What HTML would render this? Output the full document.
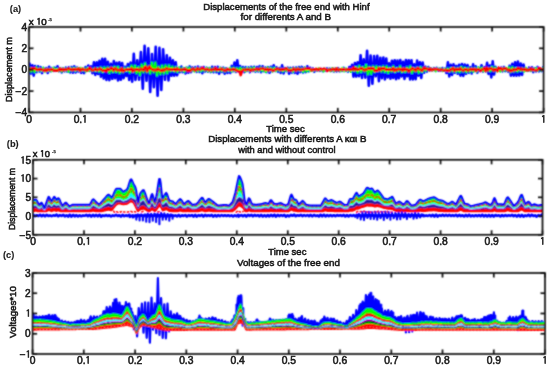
<!DOCTYPE html><html><head><meta charset="utf-8"><title>Displacements of the free end</title><style>html,body{margin:0;padding:0;background:#fff;overflow:hidden;width:550px;height:369px}svg{display:block}#w{width:550px;height:369px} text{stroke:#1a1a1a;stroke-width:0.55px}</style></head><body><div id="w"><svg width="550" height="369" viewBox="0 0 550 369" font-family="'Liberation Sans', sans-serif" font-size="9.5" fill="#1a1a1a"><defs><filter id="bl" x="0" y="0" width="550" height="369" filterUnits="userSpaceOnUse"><feConvolveMatrix order="3" kernelMatrix="1 2 1 2 8 2 1 2 1" divisor="20" edgeMode="duplicate" preserveAlpha="false"/></filter><clipPath id="c0"><rect x="29.0" y="27.0" width="514.6" height="85.4"/></clipPath><clipPath id="c1"><rect x="33.0" y="159.8" width="509.5" height="75.0"/></clipPath><clipPath id="c2"><rect x="32.6" y="273.0" width="512.4" height="81.0"/></clipPath></defs><g filter="url(#bl)"><g clip-path="url(#c0)"><polyline points="29.5,63.6 30.9,73.5 32.3,65.2 33.7,75.6 35.1,66.0 36.5,72.1 37.9,66.2 39.3,71.5 40.7,67.2 42.1,73.1 43.5,68.0 44.9,71.2 46.3,68.2 47.7,72.9 49.1,66.7 50.5,71.2 51.9,68.1 53.3,70.9 54.7,67.7 56.1,70.8 57.5,66.3 58.9,71.1 60.3,68.1 61.7,72.4 63.1,68.3 64.5,71.3 65.9,67.6 67.3,71.5 68.7,67.3 70.1,72.5 71.5,67.0 72.9,72.6 74.3,66.4 75.7,72.5 77.1,67.5 78.5,71.7 79.9,68.1 81.3,72.8 82.7,68.7 84.1,73.1 85.5,67.1 86.9,70.9 88.3,65.6 89.7,70.8 91.1,66.4 92.5,73.2 93.9,62.3 95.3,74.9 96.7,62.4 98.1,74.0 99.5,60.7 100.9,76.6 102.3,58.9 103.7,78.4 105.1,58.7 106.5,80.0 107.9,61.7 109.4,80.2 110.9,63.7 112.4,78.8 113.8,61.1 115.2,78.2 116.6,62.7 118.0,80.5 119.4,62.3 120.8,79.8 122.2,63.1 123.6,78.1 125.0,66.7 126.4,76.0 127.8,64.1 129.2,79.9 130.6,62.6 132.2,81.6 133.8,53.9 135.5,79.9 137.3,60.2 139.1,79.6 140.9,52.1 142.8,88.6 144.6,45.9 146.5,80.6 148.3,48.2 150.2,92.0 152.0,54.1 153.9,87.2 155.7,46.8 157.6,95.7 159.4,47.7 161.3,90.0 163.1,49.2 165.0,79.8 166.8,55.3 168.5,80.5 170.0,57.8 171.5,75.8 172.9,60.3 174.3,75.7 175.7,62.2 177.1,75.3 178.5,68.1 179.9,72.1 181.3,66.6 182.7,72.3 184.1,68.3 185.5,73.4 186.9,67.7 188.3,72.7 189.7,66.4 191.1,72.1 192.5,67.4 193.9,70.6 195.3,67.2 196.7,71.8 198.1,66.7 199.5,71.9 200.9,67.6 202.3,73.2 203.7,67.0 205.1,71.5 206.5,67.8 207.9,71.6 209.3,68.2 210.7,72.1 212.1,66.8 213.5,72.2 214.9,67.1 216.3,72.2 217.7,66.7 219.1,73.7 220.5,67.8 221.9,71.9 223.3,67.7 224.7,73.7 226.1,68.3 227.5,72.9 228.9,68.9 230.3,72.9 231.7,65.9 233.1,71.2 234.5,62.5 235.9,71.9 237.3,60.4 238.7,71.5 240.1,66.1 241.5,71.7 242.9,67.0 244.3,72.1 245.7,67.2 247.1,70.8 248.5,67.4 249.9,72.1 251.3,66.9 252.7,71.0 254.1,66.8 255.5,71.7 256.9,67.0 258.3,71.4 259.7,66.2 261.1,72.1 262.5,66.2 263.9,71.2 265.3,67.5 266.7,72.2 268.1,67.2 269.5,72.7 270.9,66.7 272.3,71.5 273.7,65.2 275.1,71.0 276.5,67.3 277.9,71.7 279.3,68.2 280.7,72.8 282.1,65.4 283.5,73.4 284.9,68.1 286.3,71.1 287.7,67.7 289.1,73.8 290.5,67.9 291.9,72.7 293.3,67.5 294.7,72.8 296.1,67.5 297.5,73.7 298.9,67.0 300.3,72.1 301.7,66.9 303.1,72.7 304.5,67.7 305.9,72.1 307.3,66.2 308.7,71.3 310.1,67.8 311.5,70.6 312.9,68.4 314.3,71.7 315.7,69.2 317.1,70.5 318.5,69.0 319.9,70.8 321.3,69.0 322.7,71.1 324.1,68.8 325.5,70.8 326.9,68.3 328.3,70.2 329.7,68.6 331.1,71.0 332.5,68.3 333.9,71.5 335.3,68.6 336.7,71.3 338.1,68.2 339.5,71.3 340.9,69.1 342.3,70.8 343.7,67.9 345.1,70.9 346.5,69.0 347.9,71.7 349.3,67.0 350.7,71.2 352.1,64.8 353.5,76.6 354.9,63.0 356.3,76.5 357.7,62.2 359.1,76.2 360.6,55.4 362.1,78.0 363.7,59.4 365.4,77.6 367.1,50.7 368.8,85.6 370.6,55.6 372.4,83.7 374.1,56.0 375.7,76.3 377.3,55.9 378.9,81.2 380.4,57.8 381.9,78.1 383.4,57.6 384.9,79.4 386.3,58.6 387.7,77.4 389.1,63.4 390.5,78.7 391.9,60.7 393.3,77.9 394.7,60.2 396.1,79.1 397.5,60.6 398.9,78.3 400.3,60.0 401.7,76.4 403.1,61.8 404.5,79.0 405.9,60.1 407.3,76.3 408.7,60.2 410.1,79.4 411.5,60.2 412.9,79.4 414.3,64.4 415.7,79.1 417.1,60.6 418.5,75.7 419.9,62.2 421.3,78.0 422.7,62.6 424.1,72.7 425.5,66.8 426.9,71.6 428.3,67.1 429.7,70.3 431.1,68.6 432.5,70.3 433.9,68.2 435.3,70.5 436.7,67.9 438.1,70.7 439.5,68.5 440.9,70.6 442.3,68.0 443.7,70.7 445.1,68.5 446.5,73.0 447.9,62.3 449.3,76.4 450.7,64.9 452.1,74.9 453.5,64.4 454.9,72.7 456.3,65.9 457.7,73.7 459.1,64.7 460.5,75.6 461.9,64.0 463.3,75.9 464.7,64.6 466.1,73.8 467.5,65.0 468.9,72.8 470.3,67.2 471.7,73.5 473.1,64.4 474.5,71.3 475.9,66.4 477.3,72.7 478.7,67.9 480.1,71.1 481.5,65.3 482.9,71.6 484.3,67.3 485.7,71.4 487.1,62.9 488.5,73.9 489.9,65.5 491.3,77.4 492.7,61.4 494.1,74.5 495.5,66.8 496.9,70.8 498.3,68.0 499.7,70.8 501.1,67.5 502.5,71.4 503.9,67.0 505.3,71.1 506.7,68.8 508.1,71.7 509.5,65.8 510.9,75.6 512.3,63.9 513.7,75.7 515.1,62.2 516.5,75.7 517.9,61.6 519.3,75.4 520.7,63.6 522.1,74.9 523.5,64.5 524.9,70.6 526.3,68.8 527.7,70.8 529.1,67.6 530.5,70.8 531.9,67.3 533.3,72.1 534.7,68.3 536.1,71.4 537.5,67.0 538.9,71.3 540.3,68.7 541.7,71.1 543.1,67.4" fill="none" stroke="#0000ff" stroke-width="2.6" stroke-linejoin="round" stroke-linecap="round"/><polyline points="29.5,67.3 31.2,71.7 32.9,68.4 34.6,72.0 36.3,67.3 38.0,70.8 39.7,68.4 41.4,70.8 43.1,67.7 44.8,71.7 46.5,68.8 48.2,71.0 49.9,68.6 51.6,71.1 53.3,67.7 55.0,70.6 56.7,68.7 58.4,71.1 60.1,68.2 61.8,71.5 63.5,68.3 65.2,70.7 66.9,68.4 68.6,71.8 70.3,67.9 72.0,70.7 73.7,67.9 75.4,70.9 77.1,67.9 78.8,70.6 80.5,67.8 82.2,70.7 83.9,68.3 85.6,71.4 87.3,68.1 89.0,70.8 90.7,68.4 92.4,71.1 94.1,68.4 95.8,71.1 97.5,68.2 99.2,71.7 100.9,67.5 102.6,72.2 104.3,67.5 106.0,71.2 107.7,67.3 109.4,72.9 111.1,67.5 112.8,72.1 114.5,66.7 116.2,72.1 117.9,66.7 119.6,73.2 121.3,68.0 123.0,72.4 124.7,68.2 126.4,71.0 128.1,67.7 129.8,72.6 131.5,65.6 133.2,72.0 134.9,65.6 136.6,73.2 138.3,67.0 140.0,74.9 141.7,64.7 143.4,72.3 145.1,63.4 146.8,72.4 148.5,66.5 150.2,73.5 151.9,62.7 153.6,72.3 155.3,62.6 157.0,75.6 158.7,66.7 160.4,74.1 162.1,65.6 163.8,73.7 165.5,65.3 167.2,73.3 168.9,65.4 170.6,71.4 172.3,66.6 174.0,71.5 175.7,67.2 177.4,72.0 179.1,67.3 180.8,71.0 182.5,68.2 184.2,71.9 185.9,67.6 187.6,71.1 189.3,67.6 191.0,71.2 192.7,68.3 194.4,71.6 196.1,68.2 197.8,71.2 199.5,68.3 201.2,71.2 202.9,68.6 204.6,70.7 206.3,67.8 208.0,71.4 209.7,67.9 211.4,71.7 213.1,68.5 214.8,70.9 216.5,68.5 218.2,71.0 219.9,67.8 221.6,71.1 223.3,68.4 225.0,71.5 226.7,68.6 228.4,70.8 230.1,67.8 231.8,71.4 233.5,67.6 235.2,71.2 236.9,68.2 238.6,71.0 240.3,67.8 242.0,71.0 243.7,68.4 245.4,71.4 247.1,68.0 248.8,70.8 250.5,67.9 252.2,70.7 253.9,67.5 255.6,70.9 257.3,68.4 259.0,70.9 260.7,67.4 262.4,71.0 264.1,67.9 265.8,72.0 267.5,67.4 269.2,70.7 270.9,68.0 272.6,71.5 274.3,67.8 276.0,71.1 277.7,68.3 279.4,70.7 281.1,68.7 282.8,71.4 284.5,68.6 286.2,70.9 287.9,68.3 289.6,70.7 291.3,68.7 293.0,71.9 294.7,68.2 296.4,70.9 298.1,67.8 299.8,70.6 301.5,68.4 303.2,71.9 304.9,67.6 306.6,71.5 308.3,68.7 310.0,71.0 311.7,68.9 313.4,70.6 315.1,68.9 316.8,70.5 318.5,68.3 320.2,70.5 321.9,68.8 323.6,71.3 325.3,68.6 327.0,70.8 328.7,68.9 330.4,71.2 332.1,68.2 333.8,71.0 335.5,68.3 337.2,70.5 338.9,68.7 340.6,71.0 342.3,67.9 344.0,71.3 345.7,68.3 347.4,70.9 349.1,68.9 350.8,71.8 352.5,68.5 354.2,71.1 355.9,66.9 357.6,72.7 359.3,65.9 361.0,72.2 362.7,67.1 364.4,71.5 366.1,64.8 367.8,74.4 369.5,66.7 371.2,73.9 372.9,66.4 374.6,72.2 376.3,66.4 378.0,71.3 379.7,66.8 381.4,71.6 383.1,66.4 384.8,72.2 386.5,66.3 388.2,73.0 389.9,67.7 391.6,71.6 393.3,66.4 395.0,72.1 396.7,68.1 398.4,71.2 400.1,66.3 401.8,72.3 403.5,68.2 405.2,72.1 406.9,67.3 408.6,72.0 410.3,66.4 412.0,73.0 413.7,68.1 415.4,71.4 417.1,67.5 418.8,72.8 420.5,67.1 422.2,72.1 423.9,67.6 425.6,70.8 427.3,67.7 429.0,70.4 430.7,68.3 432.4,70.5 434.1,68.5 435.8,71.3 437.5,68.4 439.2,70.4 440.9,68.5 442.6,71.0 444.3,68.9 446.0,71.0 447.7,68.5 449.4,71.7 451.1,67.9 452.8,71.6 454.5,68.0 456.2,71.9 457.9,68.2 459.6,72.2 461.3,66.9 463.0,71.6 464.7,67.7 466.4,72.1 468.1,68.2 469.8,71.8 471.5,68.3 473.2,71.7 474.9,68.2 476.6,71.5 478.3,67.4 480.0,70.7 481.7,67.6 483.4,71.4 485.1,68.2 486.8,71.2 488.5,68.3 490.2,71.3 491.9,66.9 493.6,71.2 495.3,67.5 497.0,71.5 498.7,67.7 500.4,71.5 502.1,67.9 503.8,70.7 505.5,67.7 507.2,70.7 508.9,67.3 510.6,72.1 512.3,67.2 514.0,71.6 515.7,68.0 517.4,71.6 519.1,67.9 520.8,70.9 522.5,68.3 524.2,71.5 525.9,67.8 527.6,70.6 529.3,68.9 531.0,70.7 532.7,68.7 534.4,70.7 536.1,68.2 537.8,70.9 539.5,68.4 541.2,70.7 542.9,68.1" fill="none" stroke="#00ff00" stroke-width="2.2" stroke-linejoin="round" stroke-linecap="round"/><polyline points="29.5,69.2 30.7,69.8 31.9,68.1 33.1,69.2 34.3,68.3 35.5,68.8 36.7,69.9 37.9,69.7 39.1,69.2 40.3,69.4 41.5,69.5 42.7,69.7 43.9,70.6 45.1,69.6 46.3,70.9 47.5,69.3 48.7,69.9 49.9,69.9 51.1,69.6 52.3,69.3 53.5,70.4 54.7,70.6 55.9,70.2 57.1,70.8 58.3,70.1 59.5,68.5 60.7,70.1 61.9,69.1 63.1,70.3 64.3,69.3 65.5,69.7 66.7,69.5 67.9,69.1 69.1,68.4 70.3,69.4 71.5,69.4 72.7,70.1 73.9,69.1 75.1,69.6 76.3,69.0 77.5,69.5 78.7,68.4 79.9,70.7 81.1,69.7 82.3,68.9 83.5,69.7 84.7,70.0 85.9,69.7 87.1,70.4 88.3,69.4 89.5,67.8 90.7,68.7 91.9,70.3 93.1,70.1 94.3,69.8 95.5,68.7 96.7,70.1 97.9,70.0 99.1,68.8 100.3,68.8 101.5,69.8 102.7,70.4 103.9,70.8 105.1,70.1 106.3,71.4 107.5,68.9 108.7,70.0 109.9,69.1 111.1,67.9 112.3,68.5 113.5,70.4 114.7,68.8 115.9,68.6 117.1,70.1 118.3,70.2 119.5,69.6 120.7,70.7 121.9,68.4 123.1,71.2 124.3,70.3 125.5,69.7 126.7,69.6 127.9,69.4 129.1,69.3 130.3,69.7 131.5,68.5 132.7,71.4 133.9,69.5 135.1,70.2 136.3,69.4 137.5,69.3 138.7,70.4 139.9,70.2 141.1,68.6 142.3,69.1 143.5,70.2 144.7,67.2 145.9,66.8 147.1,71.2 148.3,69.1 149.5,66.5 150.7,68.5 151.9,69.2 153.1,69.7 154.3,70.2 155.5,69.7 156.7,70.2 157.9,68.6 159.1,69.9 160.3,70.0 161.5,70.8 162.7,69.5 163.9,70.4 165.1,69.7 166.3,68.5 167.5,69.1 168.7,69.0 169.9,69.2 171.1,69.4 172.3,69.6 173.5,69.7 174.7,68.9 175.9,70.3 177.1,68.6 178.3,69.5 179.5,70.0 180.7,69.8 181.9,69.9 183.1,69.4 184.3,69.9 185.5,68.8 186.7,70.0 187.9,70.9 189.1,70.0 190.3,70.8 191.5,69.5 192.7,68.8 193.9,69.1 195.1,70.3 196.3,70.0 197.5,68.4 198.7,69.3 199.9,69.5 201.1,68.8 202.3,67.9 203.5,68.7 204.7,69.4 205.9,69.3 207.1,69.1 208.3,69.9 209.5,70.2 210.7,69.5 211.9,70.1 213.1,69.5 214.3,69.4 215.5,68.0 216.7,70.0 217.9,69.6 219.1,69.6 220.3,69.2 221.5,68.8 222.7,69.8 223.9,70.0 225.1,70.5 226.3,70.1 227.5,69.1 228.7,69.5 229.9,70.1 231.1,69.8 232.3,69.5 233.5,69.1 234.7,70.0 235.9,69.7 237.1,71.0 238.3,71.0 239.5,71.2 240.7,75.1 241.9,71.7 243.1,69.7 244.3,69.7 245.5,70.0 246.7,69.5 247.9,69.5 249.1,69.5 250.3,70.7 251.5,69.6 252.7,70.0 253.9,69.8 255.1,69.3 256.3,69.1 257.5,68.9 258.7,69.8 259.9,68.9 261.1,68.7 262.3,68.7 263.5,68.6 264.7,69.6 265.9,69.6 267.1,68.9 268.3,70.4 269.5,69.3 270.7,69.8 271.9,69.7 273.1,70.6 274.3,70.1 275.5,69.5 276.7,68.9 277.9,68.8 279.1,69.5 280.3,69.6 281.5,70.0 282.7,69.2 283.9,69.6 285.1,69.1 286.3,68.3 287.5,69.5 288.7,70.5 289.9,70.1 291.1,70.4 292.3,70.3 293.5,68.6 294.7,69.3 295.9,70.5 297.1,69.1 298.3,68.7 299.5,69.7 300.7,69.9 301.9,69.7 303.1,69.3 304.3,69.1 305.5,68.7 306.7,68.7 307.9,68.7 309.1,68.6 310.3,69.1 311.5,70.4 312.7,69.6 313.9,69.3 315.1,69.7 316.3,68.9 317.5,69.7 318.7,70.0 319.9,68.6 321.1,69.1 322.3,69.4 323.5,68.9 324.7,68.9 325.9,69.3 327.1,71.0 328.3,69.9 329.5,69.8 330.7,70.1 331.9,69.4 333.1,68.8 334.3,69.8 335.5,70.2 336.7,68.3 337.9,69.8 339.1,70.2 340.3,69.3 341.5,69.2 342.7,69.9 343.9,69.0 345.1,69.8 346.3,70.0 347.5,69.4 348.7,69.0 349.9,69.9 351.1,69.3 352.3,69.6 353.5,67.5 354.7,70.0 355.9,68.4 357.1,69.5 358.3,69.6 359.5,68.8 360.7,68.7 361.9,68.3 363.1,69.2 364.3,70.1 365.5,70.0 366.7,69.0 367.9,68.9 369.1,68.1 370.3,69.1 371.5,68.4 372.7,68.0 373.9,69.3 375.1,70.9 376.3,70.6 377.5,70.8 378.7,68.1 379.9,70.2 381.1,68.4 382.3,69.0 383.5,68.0 384.7,68.7 385.9,69.6 387.1,69.6 388.3,69.4 389.5,69.3 390.7,69.9 391.9,69.5 393.1,68.2 394.3,70.8 395.5,69.3 396.7,70.2 397.9,69.3 399.1,68.8 400.3,69.5 401.5,68.9 402.7,70.7 403.9,68.6 405.1,70.0 406.3,69.0 407.5,69.3 408.7,71.5 409.9,70.1 411.1,69.3 412.3,68.3 413.5,69.3 414.7,69.3 415.9,70.6 417.1,68.4 418.3,68.1 419.5,69.5 420.7,69.7 421.9,70.7 423.1,68.8 424.3,67.6 425.5,69.0 426.7,68.7 427.9,69.1 429.1,70.1 430.3,68.7 431.5,70.2 432.7,69.6 433.9,69.3 435.1,69.0 436.3,69.2 437.5,69.3 438.7,69.9 439.9,70.2 441.1,69.5 442.3,69.9 443.5,70.3 444.7,70.2 445.9,69.8 447.1,70.8 448.3,70.5 449.5,70.7 450.7,69.4 451.9,69.2 453.1,68.0 454.3,70.6 455.5,70.0 456.7,68.8 457.9,69.6 459.1,69.7 460.3,68.3 461.5,69.7 462.7,70.3 463.9,70.4 465.1,69.2 466.3,69.3 467.5,70.4 468.7,70.2 469.9,69.1 471.1,69.1 472.3,69.9 473.5,69.1 474.7,69.1 475.9,70.7 477.1,69.7 478.3,69.2 479.5,69.9 480.7,70.9 481.9,69.7 483.1,69.0 484.3,68.4 485.5,71.0 486.7,67.7 487.9,70.3 489.1,68.8 490.3,68.5 491.5,68.7 492.7,69.4 493.9,70.4 495.1,69.0 496.3,69.9 497.5,71.0 498.7,67.7 499.9,69.0 501.1,68.4 502.3,70.0 503.5,68.6 504.7,68.5 505.9,68.5 507.1,69.5 508.3,70.3 509.5,69.6 510.7,71.1 511.9,70.8 513.1,69.4 514.3,70.2 515.5,69.6 516.7,69.6 517.9,68.0 519.1,68.5 520.3,69.5 521.5,68.6 522.7,70.0 523.9,69.7 525.1,68.9 526.3,70.3 527.5,69.7 528.7,70.3 529.9,69.4 531.1,68.5 532.3,70.0 533.5,69.3 534.7,70.0 535.9,70.2 537.1,70.2 538.3,68.6 539.5,68.0 540.7,69.2 541.9,69.9 543.1,69.1" fill="none" stroke="#ff0000" stroke-width="2.6" stroke-linejoin="round" stroke-linecap="round"/></g><g clip-path="url(#c1)"><polygon points="33.2,208.2 33.9,208.0 34.6,208.0 35.3,207.9 36.0,207.9 36.7,208.3 37.4,208.6 38.1,209.2 38.8,209.3 39.5,209.6 40.2,209.2 40.9,209.0 41.6,208.8 42.3,209.0 43.0,209.7 43.7,210.1 44.4,210.3 45.1,209.7 45.8,209.0 46.5,208.6 47.2,208.2 47.9,207.4 48.6,207.4 49.3,207.1 50.0,207.8 50.7,208.5 51.4,208.0 52.1,207.9 52.8,208.0 53.5,207.4 54.2,207.2 54.9,207.4 55.6,208.0 56.3,208.1 57.0,207.8 57.7,207.6 58.4,207.4 59.1,207.7 59.8,207.8 60.5,208.7 61.2,209.0 61.9,209.7 62.6,209.8 63.3,209.2 64.0,209.3 64.7,208.9 65.4,208.8 66.1,208.9 66.8,209.0 67.5,209.3 68.2,209.5 68.9,209.5 69.6,209.7 70.3,209.8 71.0,209.7 71.7,209.4 72.4,209.4 73.1,209.2 73.8,208.9 74.5,209.2 75.2,209.3 75.9,209.4 76.6,209.5 77.3,209.5 78.0,209.5 78.7,209.4 79.4,209.4 80.1,209.2 80.8,209.4 81.5,209.4 82.2,209.5 82.9,209.1 83.6,209.3 84.3,209.1 85.0,209.2 85.7,209.1 86.4,209.4 87.1,209.2 87.8,208.9 88.5,209.5 89.2,209.2 89.9,209.0 90.6,208.9 91.3,208.5 92.0,208.1 92.7,208.0 93.4,207.8 94.1,208.2 94.8,208.3 95.5,208.5 96.2,208.6 96.9,208.8 97.6,208.9 98.3,209.3 99.0,208.9 99.7,209.0 100.4,208.9 101.1,208.8 101.8,208.6 102.5,208.2 103.2,208.0 103.9,208.2 104.6,207.6 105.3,207.0 106.0,207.5 106.7,206.9 107.4,206.8 108.1,206.7 108.8,206.4 109.5,207.0 110.2,207.0 110.9,207.0 111.6,207.4 112.3,207.1 113.0,206.3 113.7,205.6 114.4,204.6 115.1,204.2 115.8,203.2 116.5,203.0 117.2,202.3 117.9,202.0 118.6,202.4 119.3,202.0 120.0,202.2 120.7,202.2 121.4,202.1 122.1,202.7 122.8,202.9 123.5,202.6 124.2,202.7 124.9,202.3 125.6,202.4 126.3,202.5 127.0,202.2 127.7,201.7 128.4,201.2 129.1,200.7 129.8,200.1 130.5,199.6 131.2,199.5 131.9,199.5 132.6,200.2 133.3,201.1 134.0,202.1 134.7,202.9 135.4,204.0 136.1,205.5 136.8,206.9 137.5,208.1 138.2,208.9 138.9,208.1 139.6,206.8 140.3,206.4 141.0,205.9 141.7,205.6 142.4,205.5 143.1,205.4 143.8,205.1 144.5,205.8 145.2,206.5 145.9,206.8 146.6,207.4 147.3,208.1 148.0,208.4 148.7,208.8 149.4,209.1 150.1,208.2 150.8,207.5 151.5,206.8 152.2,206.7 152.9,207.0 153.6,207.6 154.3,208.2 155.0,208.7 155.7,207.8 156.4,207.2 157.1,206.1 157.8,204.6 158.5,203.6 159.2,202.4 159.9,202.2 160.6,203.5 161.3,205.5 162.0,207.2 162.7,207.4 163.4,207.6 164.1,207.1 164.8,206.8 165.5,206.5 166.2,206.2 166.9,206.6 167.6,206.9 168.3,207.6 169.0,208.0 169.7,208.2 170.4,208.4 171.1,208.3 171.8,208.1 172.5,208.4 173.2,208.7 173.9,208.8 174.6,209.1 175.3,209.0 176.0,208.9 176.7,208.9 177.4,208.6 178.1,208.2 178.8,208.2 179.5,207.9 180.2,207.9 180.9,208.0 181.6,208.3 182.3,208.2 183.0,208.9 183.7,209.1 184.4,209.1 185.1,208.9 185.8,208.7 186.5,208.6 187.2,208.1 187.9,208.3 188.6,208.1 189.3,208.5 190.0,208.6 190.7,209.1 191.4,209.1 192.1,209.3 192.8,209.4 193.5,209.6 194.2,209.2 194.9,209.3 195.6,209.3 196.3,209.2 197.0,209.1 197.7,208.7 198.4,208.8 199.1,208.5 199.8,208.1 200.5,207.8 201.2,207.7 201.9,207.5 202.6,207.6 203.3,207.8 204.0,208.0 204.7,208.7 205.4,208.4 206.1,208.4 206.8,208.3 207.5,207.9 208.2,208.0 208.9,208.0 209.6,208.1 210.3,208.1 211.0,208.2 211.7,208.3 212.4,208.4 213.1,208.9 213.8,208.6 214.5,209.1 215.2,209.1 215.9,209.2 216.6,209.5 217.3,209.7 218.0,209.7 218.7,209.5 219.4,209.4 220.1,209.4 220.8,209.6 221.5,209.6 222.2,209.6 222.9,209.4 223.6,209.7 224.3,209.2 225.0,209.4 225.7,209.5 226.4,209.4 227.1,209.3 227.8,209.4 228.5,209.4 229.2,209.5 229.9,209.2 230.6,209.0 231.3,209.0 232.0,208.6 232.7,208.5 233.4,208.0 234.1,207.5 234.8,206.7 235.5,205.9 236.2,205.3 236.9,204.1 237.6,203.2 238.3,202.3 239.0,201.9 239.7,201.7 240.4,202.0 241.1,202.7 241.8,203.1 242.5,204.1 243.2,205.0 243.9,206.8 244.6,208.1 245.3,209.1 246.0,209.0 246.7,209.2 247.4,208.6 248.1,208.3 248.8,207.7 249.5,207.3 250.2,208.2 250.9,208.7 251.6,209.0 252.3,209.3 253.0,209.1 253.7,209.0 254.4,209.4 255.1,209.6 255.8,209.2 256.5,209.2 257.2,209.2 257.9,209.1 258.6,209.4 259.3,209.3 260.0,209.4 260.7,209.4 261.4,209.0 262.1,209.2 262.8,208.7 263.5,209.0 264.2,209.0 264.9,208.8 265.6,208.6 266.3,208.8 267.0,209.2 267.7,209.0 268.4,208.9 269.1,209.0 269.8,208.6 270.5,208.0 271.2,208.1 271.9,208.5 272.6,208.7 273.3,209.0 274.0,209.0 274.7,209.1 275.4,208.9 276.1,209.0 276.8,209.4 277.5,209.1 278.2,208.9 278.9,208.9 279.6,208.8 280.3,209.0 281.0,209.0 281.7,208.8 282.4,209.2 283.1,209.5 283.8,209.1 284.5,209.5 285.2,209.5 285.9,209.7 286.6,209.6 287.3,209.5 288.0,209.2 288.7,208.8 289.4,208.5 290.1,207.4 290.8,207.0 291.5,206.7 292.2,206.8 292.9,207.4 293.6,208.0 294.3,207.6 295.0,208.1 295.7,208.0 296.4,208.1 297.1,208.3 297.8,209.0 298.5,209.1 299.2,209.3 299.9,208.8 300.6,208.9 301.3,208.7 302.0,208.1 302.7,208.2 303.4,208.4 304.1,208.3 304.8,208.9 305.5,209.3 306.2,209.2 306.9,209.6 307.6,209.3 308.3,209.3 309.0,209.6 309.7,209.6 310.4,209.5 311.1,209.6 311.8,209.7 312.5,209.5 313.2,209.9 313.9,209.6 314.6,209.6 315.3,209.6 316.0,209.5 316.7,209.7 317.4,209.5 318.1,209.6 318.8,209.7 319.5,209.8 320.2,209.7 320.9,209.5 321.6,209.4 322.3,208.9 323.0,208.4 323.7,208.1 324.4,207.6 325.1,207.6 325.8,207.8 326.5,207.8 327.2,208.1 327.9,208.2 328.6,208.3 329.3,208.1 330.0,208.1 330.7,208.0 331.4,208.0 332.1,208.1 332.8,208.2 333.5,208.3 334.2,208.3 334.9,208.6 335.6,208.4 336.3,208.8 337.0,208.6 337.7,208.7 338.4,208.6 339.1,208.2 339.8,208.5 340.5,208.7 341.2,208.8 341.9,208.9 342.6,208.7 343.3,209.1 344.0,209.2 344.7,209.5 345.4,209.3 346.1,209.3 346.8,209.1 347.5,209.4 348.2,208.9 348.9,208.4 349.6,208.1 350.3,207.7 351.0,207.8 351.7,208.1 352.4,207.7 353.1,207.6 353.8,207.4 354.5,207.2 355.2,206.4 355.9,206.0 356.6,205.5 357.3,205.6 358.0,206.1 358.7,206.0 359.4,205.9 360.1,205.6 360.8,205.3 361.5,205.1 362.2,204.7 362.9,204.7 363.6,204.6 364.3,204.3 365.0,203.8 365.7,203.7 366.4,203.3 367.1,203.0 367.8,203.2 368.5,203.3 369.2,203.5 369.9,203.1 370.6,203.2 371.3,203.2 372.0,203.3 372.7,203.2 373.4,203.8 374.1,204.1 374.8,204.3 375.5,204.2 376.2,203.8 376.9,203.9 377.6,203.5 378.3,204.1 379.0,204.1 379.7,204.5 380.4,204.3 381.1,204.9 381.8,205.2 382.5,205.3 383.2,205.5 383.9,206.1 384.6,206.1 385.3,206.3 386.0,206.2 386.7,206.3 387.4,206.5 388.1,206.7 388.8,206.6 389.5,206.6 390.2,206.4 390.9,206.2 391.6,206.7 392.3,206.5 393.0,206.9 393.7,207.2 394.4,207.9 395.1,208.3 395.8,208.8 396.5,208.6 397.2,208.7 397.9,208.7 398.6,208.5 399.3,208.5 400.0,208.8 400.7,208.6 401.4,208.8 402.1,209.1 402.8,209.0 403.5,209.1 404.2,209.3 404.9,209.1 405.6,208.5 406.3,208.3 407.0,208.4 407.7,208.6 408.4,208.7 409.1,208.9 409.8,209.3 410.5,209.3 411.2,209.7 411.9,209.7 412.6,209.4 413.3,209.6 414.0,209.4 414.7,209.3 415.4,209.2 416.1,209.2 416.8,208.9 417.5,208.8 418.2,208.2 418.9,208.1 419.6,208.2 420.3,208.0 421.0,207.9 421.7,208.1 422.4,208.0 423.1,208.1 423.8,208.4 424.5,208.3 425.2,208.4 425.9,208.0 426.6,207.9 427.3,207.4 428.0,207.7 428.7,208.0 429.4,207.7 430.1,207.5 430.8,207.7 431.5,207.6 432.2,207.5 432.9,207.3 433.6,207.3 434.3,207.4 435.0,207.3 435.7,207.6 436.4,207.7 437.1,208.0 437.8,208.0 438.5,207.9 439.2,208.3 439.9,208.1 440.6,208.0 441.3,208.2 442.0,208.2 442.7,208.4 443.4,208.2 444.1,208.3 444.8,208.6 445.5,209.0 446.2,209.0 446.9,208.8 447.6,208.8 448.3,209.1 449.0,208.8 449.7,209.0 450.4,208.8 451.1,208.7 451.8,208.5 452.5,208.7 453.2,208.5 453.9,208.6 454.6,209.2 455.3,209.4 456.0,209.2 456.7,209.0 457.4,208.9 458.1,208.0 458.8,207.8 459.5,207.5 460.2,206.7 460.9,206.9 461.6,207.3 462.3,207.7 463.0,208.3 463.7,208.7 464.4,208.9 465.1,209.1 465.8,209.2 466.5,208.9 467.2,209.0 467.9,209.1 468.6,209.2 469.3,209.4 470.0,209.4 470.7,209.7 471.4,209.4 472.1,209.8 472.8,209.6 473.5,209.8 474.2,209.6 474.9,209.4 475.6,209.2 476.3,209.5 477.0,209.3 477.7,209.3 478.4,209.4 479.1,209.4 479.8,209.1 480.5,209.4 481.2,209.1 481.9,209.0 482.6,209.1 483.3,209.0 484.0,209.0 484.7,208.4 485.4,208.9 486.1,208.5 486.8,208.7 487.5,209.0 488.2,209.2 488.9,209.0 489.6,209.0 490.3,209.5 491.0,209.3 491.7,209.0 492.4,208.8 493.1,208.1 493.8,207.9 494.5,207.4 495.2,208.0 495.9,208.1 496.6,209.0 497.3,209.5 498.0,209.2 498.7,209.2 499.4,208.9 500.1,209.2 500.8,209.2 501.5,209.1 502.2,209.0 502.9,209.3 503.6,209.1 504.3,209.0 505.0,208.8 505.7,208.3 506.4,207.8 507.1,207.6 507.8,207.1 508.5,207.7 509.2,207.6 509.9,207.9 510.6,208.4 511.3,208.8 512.0,209.0 512.7,209.2 513.4,209.4 514.1,209.6 514.8,209.4 515.5,209.4 516.2,209.1 516.9,209.2 517.6,208.6 518.3,208.4 519.0,208.1 519.7,207.4 520.4,207.0 521.1,207.1 521.8,206.6 522.5,207.3 523.2,207.5 523.9,207.8 524.6,208.8 525.3,209.0 526.0,209.0 526.7,208.8 527.4,208.6 528.1,208.4 528.8,208.7 529.5,208.5 530.2,209.2 530.9,209.2 531.6,209.3 532.3,209.3 533.0,209.5 533.7,209.4 534.4,209.3 535.1,209.3 535.8,209.2 536.5,209.6 537.2,209.4 537.9,209.4 538.6,209.4 539.3,209.4 540.0,209.2 540.7,209.4 541.4,209.3 542.1,209.3 542.1,212.3 541.4,212.3 540.7,212.3 540.0,212.3 539.3,212.3 538.6,212.3 537.9,212.3 537.2,212.3 536.5,212.3 535.8,212.3 535.1,212.3 534.4,212.3 533.7,212.3 533.0,212.3 532.3,212.3 531.6,212.3 530.9,212.3 530.2,212.3 529.5,212.3 528.8,212.3 528.1,212.3 527.4,212.3 526.7,212.3 526.0,212.3 525.3,212.3 524.6,212.3 523.9,212.0 523.2,211.6 522.5,211.1 521.8,210.8 521.1,210.8 520.4,211.2 519.7,211.5 519.0,211.9 518.3,212.2 517.6,212.3 516.9,212.3 516.2,212.3 515.5,212.3 514.8,212.3 514.1,212.3 513.4,212.3 512.7,212.3 512.0,212.3 511.3,212.3 510.6,212.1 509.9,211.9 509.2,211.7 508.5,211.5 507.8,211.3 507.1,211.4 506.4,211.7 505.7,212.1 505.0,212.3 504.3,212.3 503.6,212.3 502.9,212.3 502.2,212.3 501.5,212.3 500.8,212.3 500.1,212.3 499.4,212.3 498.7,212.3 498.0,212.3 497.3,212.3 496.6,212.3 495.9,212.2 495.2,211.7 494.5,211.5 493.8,211.7 493.1,212.2 492.4,212.3 491.7,212.3 491.0,212.3 490.3,212.3 489.6,212.3 488.9,212.3 488.2,212.3 487.5,212.3 486.8,212.3 486.1,212.3 485.4,212.3 484.7,212.3 484.0,212.3 483.3,212.3 482.6,212.3 481.9,212.3 481.2,212.3 480.5,212.3 479.8,212.3 479.1,212.3 478.4,212.3 477.7,212.3 477.0,212.3 476.3,212.3 475.6,212.3 474.9,212.3 474.2,212.3 473.5,212.3 472.8,212.3 472.1,212.3 471.4,212.3 470.7,212.3 470.0,212.3 469.3,212.3 468.6,212.3 467.9,212.3 467.2,212.3 466.5,212.3 465.8,212.3 465.1,212.3 464.4,212.3 463.7,212.3 463.0,212.0 462.3,211.6 461.6,211.2 460.9,211.0 460.2,211.1 459.5,211.4 458.8,211.7 458.1,212.0 457.4,212.3 456.7,212.3 456.0,212.3 455.3,212.3 454.6,212.3 453.9,212.3 453.2,212.3 452.5,212.3 451.8,212.3 451.1,212.3 450.4,212.3 449.7,212.3 449.0,212.3 448.3,212.3 447.6,212.3 446.9,212.3 446.2,212.3 445.5,212.3 444.8,212.3 444.1,212.3 443.4,212.2 442.7,212.1 442.0,212.0 441.3,212.0 440.6,212.0 439.9,211.9 439.2,211.9 438.5,211.9 437.8,211.8 437.1,211.7 436.4,211.6 435.7,211.5 435.0,211.4 434.3,211.3 433.6,211.3 432.9,211.3 432.2,211.4 431.5,211.4 430.8,211.5 430.1,211.5 429.4,211.5 428.7,211.6 428.0,211.7 427.3,211.7 426.6,211.8 425.9,211.9 425.2,212.0 424.5,212.1 423.8,212.2 423.1,212.1 422.4,212.1 421.7,212.0 421.0,211.9 420.3,211.8 419.6,211.9 418.9,212.0 418.2,212.2 417.5,212.3 416.8,212.3 416.1,212.3 415.4,212.3 414.7,212.3 414.0,212.3 413.3,212.3 412.6,212.3 411.9,212.3 411.2,212.3 410.5,212.3 409.8,212.3 409.1,212.3 408.4,212.3 407.7,212.2 407.0,212.1 406.3,212.3 405.6,212.3 404.9,212.3 404.2,212.3 403.5,212.3 402.8,212.3 402.1,212.3 401.4,212.3 400.7,212.3 400.0,212.3 399.3,212.3 398.6,212.3 397.9,212.3 397.2,212.1 396.5,212.0 395.8,211.8 395.1,211.7 394.4,211.3 393.7,210.9 393.0,210.4 392.3,210.0 391.6,209.9 390.9,209.9 390.2,209.8 389.5,209.8 388.8,209.7 388.1,209.7 387.4,209.5 386.7,209.4 386.0,209.2 385.3,209.0 384.6,208.9 383.9,208.9 383.2,208.7 382.5,208.4 381.8,208.2 381.1,208.0 380.4,207.8 379.7,207.6 379.0,207.4 378.3,207.2 377.6,207.1 376.9,207.2 376.2,207.3 375.5,207.4 374.8,207.5 374.1,207.4 373.4,207.1 372.7,206.9 372.0,206.7 371.3,206.7 370.6,206.8 369.9,206.8 369.2,206.8 368.5,206.7 367.8,206.5 367.1,206.5 366.4,206.7 365.7,206.9 365.0,207.2 364.3,207.5 363.6,207.7 362.9,207.9 362.2,207.9 361.5,208.2 360.8,208.6 360.1,209.0 359.4,209.3 358.7,209.6 358.0,209.7 357.3,209.7 356.6,209.7 355.9,210.1 355.2,210.7 354.5,211.0 353.8,211.3 353.1,211.6 352.4,211.7 351.7,211.7 351.0,211.7 350.3,211.7 349.6,211.8 348.9,212.2 348.2,212.3 347.5,212.3 346.8,212.3 346.1,212.3 345.4,212.3 344.7,212.3 344.0,212.3 343.3,212.3 342.6,212.3 341.9,212.3 341.2,212.3 340.5,212.3 339.8,212.3 339.1,212.3 338.4,212.3 337.7,212.3 337.0,212.3 336.3,212.3 335.6,212.3 334.9,212.3 334.2,212.2 333.5,212.1 332.8,212.1 332.1,212.0 331.4,211.9 330.7,212.0 330.0,212.0 329.3,212.1 328.6,212.1 327.9,212.1 327.2,212.0 326.5,211.8 325.8,211.6 325.1,211.5 324.4,211.8 323.7,212.0 323.0,212.3 322.3,212.3 321.6,212.3 320.9,212.3 320.2,212.3 319.5,212.3 318.8,212.3 318.1,212.3 317.4,212.3 316.7,212.3 316.0,212.3 315.3,212.3 314.6,212.3 313.9,212.3 313.2,212.3 312.5,212.3 311.8,212.3 311.1,212.3 310.4,212.3 309.7,212.3 309.0,212.3 308.3,212.3 307.6,212.3 306.9,212.3 306.2,212.3 305.5,212.3 304.8,212.3 304.1,212.3 303.4,212.2 302.7,212.1 302.0,212.2 301.3,212.3 300.6,212.3 299.9,212.3 299.2,212.3 298.5,212.3 297.8,212.3 297.1,212.3 296.4,212.0 295.7,211.9 295.0,211.8 294.3,211.8 293.6,211.7 292.9,211.4 292.2,211.0 291.5,210.7 290.8,210.9 290.1,211.5 289.4,212.0 288.7,212.3 288.0,212.3 287.3,212.3 286.6,212.3 285.9,212.3 285.2,212.3 284.5,212.3 283.8,212.3 283.1,212.3 282.4,212.3 281.7,212.3 281.0,212.3 280.3,212.3 279.6,212.3 278.9,212.3 278.2,212.3 277.5,212.3 276.8,212.3 276.1,212.3 275.4,212.3 274.7,212.3 274.0,212.3 273.3,212.3 272.6,212.3 271.9,212.1 271.2,211.9 270.5,212.0 269.8,212.3 269.1,212.3 268.4,212.3 267.7,212.3 267.0,212.3 266.3,212.3 265.6,212.3 264.9,212.3 264.2,212.3 263.5,212.3 262.8,212.3 262.1,212.3 261.4,212.3 260.7,212.3 260.0,212.3 259.3,212.3 258.6,212.3 257.9,212.3 257.2,212.3 256.5,212.3 255.8,212.3 255.1,212.3 254.4,212.3 253.7,212.3 253.0,212.3 252.3,212.3 251.6,212.3 250.9,212.3 250.2,211.9 249.5,211.6 248.8,211.5 248.1,212.0 247.4,212.3 246.7,212.3 246.0,212.3 245.3,212.3 244.6,212.0 243.9,210.8 243.2,209.5 242.5,208.4 241.8,207.9 241.1,207.5 240.4,207.1 239.7,206.7 239.0,206.6 238.3,207.2 237.6,208.0 236.9,208.8 236.2,209.5 235.5,210.2 234.8,210.8 234.1,211.3 233.4,211.8 232.7,212.3 232.0,212.3 231.3,212.3 230.6,212.3 229.9,212.3 229.2,212.3 228.5,212.3 227.8,212.3 227.1,212.3 226.4,212.3 225.7,212.3 225.0,212.3 224.3,212.3 223.6,212.3 222.9,212.3 222.2,212.3 221.5,212.3 220.8,212.3 220.1,212.3 219.4,212.3 218.7,212.3 218.0,212.3 217.3,212.3 216.6,212.3 215.9,212.3 215.2,212.3 214.5,212.3 213.8,212.3 213.1,212.3 212.4,212.2 211.7,212.1 211.0,212.0 210.3,211.9 209.6,211.8 208.9,211.7 208.2,211.7 207.5,211.9 206.8,212.1 206.1,212.3 205.4,212.3 204.7,212.3 204.0,212.0 203.3,211.7 202.6,211.4 201.9,211.4 201.2,211.6 200.5,211.8 199.8,211.9 199.1,212.1 198.4,212.3 197.7,212.3 197.0,212.3 196.3,212.3 195.6,212.3 194.9,212.3 194.2,212.3 193.5,212.3 192.8,212.3 192.1,212.3 191.4,212.3 190.7,212.3 190.0,212.3 189.3,212.3 188.6,212.2 187.9,212.1 187.2,212.2 186.5,212.3 185.8,212.3 185.1,212.3 184.4,212.3 183.7,212.3 183.0,212.3 182.3,212.3 181.6,212.0 180.9,211.8 180.2,211.7 179.5,211.8 178.8,212.0 178.1,212.2 177.4,212.3 176.7,212.3 176.0,212.3 175.3,212.3 174.6,212.3 173.9,212.3 173.2,212.3 172.5,212.2 171.8,212.2 171.1,212.1 170.4,212.1 169.7,212.0 169.0,211.9 168.3,211.5 167.6,211.0 166.9,210.6 166.2,210.3 165.5,210.5 164.8,210.7 164.1,211.0 163.4,211.3 162.7,211.5 162.0,211.2 161.3,209.8 160.6,208.2 159.9,207.3 159.2,207.3 158.5,208.2 157.8,209.2 157.1,210.3 156.4,211.1 155.7,211.8 155.0,212.3 154.3,212.0 153.6,211.5 152.9,211.0 152.2,210.6 151.5,210.8 150.8,211.4 150.1,212.0 149.4,212.3 148.7,212.3 148.0,212.2 147.3,211.8 146.6,211.4 145.9,211.0 145.2,210.6 144.5,210.1 143.8,209.8 143.1,209.7 142.4,209.9 141.7,210.0 141.0,210.2 140.3,210.5 139.6,211.0 138.9,211.8 138.2,212.3 137.5,211.9 136.8,210.9 136.1,209.8 135.4,208.2 134.7,206.8 134.0,205.4 133.3,204.0 132.6,203.1 131.9,202.8 131.2,202.5 130.5,202.6 129.8,203.1 129.1,203.6 128.4,204.1 127.7,204.5 127.0,204.8 126.3,204.9 125.6,205.0 124.9,205.1 124.2,205.2 123.5,205.3 122.8,205.2 122.1,205.1 121.4,204.9 120.7,204.7 120.0,204.6 119.3,204.6 118.6,204.6 117.9,204.7 117.2,205.2 116.5,205.8 115.8,206.5 115.1,207.4 114.4,208.3 113.7,209.2 113.0,210.1 112.3,211.0 111.6,211.3 110.9,211.2 110.2,211.1 109.5,210.9 108.8,210.8 108.1,210.8 107.4,210.9 106.7,211.1 106.0,211.2 105.3,211.4 104.6,211.6 103.9,211.8 103.2,212.0 102.5,212.1 101.8,212.3 101.1,212.3 100.4,212.3 99.7,212.3 99.0,212.3 98.3,212.3 97.6,212.3 96.9,212.3 96.2,212.3 95.5,212.2 94.8,212.0 94.1,211.9 93.4,211.8 92.7,211.8 92.0,212.1 91.3,212.3 90.6,212.3 89.9,212.3 89.2,212.3 88.5,212.3 87.8,212.3 87.1,212.3 86.4,212.3 85.7,212.3 85.0,212.3 84.3,212.3 83.6,212.3 82.9,212.3 82.2,212.3 81.5,212.3 80.8,212.3 80.1,212.3 79.4,212.3 78.7,212.3 78.0,212.3 77.3,212.3 76.6,212.3 75.9,212.3 75.2,212.3 74.5,212.3 73.8,212.3 73.1,212.3 72.4,212.3 71.7,212.3 71.0,212.3 70.3,212.3 69.6,212.3 68.9,212.3 68.2,212.3 67.5,212.3 66.8,212.3 66.1,212.3 65.4,212.3 64.7,212.3 64.0,212.3 63.3,212.3 62.6,212.3 61.9,212.3 61.2,212.3 60.5,212.3 59.8,212.0 59.1,211.7 58.4,211.5 57.7,211.6 57.0,211.8 56.3,211.9 55.6,211.7 54.9,211.4 54.2,211.2 53.5,211.4 52.8,211.7 52.1,212.0 51.4,212.2 50.7,211.9 50.0,211.6 49.3,211.3 48.6,211.2 47.9,211.6 47.2,212.0 46.5,212.3 45.8,212.3 45.1,212.3 44.4,212.3 43.7,212.3 43.0,212.3 42.3,212.3 41.6,212.3 40.9,212.3 40.2,212.3 39.5,212.3 38.8,212.3 38.1,212.3 37.4,212.3 36.7,212.0 36.0,211.8 35.3,211.8 34.6,211.9 33.9,211.9 33.2,212.0" fill="#ff0000"/><polyline points="113.7,211.2 114.4,212.3 115.1,211.4 115.8,211.8 116.5,211.8 117.2,212.0 117.9,212.3 118.6,211.9 119.3,211.9 120.0,211.6 120.7,212.2 121.4,211.3 122.1,211.7 122.8,211.8 123.5,212.0 124.2,212.0 124.9,212.1 125.6,211.9 126.3,211.7 127.0,211.8 127.7,212.2 128.4,211.8 129.1,212.0 129.8,211.7 130.5,211.2 131.2,211.5 131.9,211.8 132.6,212.2 133.3,212.2 134.0,212.2 134.7,211.5 135.4,212.0 136.1,211.7" fill="none" stroke="#ff0000" stroke-width="1.5" stroke-linejoin="round" stroke-linecap="round" stroke-dasharray="1.5 2.5"/><polyline points="141.7,211.9 142.4,211.7 143.1,211.3 143.8,211.9" fill="none" stroke="#ff0000" stroke-width="1.5" stroke-linejoin="round" stroke-linecap="round" stroke-dasharray="1.5 2.5"/><polyline points="157.8,211.8 158.5,212.0 159.2,211.5 159.9,212.0 160.6,212.1 161.3,212.2" fill="none" stroke="#ff0000" stroke-width="1.5" stroke-linejoin="round" stroke-linecap="round" stroke-dasharray="1.5 2.5"/><polyline points="236.2,212.2 236.9,211.6 237.6,211.0 238.3,212.0 239.0,211.5 239.7,211.7 240.4,212.1 241.1,211.8 241.8,211.8 242.5,211.9 243.2,211.2" fill="none" stroke="#ff0000" stroke-width="1.5" stroke-linejoin="round" stroke-linecap="round" stroke-dasharray="1.5 2.5"/><polyline points="356.6,212.3 357.3,211.6 358.0,211.6 358.7,211.9 359.4,211.7 360.1,211.5 360.8,211.7 361.5,211.6 362.2,211.5 362.9,212.3 363.6,211.3 364.3,211.1 365.0,211.4 365.7,211.4 366.4,212.2 367.1,211.8 367.8,212.0 368.5,211.9 369.2,211.4 369.9,212.0 370.6,211.8 371.3,212.3 372.0,211.8 372.7,211.7 373.4,211.9 374.1,212.0 374.8,211.2 375.5,212.1 376.2,212.1 376.9,212.0 377.6,211.4 378.3,211.1 379.0,211.6 379.7,212.0 380.4,211.9 381.1,211.4 381.8,212.0 382.5,211.3 383.2,211.3 383.9,211.7 384.6,211.5 385.3,211.5 386.0,211.3 386.7,212.1 387.4,211.4 388.1,211.9 388.8,212.0 389.5,211.7 390.2,211.8 390.9,212.0 391.6,212.2 392.3,212.0" fill="none" stroke="#ff0000" stroke-width="1.5" stroke-linejoin="round" stroke-linecap="round" stroke-dasharray="1.5 2.5"/><polygon points="33.2,206.2 33.9,206.0 34.6,205.8 35.3,205.7 36.0,205.7 36.7,206.1 37.4,206.9 38.1,207.7 38.8,208.4 39.5,208.6 40.2,208.2 40.9,207.6 41.6,207.4 42.3,208.1 43.0,208.9 43.7,209.8 44.4,210.3 45.1,209.5 45.8,208.4 46.5,207.3 47.2,206.1 47.9,205.0 48.6,204.2 49.3,204.5 50.0,205.2 50.7,206.0 51.4,206.5 52.1,206.2 52.8,205.4 53.5,204.6 54.2,204.1 54.9,204.5 55.6,205.3 56.3,205.8 57.0,205.5 57.7,205.1 58.4,204.9 59.1,205.3 59.8,206.1 60.5,207.0 61.2,207.9 61.9,208.7 62.6,209.1 63.3,208.8 64.0,208.3 64.7,207.8 65.4,207.4 66.1,207.4 66.8,207.8 67.5,208.3 68.2,208.7 68.9,209.2 69.6,209.5 70.3,209.3 71.0,209.0 71.7,208.7 72.4,208.6 73.1,208.6 73.8,208.6 74.5,208.6 75.2,208.6 75.9,208.6 76.6,208.6 77.3,208.6 78.0,208.6 78.7,208.6 79.4,208.6 80.1,208.6 80.8,208.6 81.5,208.6 82.2,208.6 82.9,208.6 83.6,208.6 84.3,208.6 85.0,208.6 85.7,208.6 86.4,208.6 87.1,208.6 87.8,208.6 88.5,208.6 89.2,208.6 89.9,208.4 90.6,207.9 91.3,207.1 92.0,206.3 92.7,205.7 93.4,205.5 94.1,205.8 94.8,206.2 95.5,206.6 96.2,207.0 96.9,207.4 97.6,207.8 98.3,208.1 99.0,208.4 99.7,208.2 100.4,207.8 101.1,207.4 101.8,206.9 102.5,206.5 103.2,206.0 103.9,205.6 104.6,205.1 105.3,204.7 106.0,204.2 106.7,203.8 107.4,203.3 108.1,203.0 108.8,203.0 109.5,203.3 110.2,203.8 110.9,204.2 111.6,204.5 112.3,204.2 113.0,203.4 113.7,202.5 114.4,201.7 115.1,200.8 115.8,200.0 116.5,199.7 117.2,199.7 117.9,199.7 118.6,199.7 119.3,199.7 120.0,199.7 120.7,199.8 121.4,200.2 122.1,200.7 122.8,201.1 123.5,201.2 124.2,201.0 124.9,200.7 125.6,200.5 126.3,200.3 127.0,200.0 127.7,199.6 128.4,199.1 129.1,198.6 129.8,198.1 130.5,197.7 131.2,197.6 131.9,197.8 132.6,198.2 133.3,198.5 134.0,198.8 134.7,199.1 135.4,199.4 136.1,200.6 136.8,203.3 137.5,205.9 138.2,207.0 138.9,205.5 139.6,203.6 140.3,202.2 141.0,201.6 141.7,201.2 142.4,200.7 143.1,200.3 143.8,200.5 144.5,201.4 145.2,202.5 145.9,203.6 146.6,204.7 147.3,205.7 148.0,206.7 148.7,207.5 149.4,207.5 150.1,206.2 150.8,204.6 151.5,203.1 152.2,202.6 152.9,203.6 153.6,205.0 154.3,206.3 155.0,206.8 155.7,205.5 156.4,203.7 157.1,201.7 157.8,199.5 158.5,198.4 159.2,197.5 159.9,197.5 160.6,198.4 161.3,200.4 162.0,204.1 162.7,204.8 163.4,204.3 164.1,203.6 164.8,202.9 165.5,202.3 166.2,201.9 166.9,202.5 167.6,203.6 168.3,204.8 169.0,205.8 169.7,206.3 170.4,206.4 171.1,206.5 171.8,206.6 172.5,206.7 173.2,207.0 173.9,207.3 174.6,207.7 175.3,208.0 176.0,207.9 176.7,207.5 177.4,207.0 178.1,206.6 178.8,206.1 179.5,205.7 180.2,205.4 180.9,205.6 181.6,206.2 182.3,206.8 183.0,207.4 183.7,207.9 184.4,208.0 185.1,207.7 185.8,207.4 186.5,207.0 187.2,206.7 187.9,206.5 188.6,206.5 189.3,206.9 190.0,207.3 190.7,207.7 191.4,208.1 192.1,208.4 192.8,208.6 193.5,208.5 194.2,208.5 194.9,208.4 195.6,208.3 196.3,208.2 197.0,207.9 197.7,207.5 198.4,207.0 199.1,206.5 199.8,206.0 200.5,205.5 201.2,205.0 201.9,204.6 202.6,204.7 203.3,205.4 204.0,206.2 204.7,206.9 205.4,207.2 206.1,206.8 206.8,206.3 207.5,205.9 208.2,205.4 208.9,205.3 209.6,205.5 210.3,205.8 211.0,206.1 211.7,206.4 212.4,206.6 213.1,206.9 213.8,207.2 214.5,207.5 215.2,207.9 215.9,208.2 216.6,208.5 217.3,208.8 218.0,209.0 218.7,209.0 219.4,208.9 220.1,208.9 220.8,208.9 221.5,208.8 222.2,208.8 222.9,208.7 223.6,208.7 224.3,208.7 225.0,208.6 225.7,208.7 226.4,208.8 227.1,208.8 227.8,208.9 228.5,209.0 229.2,208.9 229.9,208.6 230.6,208.2 231.3,207.9 232.0,207.5 232.7,206.9 233.4,205.7 234.1,204.4 234.8,203.1 235.5,201.6 236.2,199.8 236.9,199.0 237.6,198.2 238.3,197.5 239.0,196.9 239.7,197.0 240.4,197.3 241.1,197.7 241.8,198.1 242.5,198.7 243.2,199.8 243.9,203.2 244.6,206.2 245.3,207.4 246.0,208.0 246.7,208.3 247.4,207.4 248.1,206.0 248.8,204.9 249.5,205.1 250.2,206.0 250.9,207.0 251.6,207.8 252.3,208.2 253.0,208.3 253.7,208.4 254.4,208.5 255.1,208.5 255.8,208.6 256.5,208.6 257.2,208.5 257.9,208.5 258.6,208.4 259.3,208.4 260.0,208.3 260.7,208.3 261.4,208.2 262.1,208.1 262.8,208.0 263.5,207.9 264.2,207.7 264.9,207.6 265.6,207.6 266.3,207.6 267.0,207.8 267.7,208.0 268.4,208.1 269.1,207.6 269.8,206.8 270.5,206.1 271.2,206.0 271.9,206.5 272.6,207.1 273.3,207.6 274.0,207.9 274.7,208.0 275.4,208.1 276.1,208.2 276.8,208.2 277.5,208.1 278.2,208.0 278.9,207.9 279.6,207.7 280.3,207.6 281.0,207.7 281.7,207.8 282.4,208.1 283.1,208.3 283.8,208.5 284.5,208.7 285.2,208.9 285.9,208.9 286.6,208.7 287.3,208.5 288.0,208.3 288.7,207.5 289.4,206.2 290.1,204.7 290.8,203.4 291.5,202.9 292.2,203.6 292.9,204.6 293.6,205.4 294.3,205.6 295.0,205.7 295.7,205.8 296.4,206.1 297.1,206.8 297.8,207.7 298.5,208.4 299.2,208.2 299.9,207.8 300.6,207.4 301.3,207.0 302.0,206.6 302.7,206.4 303.4,206.7 304.1,207.2 304.8,207.7 305.5,208.1 306.2,208.5 306.9,208.7 307.6,208.7 308.3,208.8 309.0,208.9 309.7,208.9 310.4,209.0 311.1,209.0 311.8,209.0 312.5,209.0 313.2,209.0 313.9,209.0 314.6,209.0 315.3,209.0 316.0,209.0 316.7,209.0 317.4,209.0 318.1,209.0 318.8,209.0 319.5,209.0 320.2,209.0 320.9,208.9 321.6,208.4 322.3,207.7 323.0,206.9 323.7,206.2 324.4,205.5 325.1,205.0 325.8,205.1 326.5,205.6 327.2,206.1 327.9,206.5 328.6,206.5 329.3,206.4 330.0,206.2 330.7,206.0 331.4,205.9 332.1,206.0 332.8,206.3 333.5,206.5 334.2,206.7 334.9,207.0 335.6,207.2 336.3,207.4 337.0,207.4 337.7,207.2 338.4,207.1 339.1,206.9 339.8,206.8 340.5,206.9 341.2,207.2 341.9,207.6 342.6,207.9 343.3,208.2 344.0,208.5 344.7,208.6 345.4,208.6 346.1,208.6 346.8,208.6 347.5,208.5 348.2,207.8 348.9,206.7 349.6,205.7 350.3,205.2 351.0,205.3 351.7,205.4 352.4,205.4 353.1,205.0 353.8,204.4 354.5,203.7 355.2,203.0 355.9,202.2 356.6,201.8 357.3,202.4 358.0,203.2 358.7,203.7 359.4,203.6 360.1,203.4 360.8,203.2 361.5,202.9 362.2,202.7 362.9,202.4 363.6,202.1 364.3,201.5 365.0,200.8 365.7,200.1 366.4,199.6 367.1,199.4 367.8,199.5 368.5,199.6 369.2,199.7 369.9,199.8 370.6,199.7 371.3,199.6 372.0,199.6 372.7,200.0 373.4,200.6 374.1,201.2 374.8,201.6 375.5,201.4 376.2,201.1 376.9,200.7 377.6,200.6 378.3,200.9 379.0,201.3 379.7,201.8 380.4,202.3 381.1,202.8 381.8,203.4 382.5,204.0 383.2,204.5 383.9,205.0 384.6,205.2 385.3,205.2 386.0,205.3 386.7,205.4 387.4,205.4 388.1,205.5 388.8,205.2 389.5,205.0 390.2,204.7 390.9,204.5 391.6,204.2 392.3,204.1 393.0,204.7 393.7,205.5 394.4,206.3 395.1,207.1 395.8,207.7 396.5,207.7 397.2,207.4 397.9,207.2 398.6,206.9 399.3,206.8 400.0,207.0 400.7,207.3 401.4,207.6 402.1,207.9 402.8,208.2 403.5,208.5 404.2,208.2 404.9,207.7 405.6,207.3 406.3,206.8 407.0,206.5 407.7,206.7 408.4,207.1 409.1,207.6 409.8,208.0 410.5,208.5 411.2,208.9 411.9,208.9 412.6,208.9 413.3,208.8 414.0,208.8 414.7,208.7 415.4,208.6 416.1,208.2 416.8,207.8 417.5,207.2 418.2,206.7 418.9,206.2 419.6,205.8 420.3,205.7 421.0,205.9 421.7,206.1 422.4,206.3 423.1,206.5 423.8,206.5 424.5,206.4 425.2,206.1 425.9,205.9 426.6,205.7 427.3,205.5 428.0,205.3 428.7,205.1 429.4,205.0 430.1,204.9 430.8,204.7 431.5,204.6 432.2,204.5 432.9,204.4 433.6,204.3 434.3,204.4 435.0,204.6 435.7,204.9 436.4,205.1 437.1,205.4 437.8,205.6 438.5,205.8 439.2,205.9 439.9,206.0 440.6,206.1 441.3,206.1 442.0,206.2 442.7,206.3 443.4,206.6 444.1,206.8 444.8,207.1 445.5,207.3 446.2,207.5 446.9,207.8 447.6,208.0 448.3,208.1 449.0,207.9 449.7,207.7 450.4,207.4 451.1,207.2 451.8,206.9 452.5,206.8 453.2,207.1 453.9,207.5 454.6,207.9 455.3,208.3 456.0,208.3 456.7,207.7 457.4,206.9 458.1,206.1 458.8,205.4 459.5,204.6 460.2,203.8 460.9,203.5 461.6,204.2 462.3,205.1 463.0,206.0 463.7,207.0 464.4,207.8 465.1,208.0 465.8,208.1 466.5,208.1 467.2,208.2 467.9,208.3 468.6,208.5 469.3,208.8 470.0,209.1 470.7,209.3 471.4,209.3 472.1,209.2 472.8,209.1 473.5,209.0 474.2,208.9 474.9,208.8 475.6,208.7 476.3,208.6 477.0,208.5 477.7,208.5 478.4,208.4 479.1,208.3 479.8,208.2 480.5,208.1 481.2,208.0 481.9,207.9 482.6,207.8 483.3,207.6 484.0,207.5 484.7,207.3 485.4,207.2 486.1,207.3 486.8,207.5 487.5,207.8 488.2,208.0 488.9,208.3 489.6,208.5 490.3,208.5 491.0,208.4 491.7,208.2 492.4,207.5 493.1,206.5 493.8,205.5 494.5,204.7 495.2,205.5 495.9,206.6 496.6,207.6 497.3,208.2 498.0,208.2 498.7,208.2 499.4,208.2 500.1,208.2 500.8,208.2 501.5,208.3 502.2,208.4 502.9,208.5 503.6,208.5 504.3,208.1 505.0,207.3 505.7,206.3 506.4,205.4 507.1,204.6 507.8,204.3 508.5,204.8 509.2,205.3 509.9,205.9 510.6,206.5 511.3,207.1 512.0,207.7 512.7,208.3 513.4,208.9 514.1,209.2 514.8,208.9 515.5,208.5 516.2,208.1 516.9,207.7 517.6,207.3 518.3,206.7 519.0,205.9 519.7,204.9 520.4,204.0 521.1,203.1 521.8,203.0 522.5,203.9 523.2,205.1 523.9,206.2 524.6,207.3 525.3,208.0 526.0,207.8 526.7,207.5 527.4,207.2 528.1,207.0 528.8,206.9 529.5,207.3 530.2,207.9 530.9,208.5 531.6,208.8 532.3,208.8 533.0,208.6 533.7,208.4 534.4,208.3 535.1,208.4 535.8,208.6 536.5,208.7 537.2,208.8 537.9,208.9 538.6,208.9 539.3,208.9 540.0,208.8 540.7,208.8 541.4,208.7 542.1,208.7 542.1,209.5 541.4,209.5 540.7,209.5 540.0,209.4 539.3,209.6 538.6,209.6 537.9,209.6 537.2,209.6 536.5,209.8 535.8,209.3 535.1,209.5 534.4,209.5 533.7,209.6 533.0,209.7 532.3,209.5 531.6,209.5 530.9,209.4 530.2,209.3 529.5,208.7 528.8,208.9 528.1,208.6 527.4,208.8 526.7,209.0 526.0,209.2 525.3,209.2 524.6,209.0 523.9,208.0 523.2,207.7 522.5,207.5 521.8,206.8 521.1,207.3 520.4,207.2 519.7,207.6 519.0,208.3 518.3,208.6 517.6,208.8 516.9,209.4 516.2,209.3 515.5,209.6 514.8,209.5 514.1,209.8 513.4,209.6 512.7,209.3 512.0,209.2 511.3,208.9 510.6,208.5 509.9,208.1 509.2,207.8 508.5,207.9 507.8,207.3 507.1,207.7 506.4,208.0 505.7,208.4 505.0,209.0 504.3,209.2 503.6,209.3 502.9,209.5 502.2,209.2 501.5,209.3 500.8,209.4 500.1,209.4 499.4,209.1 498.7,209.4 498.0,209.4 497.3,209.7 496.6,209.2 495.9,208.3 495.2,208.2 494.5,207.6 493.8,208.1 493.1,208.2 492.4,209.0 491.7,209.2 491.0,209.5 490.3,209.6 489.6,209.2 488.9,209.2 488.2,209.4 487.5,209.2 486.8,208.9 486.1,208.7 485.4,209.1 484.7,208.6 484.0,209.2 483.3,209.2 482.6,209.2 481.9,209.2 481.2,209.2 480.5,209.6 479.8,209.3 479.1,209.6 478.4,209.5 477.7,209.5 477.0,209.5 476.3,209.7 475.6,209.4 474.9,209.6 474.2,209.7 473.5,209.9 472.8,209.8 472.1,210.0 471.4,209.6 470.7,209.9 470.0,209.6 469.3,209.6 468.6,209.4 467.9,209.3 467.2,209.2 466.5,209.1 465.8,209.3 465.1,209.3 464.4,209.1 463.7,208.9 463.0,208.5 462.3,207.8 461.6,207.5 460.9,207.1 460.2,206.9 459.5,207.7 458.8,208.0 458.1,208.2 457.4,209.1 456.7,209.2 456.0,209.4 455.3,209.6 454.6,209.4 453.9,208.8 453.2,208.7 452.5,208.9 451.8,208.7 451.1,208.8 450.4,209.0 449.7,209.2 449.0,209.0 448.3,209.3 447.6,209.0 446.9,209.0 446.2,209.2 445.5,209.2 444.8,208.8 444.1,208.5 443.4,208.4 442.7,208.6 442.0,208.4 441.3,208.4 440.6,208.2 439.9,208.3 439.2,208.5 438.5,208.1 437.8,208.2 437.1,208.2 436.4,207.9 435.7,207.8 435.0,207.5 434.3,207.6 433.6,207.5 432.9,207.5 432.2,207.6 431.5,207.8 430.8,207.9 430.1,207.7 429.4,207.9 428.7,208.2 428.0,207.9 427.3,207.6 426.6,208.1 425.9,208.2 425.2,208.5 424.5,208.5 423.8,208.6 423.1,208.3 422.4,208.2 421.7,208.3 421.0,208.1 420.3,208.1 419.6,208.4 418.9,208.3 418.2,208.4 417.5,209.0 416.8,209.1 416.1,209.4 415.4,209.4 414.7,209.5 414.0,209.6 413.3,209.8 412.6,209.5 411.9,209.9 411.2,209.9 410.5,209.5 409.8,209.5 409.1,209.1 408.4,208.9 407.7,208.8 407.0,208.6 406.3,208.5 405.6,208.7 404.9,209.2 404.2,209.5 403.5,209.3 402.8,209.2 402.1,209.2 401.4,209.0 400.7,208.8 400.0,209.0 399.3,208.7 398.6,208.7 397.9,208.9 397.2,208.9 396.5,208.8 395.8,209.0 395.1,208.5 394.4,208.1 393.7,207.4 393.0,207.1 392.3,206.7 391.6,206.9 390.9,206.4 390.2,206.6 389.5,206.8 388.8,206.8 388.1,206.8 387.4,206.7 386.7,206.5 386.0,206.4 385.3,206.5 384.6,206.2 383.9,206.3 383.2,205.7 382.5,205.5 381.8,205.4 381.1,205.1 380.4,204.5 379.7,204.7 379.0,204.3 378.3,204.3 377.6,203.7 376.9,204.1 376.2,204.0 375.5,204.3 374.8,204.5 374.1,204.3 373.4,204.0 372.7,203.4 372.0,203.4 371.3,203.4 370.6,203.3 369.9,203.3 369.2,203.6 368.5,203.4 367.8,203.4 367.1,203.2 366.4,203.5 365.7,203.9 365.0,204.0 364.3,204.5 363.6,204.7 362.9,204.9 362.2,204.8 361.5,205.2 360.8,205.5 360.1,205.8 359.4,206.1 358.7,206.2 358.0,206.3 357.3,205.8 356.6,205.7 355.9,206.2 355.2,206.5 354.5,207.4 353.8,207.6 353.1,207.7 352.4,207.9 351.7,208.3 351.0,208.0 350.3,207.9 349.6,208.3 348.9,208.6 348.2,209.0 347.5,209.6 346.8,209.3 346.1,209.5 345.4,209.5 344.7,209.7 344.0,209.3 343.3,209.3 342.6,208.9 341.9,209.1 341.2,209.0 340.5,208.9 339.8,208.7 339.1,208.4 338.4,208.8 337.7,208.9 337.0,208.8 336.3,209.0 335.6,208.6 334.9,208.8 334.2,208.5 333.5,208.5 332.8,208.4 332.1,208.2 331.4,208.2 330.7,208.2 330.0,208.3 329.3,208.3 328.6,208.5 327.9,208.4 327.2,208.3 326.5,207.9 325.8,208.0 325.1,207.8 324.4,207.8 323.7,208.2 323.0,208.6 322.3,209.1 321.6,209.6 320.9,209.6 320.2,209.9 319.5,209.9 318.8,209.8 318.1,209.8 317.4,209.7 316.7,209.9 316.0,209.7 315.3,209.8 314.6,209.8 313.9,209.8 313.2,210.1 312.5,209.7 311.8,209.9 311.1,209.7 310.4,209.7 309.7,209.8 309.0,209.7 308.3,209.5 307.6,209.4 306.9,209.8 306.2,209.4 305.5,209.4 304.8,209.0 304.1,208.5 303.4,208.6 302.7,208.4 302.0,208.3 301.3,208.8 300.6,209.1 299.9,209.0 299.2,209.5 298.5,209.3 297.8,209.2 297.1,208.5 296.4,208.3 295.7,208.1 295.0,208.3 294.3,207.8 293.6,208.2 292.9,207.6 292.2,207.0 291.5,206.9 290.8,207.2 290.1,207.6 289.4,208.7 288.7,209.0 288.0,209.4 287.3,209.7 286.6,209.8 285.9,209.9 285.2,209.7 284.5,209.7 283.8,209.3 283.1,209.7 282.4,209.4 281.7,209.0 281.0,209.2 280.3,209.1 279.6,209.0 278.9,209.1 278.2,209.1 277.5,209.3 276.8,209.6 276.1,209.2 275.4,209.1 274.7,209.2 274.0,209.2 273.3,209.2 272.6,208.9 271.9,208.7 271.2,208.3 270.5,208.2 269.8,208.8 269.1,209.2 268.4,209.1 267.7,209.2 267.0,209.3 266.3,209.0 265.6,208.8 264.9,209.0 264.2,209.2 263.5,209.2 262.8,208.9 262.1,209.4 261.4,209.2 260.7,209.6 260.0,209.6 259.3,209.5 258.6,209.6 257.9,209.3 257.2,209.4 256.5,209.4 255.8,209.4 255.1,209.8 254.4,209.6 253.7,209.2 253.0,209.2 252.3,209.5 251.6,209.2 250.9,208.9 250.2,208.4 249.5,207.5 248.8,207.9 248.1,208.4 247.4,208.8 246.7,209.4 246.0,209.2 245.3,209.3 244.6,208.2 243.9,207.0 243.2,205.2 242.5,204.3 241.8,203.3 241.1,202.9 240.4,202.2 239.7,201.9 239.0,202.1 238.3,202.5 237.6,203.4 236.9,204.3 236.2,205.5 235.5,206.1 234.8,206.9 234.1,207.7 233.4,208.2 232.7,208.7 232.0,208.8 231.3,209.2 230.6,209.2 229.9,209.4 229.2,209.7 228.5,209.6 227.8,209.6 227.1,209.5 226.4,209.6 225.7,209.7 225.0,209.6 224.3,209.4 223.6,209.9 222.9,209.5 222.2,209.8 221.5,209.8 220.8,209.8 220.1,209.6 219.4,209.6 218.7,209.7 218.0,209.9 217.3,209.8 216.6,209.7 215.9,209.4 215.2,209.3 214.5,209.2 213.8,208.8 213.1,209.1 212.4,208.6 211.7,208.5 211.0,208.4 210.3,208.2 209.6,208.2 208.9,208.2 208.2,208.2 207.5,208.1 206.8,208.5 206.1,208.6 205.4,208.6 204.7,208.9 204.0,208.2 203.3,208.0 202.6,207.8 201.9,207.7 201.2,207.9 200.5,208.0 199.8,208.2 199.1,208.7 198.4,209.0 197.7,208.9 197.0,209.3 196.3,209.4 195.6,209.5 194.9,209.5 194.2,209.3 193.5,209.8 192.8,209.6 192.1,209.5 191.4,209.3 190.7,209.3 190.0,208.8 189.3,208.7 188.6,208.3 187.9,208.5 187.2,208.3 186.5,208.8 185.8,208.8 185.1,209.1 184.4,209.3 183.7,209.3 183.0,209.0 182.3,208.3 181.6,208.5 180.9,208.2 180.2,208.1 179.5,208.1 178.8,208.4 178.1,208.4 177.4,208.8 176.7,209.1 176.0,209.1 175.3,209.2 174.6,209.3 173.9,208.9 173.2,208.9 172.5,208.6 171.8,208.3 171.1,208.5 170.4,208.6 169.7,208.3 169.0,208.2 168.3,207.8 167.6,207.1 166.9,206.8 166.2,206.4 165.5,206.7 164.8,207.0 164.1,207.3 163.4,207.8 162.7,207.6 162.0,207.4 161.3,205.6 160.6,203.7 159.9,202.4 159.2,202.6 158.5,203.8 157.8,204.8 157.1,206.3 156.4,207.4 155.7,207.9 155.0,208.8 154.3,208.4 153.6,207.8 152.9,207.2 152.2,206.9 151.5,207.0 150.8,207.6 150.1,208.4 149.4,209.3 148.7,209.0 148.0,208.6 147.3,208.3 146.6,207.6 145.9,207.0 145.2,206.7 144.5,206.0 143.8,205.3 143.1,205.6 142.4,205.6 141.7,205.8 141.0,206.1 140.3,206.5 139.6,207.0 138.9,208.3 138.2,209.0 137.5,208.2 136.8,207.1 136.1,205.7 135.4,204.2 134.7,203.1 134.0,202.2 133.3,201.3 132.6,200.4 131.9,199.7 131.2,199.7 130.5,199.8 129.8,200.3 129.1,200.9 128.4,201.4 127.7,201.9 127.0,202.4 126.3,202.7 125.6,202.6 124.9,202.5 124.2,202.9 123.5,202.8 122.8,203.1 122.1,202.9 121.4,202.3 120.7,202.4 120.0,202.3 119.3,202.2 118.6,202.6 117.9,202.2 117.2,202.5 116.5,203.1 115.8,203.4 115.1,204.4 114.4,204.8 113.7,205.8 113.0,206.5 112.3,207.3 111.6,207.6 110.9,207.2 110.2,207.2 109.5,207.2 108.8,206.6 108.1,206.8 107.4,206.9 106.7,207.1 106.0,207.7 105.3,207.2 104.6,207.8 103.9,208.3 103.2,208.2 102.5,208.4 101.8,208.7 101.1,209.0 100.4,209.0 99.7,209.2 99.0,209.1 98.3,209.5 97.6,209.1 96.9,209.0 96.2,208.8 95.5,208.7 94.8,208.5 94.1,208.3 93.4,208.0 92.7,208.2 92.0,208.3 91.3,208.7 90.6,209.1 89.9,209.2 89.2,209.3 88.5,209.7 87.8,209.1 87.1,209.4 86.4,209.6 85.7,209.3 85.0,209.4 84.3,209.3 83.6,209.4 82.9,209.3 82.2,209.7 81.5,209.6 80.8,209.6 80.1,209.4 79.4,209.6 78.7,209.6 78.0,209.7 77.3,209.7 76.6,209.6 75.9,209.5 75.2,209.5 74.5,209.4 73.8,209.1 73.1,209.4 72.4,209.5 71.7,209.6 71.0,209.9 70.3,210.0 69.6,209.9 68.9,209.7 68.2,209.7 67.5,209.5 66.8,209.2 66.1,209.1 65.4,209.0 64.7,209.1 64.0,209.5 63.3,209.4 62.6,210.0 61.9,209.9 61.2,209.2 60.5,208.9 59.8,208.0 59.1,207.9 58.4,207.6 57.7,207.8 57.0,208.0 56.3,208.3 55.6,208.2 54.9,207.5 54.2,207.4 53.5,207.6 52.8,208.2 52.1,208.1 51.4,208.1 50.7,208.7 50.0,208.0 49.3,207.3 48.6,207.6 47.9,207.6 47.2,208.4 46.5,208.8 45.8,209.2 45.1,209.9 44.4,210.5 43.7,210.2 43.0,209.9 42.3,209.2 41.6,209.0 40.9,209.2 40.2,209.3 39.5,209.8 38.8,209.5 38.1,209.4 37.4,208.8 36.7,208.4 36.0,208.1 35.3,208.1 34.6,208.2 33.9,208.2 33.2,208.4" fill="#1a1aa0"/><polyline points="33.2,206.2 33.9,206.0 34.6,205.8 35.3,205.7 36.0,205.7 36.7,206.1 37.4,206.9 38.1,207.7 38.8,208.4 39.5,208.6 40.2,208.2 40.9,207.6 41.6,207.4 42.3,208.1 43.0,208.9 43.7,209.8 44.4,210.3 45.1,209.5 45.8,208.4 46.5,207.3 47.2,206.1 47.9,205.0 48.6,204.2 49.3,204.5 50.0,205.2 50.7,206.0 51.4,206.5 52.1,206.2 52.8,205.4 53.5,204.6 54.2,204.1 54.9,204.5 55.6,205.3 56.3,205.8 57.0,205.5 57.7,205.1 58.4,204.9 59.1,205.3 59.8,206.1 60.5,207.0 61.2,207.9 61.9,208.7 62.6,209.1 63.3,208.8 64.0,208.3 64.7,207.8 65.4,207.4 66.1,207.4 66.8,207.8 67.5,208.3 68.2,208.7 68.9,209.2 69.6,209.5 70.3,209.3 71.0,209.0 71.7,208.7 72.4,208.6 73.1,208.6 73.8,208.6 74.5,208.6 75.2,208.6 75.9,208.6 76.6,208.6 77.3,208.6 78.0,208.6 78.7,208.6 79.4,208.6 80.1,208.6 80.8,208.6 81.5,208.6 82.2,208.6 82.9,208.6 83.6,208.6 84.3,208.6 85.0,208.6 85.7,208.6 86.4,208.6 87.1,208.6 87.8,208.6 88.5,208.6 89.2,208.6 89.9,208.4 90.6,207.9 91.3,207.1 92.0,206.3 92.7,205.7 93.4,205.5 94.1,205.8 94.8,206.2 95.5,206.6 96.2,207.0 96.9,207.4 97.6,207.8 98.3,208.1 99.0,208.4 99.7,208.2 100.4,207.8 101.1,207.4 101.8,206.9 102.5,206.5 103.2,206.0 103.9,205.6 104.6,205.1 105.3,204.7 106.0,204.2 106.7,203.8 107.4,203.3 108.1,203.0 108.8,203.0 109.5,203.3 110.2,203.8 110.9,204.2 111.6,204.5 112.3,204.2 113.0,203.4 113.7,202.5 114.4,201.7 115.1,200.8 115.8,200.0 116.5,199.7 117.2,199.7 117.9,199.7 118.6,199.7 119.3,199.7 120.0,199.7 120.7,199.8 121.4,200.2 122.1,200.7 122.8,201.1 123.5,201.2 124.2,201.0 124.9,200.7 125.6,200.5 126.3,200.3 127.0,200.0 127.7,199.6 128.4,199.1 129.1,198.6 129.8,198.1 130.5,197.7 131.2,197.6 131.9,197.8 132.6,198.2 133.3,198.5 134.0,198.8 134.7,199.1 135.4,199.4 136.1,200.6 136.8,203.3 137.5,205.9 138.2,207.0 138.9,205.5 139.6,203.6 140.3,202.2 141.0,201.6 141.7,201.2 142.4,200.7 143.1,200.3 143.8,200.5 144.5,201.4 145.2,202.5 145.9,203.6 146.6,204.7 147.3,205.7 148.0,206.7 148.7,207.5 149.4,207.5 150.1,206.2 150.8,204.6 151.5,203.1 152.2,202.6 152.9,203.6 153.6,205.0 154.3,206.3 155.0,206.8 155.7,205.5 156.4,203.7 157.1,201.7 157.8,199.5 158.5,198.4 159.2,197.5 159.9,197.5 160.6,198.4 161.3,200.4 162.0,204.1 162.7,204.8 163.4,204.3 164.1,203.6 164.8,202.9 165.5,202.3 166.2,201.9 166.9,202.5 167.6,203.6 168.3,204.8 169.0,205.8 169.7,206.3 170.4,206.4 171.1,206.5 171.8,206.6 172.5,206.7 173.2,207.0 173.9,207.3 174.6,207.7 175.3,208.0 176.0,207.9 176.7,207.5 177.4,207.0 178.1,206.6 178.8,206.1 179.5,205.7 180.2,205.4 180.9,205.6 181.6,206.2 182.3,206.8 183.0,207.4 183.7,207.9 184.4,208.0 185.1,207.7 185.8,207.4 186.5,207.0 187.2,206.7 187.9,206.5 188.6,206.5 189.3,206.9 190.0,207.3 190.7,207.7 191.4,208.1 192.1,208.4 192.8,208.6 193.5,208.5 194.2,208.5 194.9,208.4 195.6,208.3 196.3,208.2 197.0,207.9 197.7,207.5 198.4,207.0 199.1,206.5 199.8,206.0 200.5,205.5 201.2,205.0 201.9,204.6 202.6,204.7 203.3,205.4 204.0,206.2 204.7,206.9 205.4,207.2 206.1,206.8 206.8,206.3 207.5,205.9 208.2,205.4 208.9,205.3 209.6,205.5 210.3,205.8 211.0,206.1 211.7,206.4 212.4,206.6 213.1,206.9 213.8,207.2 214.5,207.5 215.2,207.9 215.9,208.2 216.6,208.5 217.3,208.8 218.0,209.0 218.7,209.0 219.4,208.9 220.1,208.9 220.8,208.9 221.5,208.8 222.2,208.8 222.9,208.7 223.6,208.7 224.3,208.7 225.0,208.6 225.7,208.7 226.4,208.8 227.1,208.8 227.8,208.9 228.5,209.0 229.2,208.9 229.9,208.6 230.6,208.2 231.3,207.9 232.0,207.5 232.7,206.9 233.4,205.7 234.1,204.4 234.8,203.1 235.5,201.6 236.2,199.8 236.9,199.0 237.6,198.2 238.3,197.5 239.0,196.9 239.7,197.0 240.4,197.3 241.1,197.7 241.8,198.1 242.5,198.7 243.2,199.8 243.9,203.2 244.6,206.2 245.3,207.4 246.0,208.0 246.7,208.3 247.4,207.4 248.1,206.0 248.8,204.9 249.5,205.1 250.2,206.0 250.9,207.0 251.6,207.8 252.3,208.2 253.0,208.3 253.7,208.4 254.4,208.5 255.1,208.5 255.8,208.6 256.5,208.6 257.2,208.5 257.9,208.5 258.6,208.4 259.3,208.4 260.0,208.3 260.7,208.3 261.4,208.2 262.1,208.1 262.8,208.0 263.5,207.9 264.2,207.7 264.9,207.6 265.6,207.6 266.3,207.6 267.0,207.8 267.7,208.0 268.4,208.1 269.1,207.6 269.8,206.8 270.5,206.1 271.2,206.0 271.9,206.5 272.6,207.1 273.3,207.6 274.0,207.9 274.7,208.0 275.4,208.1 276.1,208.2 276.8,208.2 277.5,208.1 278.2,208.0 278.9,207.9 279.6,207.7 280.3,207.6 281.0,207.7 281.7,207.8 282.4,208.1 283.1,208.3 283.8,208.5 284.5,208.7 285.2,208.9 285.9,208.9 286.6,208.7 287.3,208.5 288.0,208.3 288.7,207.5 289.4,206.2 290.1,204.7 290.8,203.4 291.5,202.9 292.2,203.6 292.9,204.6 293.6,205.4 294.3,205.6 295.0,205.7 295.7,205.8 296.4,206.1 297.1,206.8 297.8,207.7 298.5,208.4 299.2,208.2 299.9,207.8 300.6,207.4 301.3,207.0 302.0,206.6 302.7,206.4 303.4,206.7 304.1,207.2 304.8,207.7 305.5,208.1 306.2,208.5 306.9,208.7 307.6,208.7 308.3,208.8 309.0,208.9 309.7,208.9 310.4,209.0 311.1,209.0 311.8,209.0 312.5,209.0 313.2,209.0 313.9,209.0 314.6,209.0 315.3,209.0 316.0,209.0 316.7,209.0 317.4,209.0 318.1,209.0 318.8,209.0 319.5,209.0 320.2,209.0 320.9,208.9 321.6,208.4 322.3,207.7 323.0,206.9 323.7,206.2 324.4,205.5 325.1,205.0 325.8,205.1 326.5,205.6 327.2,206.1 327.9,206.5 328.6,206.5 329.3,206.4 330.0,206.2 330.7,206.0 331.4,205.9 332.1,206.0 332.8,206.3 333.5,206.5 334.2,206.7 334.9,207.0 335.6,207.2 336.3,207.4 337.0,207.4 337.7,207.2 338.4,207.1 339.1,206.9 339.8,206.8 340.5,206.9 341.2,207.2 341.9,207.6 342.6,207.9 343.3,208.2 344.0,208.5 344.7,208.6 345.4,208.6 346.1,208.6 346.8,208.6 347.5,208.5 348.2,207.8 348.9,206.7 349.6,205.7 350.3,205.2 351.0,205.3 351.7,205.4 352.4,205.4 353.1,205.0 353.8,204.4 354.5,203.7 355.2,203.0 355.9,202.2 356.6,201.8 357.3,202.4 358.0,203.2 358.7,203.7 359.4,203.6 360.1,203.4 360.8,203.2 361.5,202.9 362.2,202.7 362.9,202.4 363.6,202.1 364.3,201.5 365.0,200.8 365.7,200.1 366.4,199.6 367.1,199.4 367.8,199.5 368.5,199.6 369.2,199.7 369.9,199.8 370.6,199.7 371.3,199.6 372.0,199.6 372.7,200.0 373.4,200.6 374.1,201.2 374.8,201.6 375.5,201.4 376.2,201.1 376.9,200.7 377.6,200.6 378.3,200.9 379.0,201.3 379.7,201.8 380.4,202.3 381.1,202.8 381.8,203.4 382.5,204.0 383.2,204.5 383.9,205.0 384.6,205.2 385.3,205.2 386.0,205.3 386.7,205.4 387.4,205.4 388.1,205.5 388.8,205.2 389.5,205.0 390.2,204.7 390.9,204.5 391.6,204.2 392.3,204.1 393.0,204.7 393.7,205.5 394.4,206.3 395.1,207.1 395.8,207.7 396.5,207.7 397.2,207.4 397.9,207.2 398.6,206.9 399.3,206.8 400.0,207.0 400.7,207.3 401.4,207.6 402.1,207.9 402.8,208.2 403.5,208.5 404.2,208.2 404.9,207.7 405.6,207.3 406.3,206.8 407.0,206.5 407.7,206.7 408.4,207.1 409.1,207.6 409.8,208.0 410.5,208.5 411.2,208.9 411.9,208.9 412.6,208.9 413.3,208.8 414.0,208.8 414.7,208.7 415.4,208.6 416.1,208.2 416.8,207.8 417.5,207.2 418.2,206.7 418.9,206.2 419.6,205.8 420.3,205.7 421.0,205.9 421.7,206.1 422.4,206.3 423.1,206.5 423.8,206.5 424.5,206.4 425.2,206.1 425.9,205.9 426.6,205.7 427.3,205.5 428.0,205.3 428.7,205.1 429.4,205.0 430.1,204.9 430.8,204.7 431.5,204.6 432.2,204.5 432.9,204.4 433.6,204.3 434.3,204.4 435.0,204.6 435.7,204.9 436.4,205.1 437.1,205.4 437.8,205.6 438.5,205.8 439.2,205.9 439.9,206.0 440.6,206.1 441.3,206.1 442.0,206.2 442.7,206.3 443.4,206.6 444.1,206.8 444.8,207.1 445.5,207.3 446.2,207.5 446.9,207.8 447.6,208.0 448.3,208.1 449.0,207.9 449.7,207.7 450.4,207.4 451.1,207.2 451.8,206.9 452.5,206.8 453.2,207.1 453.9,207.5 454.6,207.9 455.3,208.3 456.0,208.3 456.7,207.7 457.4,206.9 458.1,206.1 458.8,205.4 459.5,204.6 460.2,203.8 460.9,203.5 461.6,204.2 462.3,205.1 463.0,206.0 463.7,207.0 464.4,207.8 465.1,208.0 465.8,208.1 466.5,208.1 467.2,208.2 467.9,208.3 468.6,208.5 469.3,208.8 470.0,209.1 470.7,209.3 471.4,209.3 472.1,209.2 472.8,209.1 473.5,209.0 474.2,208.9 474.9,208.8 475.6,208.7 476.3,208.6 477.0,208.5 477.7,208.5 478.4,208.4 479.1,208.3 479.8,208.2 480.5,208.1 481.2,208.0 481.9,207.9 482.6,207.8 483.3,207.6 484.0,207.5 484.7,207.3 485.4,207.2 486.1,207.3 486.8,207.5 487.5,207.8 488.2,208.0 488.9,208.3 489.6,208.5 490.3,208.5 491.0,208.4 491.7,208.2 492.4,207.5 493.1,206.5 493.8,205.5 494.5,204.7 495.2,205.5 495.9,206.6 496.6,207.6 497.3,208.2 498.0,208.2 498.7,208.2 499.4,208.2 500.1,208.2 500.8,208.2 501.5,208.3 502.2,208.4 502.9,208.5 503.6,208.5 504.3,208.1 505.0,207.3 505.7,206.3 506.4,205.4 507.1,204.6 507.8,204.3 508.5,204.8 509.2,205.3 509.9,205.9 510.6,206.5 511.3,207.1 512.0,207.7 512.7,208.3 513.4,208.9 514.1,209.2 514.8,208.9 515.5,208.5 516.2,208.1 516.9,207.7 517.6,207.3 518.3,206.7 519.0,205.9 519.7,204.9 520.4,204.0 521.1,203.1 521.8,203.0 522.5,203.9 523.2,205.1 523.9,206.2 524.6,207.3 525.3,208.0 526.0,207.8 526.7,207.5 527.4,207.2 528.1,207.0 528.8,206.9 529.5,207.3 530.2,207.9 530.9,208.5 531.6,208.8 532.3,208.8 533.0,208.6 533.7,208.4 534.4,208.3 535.1,208.4 535.8,208.6 536.5,208.7 537.2,208.8 537.9,208.9 538.6,208.9 539.3,208.9 540.0,208.8 540.7,208.8 541.4,208.7 542.1,208.7" fill="none" stroke="#ff00ff" stroke-width="0.9" stroke-linejoin="round" stroke-linecap="round"/><polygon points="33.2,204.8 33.9,204.7 34.6,204.5 35.3,204.4 36.0,204.4 36.7,204.8 37.4,205.5 38.1,206.3 38.8,207.0 39.5,207.2 40.2,206.8 40.9,206.3 41.6,206.1 42.3,206.7 43.0,207.6 43.7,208.4 44.4,208.9 45.1,208.1 45.8,207.0 46.5,205.9 47.2,204.8 47.9,203.7 48.6,202.9 49.3,203.2 50.0,203.9 50.7,204.6 51.4,205.2 52.1,204.8 52.8,204.1 53.5,203.3 54.2,202.8 54.9,203.2 55.6,204.0 56.3,204.5 57.0,204.2 57.7,203.8 58.4,203.5 59.1,204.0 59.8,204.8 60.5,205.6 61.2,206.5 61.9,207.3 62.6,207.7 63.3,207.4 64.0,206.9 64.7,206.4 65.4,206.0 66.1,206.1 66.8,206.5 67.5,206.9 68.2,207.4 68.9,207.8 69.6,208.1 70.3,207.9 71.0,207.6 71.7,207.3 72.4,207.2 73.1,207.2 73.8,207.2 74.5,207.2 75.2,207.2 75.9,207.2 76.6,207.2 77.3,207.2 78.0,207.2 78.7,207.2 79.4,207.2 80.1,207.2 80.8,207.2 81.5,207.2 82.2,207.2 82.9,207.2 83.6,207.2 84.3,207.2 85.0,207.2 85.7,207.2 86.4,207.2 87.1,207.2 87.8,207.2 88.5,207.2 89.2,207.2 89.9,207.1 90.6,206.5 91.3,205.8 92.0,205.0 92.7,204.3 93.4,204.2 94.1,204.5 94.8,204.9 95.5,205.3 96.2,205.7 96.9,206.1 97.6,206.4 98.3,206.8 99.0,207.0 99.7,206.8 100.4,206.4 101.1,206.0 101.8,205.6 102.5,205.1 103.2,204.7 103.9,204.2 104.6,203.8 105.3,203.4 106.0,202.9 106.7,202.5 107.4,202.0 108.1,201.7 108.8,201.7 109.5,202.1 110.2,202.5 110.9,202.9 111.6,203.2 112.3,202.9 113.0,202.1 113.7,201.3 114.4,200.4 115.1,199.5 115.8,198.8 116.5,198.4 117.2,198.3 117.9,198.3 118.6,198.3 119.3,198.3 120.0,198.3 120.7,198.6 121.4,199.0 122.1,199.4 122.8,199.8 123.5,200.0 124.2,199.8 124.9,199.5 125.6,199.3 126.3,199.0 127.0,198.8 127.7,198.1 128.4,197.0 129.1,195.7 129.8,194.5 130.5,193.4 131.2,193.1 131.9,193.8 132.6,194.7 133.3,195.5 134.0,196.3 134.7,196.9 135.4,197.7 136.1,199.3 136.8,202.0 137.5,204.6 138.2,205.7 138.9,204.2 139.6,202.3 140.3,201.0 141.0,200.4 141.7,199.9 142.4,199.5 143.1,199.1 143.8,199.2 144.5,200.1 145.2,201.2 145.9,202.3 146.6,203.4 147.3,204.4 148.0,205.3 148.7,206.1 149.4,206.1 150.1,204.8 150.8,203.3 151.5,201.9 152.2,201.3 152.9,202.3 153.6,203.7 154.3,204.9 155.0,205.5 155.7,204.2 156.4,202.4 157.1,200.5 157.8,197.9 158.5,195.2 159.2,193.0 159.9,193.0 160.6,195.2 161.3,199.2 162.0,202.8 162.7,203.5 163.4,203.0 164.1,202.3 164.8,201.7 165.5,201.0 166.2,200.6 166.9,201.3 167.6,202.4 168.3,203.5 169.0,204.5 169.7,204.9 170.4,205.1 171.1,205.1 171.8,205.2 172.5,205.3 173.2,205.6 173.9,206.0 174.6,206.4 175.3,206.7 176.0,206.5 176.7,206.1 177.4,205.7 178.1,205.2 178.8,204.8 179.5,204.3 180.2,204.0 180.9,204.3 181.6,204.8 182.3,205.5 183.0,206.1 183.7,206.6 184.4,206.6 185.1,206.3 185.8,206.0 186.5,205.7 187.2,205.4 187.9,205.1 188.6,205.2 189.3,205.5 190.0,205.9 190.7,206.3 191.4,206.7 192.1,207.0 192.8,207.2 193.5,207.1 194.2,207.1 194.9,207.0 195.6,207.0 196.3,206.9 197.0,206.6 197.7,206.1 198.4,205.6 199.1,205.2 199.8,204.7 200.5,204.2 201.2,203.7 201.9,203.3 202.6,203.4 203.3,204.1 204.0,204.9 204.7,205.6 205.4,205.8 206.1,205.5 206.8,205.0 207.5,204.5 208.2,204.1 208.9,204.0 209.6,204.2 210.3,204.5 211.0,204.7 211.7,205.0 212.4,205.3 213.1,205.6 213.8,205.9 214.5,206.2 215.2,206.5 215.9,206.8 216.6,207.1 217.3,207.4 218.0,207.6 218.7,207.6 219.4,207.5 220.1,207.5 220.8,207.5 221.5,207.4 222.2,207.4 222.9,207.4 223.6,207.3 224.3,207.3 225.0,207.3 225.7,207.3 226.4,207.4 227.1,207.4 227.8,207.5 228.5,207.6 229.2,207.6 229.9,207.3 230.6,206.9 231.3,206.5 232.0,206.1 232.7,205.6 233.4,204.4 234.1,203.1 234.8,201.8 235.5,200.4 236.2,198.6 236.9,196.7 237.6,194.8 238.3,192.9 239.0,191.4 239.7,191.6 240.4,192.5 241.1,193.5 241.8,194.5 242.5,195.8 243.2,198.6 243.9,201.9 244.6,204.8 245.3,206.1 246.0,206.7 246.7,206.9 247.4,206.0 248.1,204.7 248.8,203.6 249.5,203.8 250.2,204.6 250.9,205.6 251.6,206.5 252.3,206.9 253.0,207.0 253.7,207.0 254.4,207.1 255.1,207.2 255.8,207.2 256.5,207.2 257.2,207.2 257.9,207.1 258.6,207.0 259.3,207.0 260.0,206.9 260.7,206.9 261.4,206.8 262.1,206.7 262.8,206.6 263.5,206.5 264.2,206.4 264.9,206.3 265.6,206.2 266.3,206.3 267.0,206.4 267.7,206.6 268.4,206.7 269.1,206.3 269.8,205.5 270.5,204.7 271.2,204.6 271.9,205.1 272.6,205.7 273.3,206.3 274.0,206.6 274.7,206.7 275.4,206.7 276.1,206.8 276.8,206.8 277.5,206.8 278.2,206.6 278.9,206.5 279.6,206.4 280.3,206.2 281.0,206.3 281.7,206.5 282.4,206.7 283.1,206.9 283.8,207.1 284.5,207.3 285.2,207.5 285.9,207.5 286.6,207.4 287.3,207.2 288.0,206.9 288.7,206.1 289.4,204.8 290.1,203.4 290.8,202.1 291.5,201.6 292.2,202.3 292.9,203.3 293.6,204.1 294.3,204.3 295.0,204.4 295.7,204.5 296.4,204.7 297.1,205.5 297.8,206.4 298.5,207.0 299.2,206.9 299.9,206.5 300.6,206.1 301.3,205.7 302.0,205.3 302.7,205.1 303.4,205.4 304.1,205.8 304.8,206.3 305.5,206.8 306.2,207.2 306.9,207.3 307.6,207.4 308.3,207.4 309.0,207.5 309.7,207.5 310.4,207.6 311.1,207.6 311.8,207.6 312.5,207.6 313.2,207.6 313.9,207.6 314.6,207.6 315.3,207.6 316.0,207.6 316.7,207.6 317.4,207.6 318.1,207.6 318.8,207.6 319.5,207.6 320.2,207.6 320.9,207.5 321.6,207.0 322.3,206.3 323.0,205.6 323.7,204.9 324.4,204.2 325.1,203.6 325.8,203.8 326.5,204.3 327.2,204.8 327.9,205.2 328.6,205.2 329.3,205.0 330.0,204.9 330.7,204.7 331.4,204.6 332.1,204.7 332.8,204.9 333.5,205.2 334.2,205.4 334.9,205.6 335.6,205.9 336.3,206.0 337.0,206.0 337.7,205.9 338.4,205.7 339.1,205.5 339.8,205.4 340.5,205.6 341.2,205.9 341.9,206.2 342.6,206.5 343.3,206.8 344.0,207.1 344.7,207.2 345.4,207.2 346.1,207.2 346.8,207.2 347.5,207.1 348.2,206.4 348.9,205.4 349.6,204.4 350.3,203.9 351.0,203.9 351.7,204.0 352.4,204.1 353.1,203.7 353.8,203.1 354.5,202.4 355.2,201.7 355.9,201.0 356.6,200.5 357.3,201.1 358.0,202.0 358.7,202.4 359.4,202.3 360.1,202.1 360.8,201.9 361.5,201.7 362.2,201.4 362.9,201.2 363.6,200.8 364.3,200.2 365.0,199.5 365.7,198.9 366.4,198.2 367.1,197.8 367.8,197.9 368.5,198.2 369.2,198.5 369.9,198.6 370.6,198.4 371.3,198.2 372.0,198.2 372.7,198.7 373.4,199.4 374.1,200.0 374.8,200.4 375.5,200.2 376.2,199.8 376.9,199.5 377.6,199.3 378.3,199.7 379.0,200.1 379.7,200.5 380.4,201.0 381.1,201.6 381.8,202.1 382.5,202.7 383.2,203.2 383.9,203.7 384.6,203.8 385.3,203.9 386.0,204.0 386.7,204.1 387.4,204.1 388.1,204.1 388.8,203.9 389.5,203.7 390.2,203.4 390.9,203.2 391.6,202.9 392.3,202.8 393.0,203.4 393.7,204.2 394.4,205.0 395.1,205.8 395.8,206.4 396.5,206.3 397.2,206.1 397.9,205.8 398.6,205.6 399.3,205.4 400.0,205.6 400.7,205.9 401.4,206.2 402.1,206.6 402.8,206.9 403.5,207.1 404.2,206.8 404.9,206.4 405.6,205.9 406.3,205.4 407.0,205.1 407.7,205.3 408.4,205.8 409.1,206.2 409.8,206.7 410.5,207.1 411.2,207.5 411.9,207.6 412.6,207.5 413.3,207.5 414.0,207.4 414.7,207.3 415.4,207.2 416.1,206.9 416.8,206.4 417.5,205.9 418.2,205.4 418.9,204.9 419.6,204.5 420.3,204.4 421.0,204.5 421.7,204.8 422.4,205.0 423.1,205.2 423.8,205.2 424.5,205.0 425.2,204.8 425.9,204.6 426.6,204.4 427.3,204.1 428.0,203.9 428.7,203.8 429.4,203.6 430.1,203.5 430.8,203.4 431.5,203.3 432.2,203.2 432.9,203.1 433.6,203.0 434.3,203.1 435.0,203.3 435.7,203.5 436.4,203.8 437.1,204.1 437.8,204.3 438.5,204.5 439.2,204.6 439.9,204.7 440.6,204.7 441.3,204.8 442.0,204.9 442.7,205.0 443.4,205.2 444.1,205.5 444.8,205.7 445.5,205.9 446.2,206.2 446.9,206.4 447.6,206.7 448.3,206.8 449.0,206.6 449.7,206.3 450.4,206.1 451.1,205.8 451.8,205.6 452.5,205.5 453.2,205.8 453.9,206.1 454.6,206.5 455.3,206.9 456.0,207.0 456.7,206.4 457.4,205.6 458.1,204.8 458.8,204.0 459.5,203.3 460.2,202.5 460.9,202.2 461.6,202.9 462.3,203.8 463.0,204.7 463.7,205.6 464.4,206.4 465.1,206.6 465.8,206.7 466.5,206.7 467.2,206.8 467.9,206.9 468.6,207.2 469.3,207.4 470.0,207.7 470.7,207.9 471.4,207.9 472.1,207.8 472.8,207.7 473.5,207.6 474.2,207.5 474.9,207.4 475.6,207.3 476.3,207.2 477.0,207.2 477.7,207.1 478.4,207.0 479.1,206.9 479.8,206.8 480.5,206.7 481.2,206.7 481.9,206.6 482.6,206.4 483.3,206.3 484.0,206.1 484.7,205.9 485.4,205.8 486.1,205.9 486.8,206.2 487.5,206.4 488.2,206.6 488.9,206.9 489.6,207.1 490.3,207.1 491.0,207.0 491.7,206.8 492.4,206.2 493.1,205.2 493.8,204.1 494.5,203.4 495.2,204.2 495.9,205.3 496.6,206.3 497.3,206.8 498.0,206.9 498.7,206.9 499.4,206.9 500.1,206.9 500.8,206.9 501.5,206.9 502.2,207.0 502.9,207.1 503.6,207.1 504.3,206.7 505.0,205.9 505.7,205.0 506.4,204.1 507.1,203.3 507.8,203.0 508.5,203.5 509.2,204.0 509.9,204.6 510.6,205.2 511.3,205.8 512.0,206.4 512.7,207.0 513.4,207.5 514.1,207.8 514.8,207.5 515.5,207.1 516.2,206.8 516.9,206.4 517.6,206.0 518.3,205.4 519.0,204.5 519.7,203.6 520.4,202.7 521.1,201.9 521.8,201.7 522.5,202.6 523.2,203.7 523.9,204.9 524.6,206.0 525.3,206.6 526.0,206.5 526.7,206.2 527.4,205.9 528.1,205.6 528.8,205.5 529.5,206.0 530.2,206.5 530.9,207.1 531.6,207.5 532.3,207.4 533.0,207.2 533.7,207.0 534.4,206.9 535.1,207.0 535.8,207.2 536.5,207.3 537.2,207.5 537.9,207.6 538.6,207.5 539.3,207.5 540.0,207.4 540.7,207.4 541.4,207.3 542.1,207.3 542.1,208.5 541.4,208.5 540.7,208.6 540.0,208.6 539.3,208.7 538.6,208.7 537.9,208.8 537.2,208.7 536.5,208.5 535.8,208.4 535.1,208.2 534.4,208.1 533.7,208.2 533.0,208.4 532.3,208.6 531.6,208.7 530.9,208.3 530.2,207.7 529.5,207.1 528.8,206.7 528.1,206.8 527.4,207.0 526.7,207.4 526.0,207.7 525.3,207.8 524.6,207.1 523.9,206.0 523.2,204.9 522.5,203.7 521.8,202.8 521.1,203.0 520.4,203.8 519.7,204.7 519.0,205.7 518.3,206.6 517.6,207.1 516.9,207.6 516.2,207.9 515.5,208.3 514.8,208.7 514.1,209.0 513.4,208.7 512.7,208.2 512.0,207.5 511.3,206.9 510.6,206.3 509.9,205.7 509.2,205.2 508.5,204.6 507.8,204.1 507.1,204.4 506.4,205.2 505.7,206.2 505.0,207.1 504.3,207.9 503.6,208.3 502.9,208.3 502.2,208.2 501.5,208.1 500.8,208.1 500.1,208.1 499.4,208.1 498.7,208.1 498.0,208.1 497.3,208.0 496.6,207.5 495.9,206.4 495.2,205.3 494.5,204.5 493.8,205.3 493.1,206.3 492.4,207.4 491.7,208.0 491.0,208.2 490.3,208.3 489.6,208.3 488.9,208.1 488.2,207.8 487.5,207.6 486.8,207.3 486.1,207.1 485.4,207.0 484.7,207.1 484.0,207.3 483.3,207.4 482.6,207.6 481.9,207.7 481.2,207.8 480.5,207.9 479.8,208.0 479.1,208.1 478.4,208.2 477.7,208.3 477.0,208.3 476.3,208.4 475.6,208.5 474.9,208.6 474.2,208.7 473.5,208.8 472.8,208.9 472.1,209.0 471.4,209.1 470.7,209.1 470.0,208.9 469.3,208.6 468.6,208.3 467.9,208.1 467.2,208.0 466.5,207.9 465.8,207.9 465.1,207.8 464.4,207.6 463.7,206.8 463.0,205.9 462.3,204.9 461.6,204.0 460.9,203.3 460.2,203.6 459.5,204.4 458.8,205.2 458.1,206.0 457.4,206.7 456.7,207.5 456.0,208.1 455.3,208.1 454.6,207.7 453.9,207.3 453.2,206.9 452.5,206.6 451.8,206.7 451.1,207.0 450.4,207.2 449.7,207.5 449.0,207.8 448.3,207.9 447.6,207.8 446.9,207.6 446.2,207.4 445.5,207.1 444.8,206.9 444.1,206.6 443.4,206.4 442.7,206.2 442.0,206.0 441.3,205.9 440.6,205.9 439.9,205.8 439.2,205.7 438.5,205.6 437.8,205.4 437.1,205.2 436.4,204.9 435.7,204.7 435.0,204.4 434.3,204.2 433.6,204.2 432.9,204.2 432.2,204.3 431.5,204.5 430.8,204.6 430.1,204.7 429.4,204.8 428.7,204.9 428.0,205.1 427.3,205.3 426.6,205.5 425.9,205.7 425.2,205.9 424.5,206.2 423.8,206.3 423.1,206.3 422.4,206.1 421.7,205.9 421.0,205.7 420.3,205.5 419.6,205.6 418.9,206.0 418.2,206.6 417.5,207.1 416.8,207.6 416.1,208.0 415.4,208.4 414.7,208.5 414.0,208.6 413.3,208.6 412.6,208.7 411.9,208.8 411.2,208.7 410.5,208.3 409.8,207.8 409.1,207.4 408.4,206.9 407.7,206.5 407.0,206.3 406.3,206.6 405.6,207.1 404.9,207.6 404.2,208.0 403.5,208.3 402.8,208.1 402.1,207.7 401.4,207.4 400.7,207.1 400.0,206.8 399.3,206.6 398.6,206.8 397.9,207.0 397.2,207.2 396.5,207.5 395.8,207.6 395.1,206.9 394.4,206.1 393.7,205.3 393.0,204.6 392.3,203.9 391.6,204.0 390.9,204.3 390.2,204.5 389.5,204.8 388.8,205.1 388.1,205.3 387.4,205.3 386.7,205.2 386.0,205.1 385.3,205.0 384.6,205.0 383.9,204.8 383.2,204.3 382.5,203.8 381.8,203.2 381.1,202.6 380.4,202.1 379.7,201.6 379.0,201.2 378.3,200.7 377.6,200.4 376.9,200.5 376.2,200.9 375.5,201.2 374.8,201.4 374.1,201.1 373.4,200.4 372.7,199.8 372.0,199.4 371.3,199.4 370.6,199.5 369.9,199.6 369.2,199.5 368.5,199.4 367.8,199.3 367.1,199.3 366.4,199.4 365.7,199.9 365.0,200.6 364.3,201.3 363.6,201.9 362.9,202.3 362.2,202.5 361.5,202.7 360.8,203.0 360.1,203.2 359.4,203.4 358.7,203.5 358.0,203.1 357.3,202.2 356.6,201.6 355.9,202.1 355.2,202.8 354.5,203.5 353.8,204.2 353.1,204.9 352.4,205.2 351.7,205.2 351.0,205.1 350.3,205.1 349.6,205.5 348.9,206.5 348.2,207.6 347.5,208.3 346.8,208.4 346.1,208.4 345.4,208.4 344.7,208.4 344.0,208.3 343.3,208.0 342.6,207.7 341.9,207.4 341.2,207.0 340.5,206.7 339.8,206.6 339.1,206.7 338.4,206.9 337.7,207.0 337.0,207.2 336.3,207.2 335.6,207.0 334.9,206.8 334.2,206.5 333.5,206.3 332.8,206.1 332.1,205.9 331.4,205.7 330.7,205.8 330.0,206.0 329.3,206.2 328.6,206.3 327.9,206.3 327.2,205.9 326.5,205.4 325.8,204.9 325.1,204.8 324.4,205.3 323.7,206.0 323.0,206.8 322.3,207.5 321.6,208.2 320.9,208.7 320.2,208.8 319.5,208.8 318.8,208.8 318.1,208.8 317.4,208.8 316.7,208.8 316.0,208.8 315.3,208.8 314.6,208.8 313.9,208.8 313.2,208.8 312.5,208.8 311.8,208.8 311.1,208.8 310.4,208.8 309.7,208.7 309.0,208.7 308.3,208.6 307.6,208.5 306.9,208.5 306.2,208.4 305.5,208.0 304.8,207.5 304.1,207.0 303.4,206.5 302.7,206.2 302.0,206.5 301.3,206.9 300.6,207.2 299.9,207.6 299.2,208.0 298.5,208.2 297.8,207.5 297.1,206.7 296.4,205.9 295.7,205.6 295.0,205.5 294.3,205.4 293.6,205.2 292.9,204.4 292.2,203.4 291.5,202.7 290.8,203.2 290.1,204.5 289.4,206.0 288.7,207.3 288.0,208.1 287.3,208.4 286.6,208.6 285.9,208.7 285.2,208.7 284.5,208.5 283.8,208.3 283.1,208.1 282.4,207.9 281.7,207.7 281.0,207.5 280.3,207.4 279.6,207.5 278.9,207.7 278.2,207.8 277.5,208.0 276.8,208.0 276.1,208.0 275.4,207.9 274.7,207.8 274.0,207.7 273.3,207.4 272.6,206.9 271.9,206.3 271.2,205.8 270.5,205.9 269.8,206.6 269.1,207.5 268.4,207.9 267.7,207.8 267.0,207.6 266.3,207.5 265.6,207.4 264.9,207.5 264.2,207.6 263.5,207.7 262.8,207.8 262.1,207.9 261.4,208.0 260.7,208.1 260.0,208.1 259.3,208.2 258.6,208.2 257.9,208.3 257.2,208.3 256.5,208.4 255.8,208.4 255.1,208.4 254.4,208.3 253.7,208.2 253.0,208.2 252.3,208.1 251.6,207.7 250.9,206.8 250.2,205.8 249.5,204.9 248.8,204.8 248.1,205.9 247.4,207.2 246.7,208.1 246.0,207.8 245.3,207.3 244.6,206.0 243.9,203.0 243.2,199.6 242.5,198.5 241.8,197.9 241.1,197.5 240.4,197.2 239.7,196.8 239.0,196.7 238.3,197.3 237.6,198.1 236.9,198.8 236.2,199.6 235.5,201.4 234.8,202.9 234.1,204.2 233.4,205.6 232.7,206.7 232.0,207.3 231.3,207.7 230.6,208.1 229.9,208.4 229.2,208.8 228.5,208.8 227.8,208.7 227.1,208.6 226.4,208.6 225.7,208.5 225.0,208.5 224.3,208.5 223.6,208.5 222.9,208.5 222.2,208.6 221.5,208.6 220.8,208.7 220.1,208.7 219.4,208.7 218.7,208.8 218.0,208.8 217.3,208.6 216.6,208.3 215.9,208.0 215.2,207.7 214.5,207.4 213.8,207.0 213.1,206.7 212.4,206.5 211.7,206.2 211.0,205.9 210.3,205.6 209.6,205.3 208.9,205.1 208.2,205.2 207.5,205.7 206.8,206.1 206.1,206.6 205.4,207.0 204.7,206.8 204.0,206.0 203.3,205.2 202.6,204.5 201.9,204.4 201.2,204.8 200.5,205.3 199.8,205.8 199.1,206.3 198.4,206.8 197.7,207.3 197.0,207.7 196.3,208.0 195.6,208.1 194.9,208.2 194.2,208.3 193.5,208.3 192.8,208.4 192.1,208.2 191.4,207.9 190.7,207.5 190.0,207.1 189.3,206.7 188.6,206.3 187.9,206.3 187.2,206.5 186.5,206.8 185.8,207.2 185.1,207.5 184.4,207.8 183.7,207.8 183.0,207.2 182.3,206.6 181.6,206.0 180.9,205.4 180.2,205.2 179.5,205.5 178.8,205.9 178.1,206.4 177.4,206.8 176.7,207.3 176.0,207.7 175.3,207.8 174.6,207.5 173.9,207.2 173.2,206.8 172.5,206.5 171.8,206.4 171.1,206.3 170.4,206.2 169.7,206.1 169.0,205.6 168.3,204.6 167.6,203.5 166.9,202.4 166.2,201.7 165.5,202.1 164.8,202.8 164.1,203.4 163.4,204.1 162.7,204.6 162.0,203.9 161.3,200.2 160.6,198.2 159.9,197.3 159.2,197.3 158.5,198.2 157.8,199.3 157.1,201.5 156.4,203.5 155.7,205.3 155.0,206.6 154.3,206.1 153.6,204.8 152.9,203.4 152.2,202.4 151.5,202.9 150.8,204.4 150.1,206.0 149.4,207.3 148.7,207.3 148.0,206.5 147.3,205.6 146.6,204.5 145.9,203.4 145.2,202.3 144.5,201.2 143.8,200.3 143.1,200.2 142.4,200.5 141.7,201.0 141.0,201.4 140.3,202.0 139.6,203.4 138.9,205.4 138.2,206.8 137.5,205.7 136.8,203.1 136.1,200.4 135.4,199.2 134.7,198.9 134.0,198.7 133.3,198.4 132.6,198.0 131.9,197.7 131.2,197.4 130.5,197.5 129.8,197.9 129.1,198.4 128.4,198.9 127.7,199.4 127.0,199.8 126.3,200.1 125.6,200.3 124.9,200.6 124.2,200.8 123.5,201.0 122.8,200.9 122.1,200.5 121.4,200.0 120.7,199.6 120.0,199.5 119.3,199.5 118.6,199.5 117.9,199.5 117.2,199.5 116.5,199.5 115.8,199.8 115.1,200.6 114.4,201.5 113.7,202.3 113.0,203.2 112.3,204.0 111.6,204.3 110.9,204.0 110.2,203.6 109.5,203.2 108.8,202.8 108.1,202.8 107.4,203.1 106.7,203.6 106.0,204.0 105.3,204.5 104.6,204.9 103.9,205.4 103.2,205.8 102.5,206.3 101.8,206.7 101.1,207.2 100.4,207.6 99.7,208.0 99.0,208.2 98.3,207.9 97.6,207.6 96.9,207.3 96.2,206.9 95.5,206.5 94.8,206.0 94.1,205.6 93.4,205.3 92.7,205.5 92.0,206.1 91.3,206.9 90.6,207.7 89.9,208.3 89.2,208.4 88.5,208.4 87.8,208.4 87.1,208.4 86.4,208.4 85.7,208.4 85.0,208.4 84.3,208.4 83.6,208.4 82.9,208.4 82.2,208.4 81.5,208.4 80.8,208.4 80.1,208.4 79.4,208.4 78.7,208.4 78.0,208.4 77.3,208.4 76.6,208.4 75.9,208.4 75.2,208.4 74.5,208.4 73.8,208.4 73.1,208.4 72.4,208.4 71.7,208.5 71.0,208.8 70.3,209.1 69.6,209.3 68.9,209.0 68.2,208.6 67.5,208.1 66.8,207.6 66.1,207.2 65.4,207.2 64.7,207.6 64.0,208.1 63.3,208.6 62.6,208.9 61.9,208.5 61.2,207.7 60.5,206.8 59.8,205.9 59.1,205.1 58.4,204.7 57.7,204.9 57.0,205.4 56.3,205.6 55.6,205.1 54.9,204.3 54.2,203.9 53.5,204.4 52.8,205.2 52.1,206.0 51.4,206.3 50.7,205.8 50.0,205.0 49.3,204.3 48.6,204.0 47.9,204.8 47.2,206.0 46.5,207.1 45.8,208.2 45.1,209.3 44.4,210.1 43.7,209.6 43.0,208.7 42.3,207.9 41.6,207.2 40.9,207.4 40.2,208.0 39.5,208.4 38.8,208.2 38.1,207.5 37.4,206.7 36.7,206.0 36.0,205.6 35.3,205.5 34.6,205.6 33.9,205.8 33.2,206.0" fill="#00ffff"/><polygon points="33.2,200.5 33.9,200.2 34.6,199.9 35.3,199.8 36.0,199.8 36.7,200.5 37.4,201.8 38.1,203.3 38.8,204.5 39.5,204.9 40.2,204.1 40.9,203.1 41.6,202.8 42.3,203.9 43.0,205.5 43.7,207.0 44.4,207.9 45.1,206.5 45.8,204.5 46.5,202.5 47.2,200.5 47.9,198.5 48.6,197.0 49.3,197.5 50.0,198.8 50.7,200.2 51.4,201.2 52.1,200.5 52.8,199.2 53.5,197.8 54.2,196.8 54.9,197.6 55.6,198.9 56.3,199.9 57.0,199.4 57.7,198.7 58.4,198.2 59.1,198.9 59.8,200.4 60.5,202.0 61.2,203.6 61.9,205.0 62.6,205.7 63.3,205.2 64.0,204.3 64.7,203.4 65.4,202.7 66.1,202.8 66.8,203.5 67.5,204.3 68.2,205.1 68.9,205.9 69.6,206.4 70.3,206.1 71.0,205.6 71.7,205.1 72.4,204.8 73.1,204.8 73.8,204.8 74.5,204.8 75.2,204.8 75.9,204.8 76.6,204.8 77.3,204.8 78.0,204.8 78.7,204.8 79.4,204.8 80.1,204.8 80.8,204.8 81.5,204.8 82.2,204.8 82.9,204.8 83.6,204.8 84.3,204.8 85.0,204.8 85.7,204.8 86.4,204.8 87.1,204.8 87.8,204.8 88.5,204.8 89.2,204.8 89.9,204.6 90.6,203.6 91.3,202.2 92.0,200.8 92.7,199.6 93.4,199.4 94.1,199.9 94.8,200.7 95.5,201.4 96.2,202.1 96.9,202.8 97.6,203.4 98.3,204.0 99.0,204.5 99.7,204.2 100.4,203.4 101.1,202.6 101.8,201.9 102.5,201.1 103.2,200.3 103.9,199.5 104.6,198.7 105.3,197.9 106.0,197.1 106.7,196.3 107.4,195.5 108.1,194.8 108.8,194.8 109.5,195.5 110.2,196.2 110.9,197.0 111.6,197.5 112.3,197.0 113.0,195.6 113.7,194.0 114.4,192.5 115.1,190.9 115.8,189.5 116.5,188.8 117.2,188.7 117.9,188.7 118.6,188.7 119.3,188.7 120.0,188.7 120.7,189.1 121.4,189.9 122.1,190.7 122.8,191.5 123.5,191.7 124.2,191.3 124.9,190.8 125.6,190.4 126.3,190.0 127.0,189.5 127.7,188.3 128.4,186.2 129.1,184.0 129.8,181.7 130.5,179.7 131.2,179.2 131.9,180.5 132.6,182.0 133.3,183.6 134.0,185.0 134.7,186.2 135.4,187.6 136.1,190.6 136.8,195.3 137.5,200.1 138.2,202.1 138.9,199.4 139.6,195.9 140.3,193.5 141.0,192.4 141.7,191.6 142.4,190.8 143.1,190.1 143.8,190.3 144.5,192.0 145.2,194.0 145.9,196.0 146.6,197.9 147.3,199.8 148.0,201.4 148.7,202.8 149.4,202.9 150.1,200.6 150.8,197.7 151.5,195.1 152.2,194.1 152.9,196.0 153.6,198.4 154.3,200.7 155.0,201.7 155.7,199.3 156.4,196.2 157.1,192.6 157.8,187.9 158.5,183.0 159.2,179.0 159.9,179.0 160.6,183.0 161.3,190.3 162.0,196.9 162.7,198.1 163.4,197.2 164.1,196.0 164.8,194.8 165.5,193.6 166.2,192.9 166.9,194.1 167.6,196.0 168.3,198.1 169.0,199.9 169.7,200.7 170.4,200.9 171.1,201.1 171.8,201.2 172.5,201.4 173.2,202.0 173.9,202.6 174.6,203.3 175.3,203.9 176.0,203.6 176.7,202.9 177.4,202.1 178.1,201.3 178.8,200.4 179.5,199.6 180.2,199.1 180.9,199.5 181.6,200.5 182.3,201.7 183.0,202.8 183.7,203.7 184.4,203.7 185.1,203.2 185.8,202.7 186.5,202.1 187.2,201.5 187.9,201.1 188.6,201.2 189.3,201.8 190.0,202.5 190.7,203.2 191.4,203.9 192.1,204.5 192.8,204.8 193.5,204.7 194.2,204.6 194.9,204.5 195.6,204.4 196.3,204.2 197.0,203.7 197.7,202.9 198.4,202.0 199.1,201.1 199.8,200.2 200.5,199.4 201.2,198.5 201.9,197.8 202.6,198.0 203.3,199.2 204.0,200.6 204.7,201.9 205.4,202.3 206.1,201.7 206.8,200.8 207.5,200.0 208.2,199.2 208.9,199.0 209.6,199.3 210.3,199.8 211.0,200.4 211.7,200.9 212.4,201.4 213.1,201.9 213.8,202.4 214.5,203.0 215.2,203.6 215.9,204.1 216.6,204.7 217.3,205.2 218.0,205.5 218.7,205.5 219.4,205.5 220.1,205.4 220.8,205.3 221.5,205.3 222.2,205.2 222.9,205.1 223.6,205.0 224.3,205.0 225.0,204.9 225.7,205.0 226.4,205.2 227.1,205.3 227.8,205.4 228.5,205.5 229.2,205.5 229.9,204.9 230.6,204.2 231.3,203.6 232.0,202.9 232.7,201.9 233.4,199.8 234.1,197.4 234.8,195.0 235.5,192.4 236.2,189.2 236.9,185.8 237.6,182.3 238.3,178.8 239.0,176.1 239.7,176.5 240.4,178.1 241.1,179.9 241.8,181.8 242.5,184.2 243.2,189.2 243.9,195.2 244.6,200.5 245.3,202.8 246.0,203.9 246.7,204.3 247.4,202.7 248.1,200.3 248.8,198.3 249.5,198.6 250.2,200.2 250.9,201.9 251.6,203.5 252.3,204.2 253.0,204.4 253.7,204.5 254.4,204.7 255.1,204.8 255.8,204.9 256.5,204.8 257.2,204.7 257.9,204.7 258.6,204.6 259.3,204.5 260.0,204.4 260.7,204.3 261.4,204.1 262.1,203.9 262.8,203.7 263.5,203.5 264.2,203.4 264.9,203.2 265.6,203.0 266.3,203.2 267.0,203.5 267.7,203.8 268.4,203.9 269.1,203.2 269.8,201.7 270.5,200.3 271.2,200.2 271.9,201.1 272.6,202.1 273.3,203.1 274.0,203.7 274.7,203.9 275.4,204.0 276.1,204.1 276.8,204.2 277.5,204.1 278.2,203.8 278.9,203.6 279.6,203.3 280.3,203.1 281.0,203.2 281.7,203.5 282.4,203.9 283.1,204.3 283.8,204.7 284.5,205.0 285.2,205.4 285.9,205.4 286.6,205.1 287.3,204.8 288.0,204.3 288.7,202.9 289.4,200.5 290.1,198.0 290.8,195.6 291.5,194.6 292.2,195.9 292.9,197.7 293.6,199.1 294.3,199.5 295.0,199.7 295.7,199.8 296.4,200.4 297.1,201.7 297.8,203.3 298.5,204.5 299.2,204.2 299.9,203.5 300.6,202.8 301.3,202.1 302.0,201.4 302.7,200.9 303.4,201.5 304.1,202.4 304.8,203.2 305.5,204.1 306.2,204.8 306.9,205.0 307.6,205.1 308.3,205.2 309.0,205.3 309.7,205.4 310.4,205.5 311.1,205.6 311.8,205.6 312.5,205.6 313.2,205.6 313.9,205.6 314.6,205.6 315.3,205.6 316.0,205.6 316.7,205.6 317.4,205.6 318.1,205.6 318.8,205.6 319.5,205.6 320.2,205.6 320.9,205.4 321.6,204.5 322.3,203.2 323.0,201.9 323.7,200.6 324.4,199.3 325.1,198.4 325.8,198.7 326.5,199.5 327.2,200.4 327.9,201.1 328.6,201.1 329.3,200.9 330.0,200.6 330.7,200.3 331.4,200.1 332.1,200.3 332.8,200.7 333.5,201.1 334.2,201.5 334.9,202.0 335.6,202.4 336.3,202.7 337.0,202.7 337.7,202.4 338.4,202.1 339.1,201.8 339.8,201.6 340.5,201.9 341.2,202.4 341.9,203.0 342.6,203.6 343.3,204.2 344.0,204.7 344.7,204.9 345.4,204.9 346.1,204.9 346.8,204.9 347.5,204.7 348.2,203.4 348.9,201.5 349.6,199.7 350.3,198.9 351.0,198.9 351.7,199.1 352.4,199.1 353.1,198.5 353.8,197.4 354.5,196.1 355.2,194.8 355.9,193.5 356.6,192.7 357.3,193.8 358.0,195.3 358.7,196.2 359.4,196.0 360.1,195.6 360.8,195.2 361.5,194.7 362.2,194.3 362.9,193.9 363.6,193.3 364.3,192.1 365.0,190.9 365.7,189.7 366.4,188.5 367.1,187.7 367.8,188.0 368.5,188.5 369.2,189.0 369.9,189.2 370.6,188.9 371.3,188.5 372.0,188.5 372.7,189.5 373.4,190.6 374.1,191.7 374.8,192.4 375.5,192.0 376.2,191.4 376.9,190.8 377.6,190.5 378.3,191.1 379.0,191.9 379.7,192.7 380.4,193.6 381.1,194.6 381.8,195.6 382.5,196.6 383.2,197.6 383.9,198.5 384.6,198.7 385.3,198.9 386.0,199.0 386.7,199.1 387.4,199.2 388.1,199.3 388.8,198.9 389.5,198.4 390.2,198.0 390.9,197.5 391.6,197.0 392.3,196.9 393.0,198.0 393.7,199.4 394.4,200.8 395.1,202.2 395.8,203.4 396.5,203.2 397.2,202.8 397.9,202.4 398.6,201.9 399.3,201.6 400.0,202.0 400.7,202.5 401.4,203.1 402.1,203.7 402.8,204.2 403.5,204.6 404.2,204.1 404.9,203.3 405.6,202.5 406.3,201.6 407.0,201.0 407.7,201.4 408.4,202.2 409.1,203.0 409.8,203.9 410.5,204.7 411.2,205.4 411.9,205.5 412.6,205.4 413.3,205.3 414.0,205.2 414.7,205.1 415.4,204.8 416.1,204.2 416.8,203.4 417.5,202.5 418.2,201.6 418.9,200.7 419.6,199.9 420.3,199.7 421.0,200.0 421.7,200.4 422.4,200.8 423.1,201.1 423.8,201.2 424.5,200.9 425.2,200.5 425.9,200.1 426.6,199.7 427.3,199.3 428.0,198.9 428.7,198.6 429.4,198.4 430.1,198.2 430.8,198.0 431.5,197.8 432.2,197.6 432.9,197.4 433.6,197.3 434.3,197.3 435.0,197.7 435.7,198.2 436.4,198.7 437.1,199.1 437.8,199.6 438.5,199.9 439.2,200.1 439.9,200.2 440.6,200.3 441.3,200.5 442.0,200.6 442.7,200.8 443.4,201.2 444.1,201.7 444.8,202.1 445.5,202.6 446.2,203.0 446.9,203.4 447.6,203.8 448.3,204.0 449.0,203.7 449.7,203.2 450.4,202.8 451.1,202.3 451.8,201.9 452.5,201.7 453.2,202.2 453.9,202.9 454.6,203.6 455.3,204.3 456.0,204.4 456.7,203.3 457.4,201.9 458.1,200.5 458.8,199.1 459.5,197.7 460.2,196.3 460.9,195.7 461.6,197.0 462.3,198.6 463.0,200.3 463.7,202.0 464.4,203.4 465.1,203.8 465.8,203.9 466.5,204.0 467.2,204.1 467.9,204.3 468.6,204.8 469.3,205.3 470.0,205.8 470.7,206.2 471.4,206.1 472.1,206.0 472.8,205.8 473.5,205.6 474.2,205.4 474.9,205.3 475.6,205.1 476.3,204.9 477.0,204.8 477.7,204.6 478.4,204.5 479.1,204.3 479.8,204.2 480.5,204.0 481.2,203.8 481.9,203.7 482.6,203.4 483.3,203.1 484.0,202.8 484.7,202.6 485.4,202.3 486.1,202.5 486.8,202.9 487.5,203.4 488.2,203.8 488.9,204.3 489.6,204.7 490.3,204.7 491.0,204.6 491.7,204.2 492.4,203.0 493.1,201.2 493.8,199.3 494.5,198.0 495.2,199.3 495.9,201.3 496.6,203.2 497.3,204.1 498.0,204.2 498.7,204.2 499.4,204.2 500.1,204.2 500.8,204.3 501.5,204.3 502.2,204.5 502.9,204.6 503.6,204.7 504.3,204.0 505.0,202.5 505.7,200.9 506.4,199.2 507.1,197.7 507.8,197.3 508.5,198.0 509.2,199.1 509.9,200.1 510.6,201.1 511.3,202.2 512.0,203.3 512.7,204.4 513.4,205.4 514.1,205.9 514.8,205.4 515.5,204.7 516.2,204.0 516.9,203.4 517.6,202.6 518.3,201.6 519.0,200.0 519.7,198.3 520.4,196.6 521.1,195.1 521.8,194.8 522.5,196.4 523.2,198.5 523.9,200.6 524.6,202.6 525.3,203.8 526.0,203.5 526.7,203.0 527.4,202.4 528.1,201.9 528.8,201.8 529.5,202.6 530.2,203.6 530.9,204.6 531.6,205.3 532.3,205.2 533.0,204.8 533.7,204.5 534.4,204.4 535.1,204.5 535.8,204.8 536.5,205.1 537.2,205.3 537.9,205.5 538.6,205.4 539.3,205.3 540.0,205.3 540.7,205.2 541.4,205.1 542.1,205.0 542.1,207.3 541.4,207.3 540.7,207.4 540.0,207.4 539.3,207.5 538.6,207.5 537.9,207.6 537.2,207.5 536.5,207.3 535.8,207.2 535.1,207.0 534.4,206.9 533.7,207.0 533.0,207.2 532.3,207.4 531.6,207.5 530.9,207.1 530.2,206.5 529.5,206.0 528.8,205.5 528.1,205.6 527.4,205.9 526.7,206.2 526.0,206.5 525.3,206.6 524.6,206.0 523.9,204.9 523.2,203.7 522.5,202.6 521.8,201.7 521.1,201.9 520.4,202.7 519.7,203.6 519.0,204.5 518.3,205.4 517.6,206.0 516.9,206.4 516.2,206.8 515.5,207.1 514.8,207.5 514.1,207.8 513.4,207.5 512.7,207.0 512.0,206.4 511.3,205.8 510.6,205.2 509.9,204.6 509.2,204.0 508.5,203.5 507.8,203.0 507.1,203.3 506.4,204.1 505.7,205.0 505.0,205.9 504.3,206.7 503.6,207.1 502.9,207.1 502.2,207.0 501.5,206.9 500.8,206.9 500.1,206.9 499.4,206.9 498.7,206.9 498.0,206.9 497.3,206.8 496.6,206.3 495.9,205.3 495.2,204.2 494.5,203.4 493.8,204.1 493.1,205.2 492.4,206.2 491.7,206.8 491.0,207.0 490.3,207.1 489.6,207.1 488.9,206.9 488.2,206.6 487.5,206.4 486.8,206.2 486.1,205.9 485.4,205.8 484.7,205.9 484.0,206.1 483.3,206.3 482.6,206.4 481.9,206.6 481.2,206.7 480.5,206.7 479.8,206.8 479.1,206.9 478.4,207.0 477.7,207.1 477.0,207.2 476.3,207.2 475.6,207.3 474.9,207.4 474.2,207.5 473.5,207.6 472.8,207.7 472.1,207.8 471.4,207.9 470.7,207.9 470.0,207.7 469.3,207.4 468.6,207.2 467.9,206.9 467.2,206.8 466.5,206.7 465.8,206.7 465.1,206.6 464.4,206.4 463.7,205.6 463.0,204.7 462.3,203.8 461.6,202.9 460.9,202.2 460.2,202.5 459.5,203.3 458.8,204.0 458.1,204.8 457.4,205.6 456.7,206.4 456.0,207.0 455.3,206.9 454.6,206.5 453.9,206.1 453.2,205.8 452.5,205.5 451.8,205.6 451.1,205.8 450.4,206.1 449.7,206.3 449.0,206.6 448.3,206.8 447.6,206.7 446.9,206.4 446.2,206.2 445.5,205.9 444.8,205.7 444.1,205.5 443.4,205.2 442.7,205.0 442.0,204.9 441.3,204.8 440.6,204.7 439.9,204.7 439.2,204.6 438.5,204.5 437.8,204.3 437.1,204.1 436.4,203.8 435.7,203.5 435.0,203.3 434.3,203.1 433.6,203.0 432.9,203.1 432.2,203.2 431.5,203.3 430.8,203.4 430.1,203.5 429.4,203.6 428.7,203.8 428.0,203.9 427.3,204.1 426.6,204.4 425.9,204.6 425.2,204.8 424.5,205.0 423.8,205.2 423.1,205.2 422.4,205.0 421.7,204.8 421.0,204.5 420.3,204.4 419.6,204.5 418.9,204.9 418.2,205.4 417.5,205.9 416.8,206.4 416.1,206.9 415.4,207.2 414.7,207.3 414.0,207.4 413.3,207.5 412.6,207.5 411.9,207.6 411.2,207.5 410.5,207.1 409.8,206.7 409.1,206.2 408.4,205.8 407.7,205.3 407.0,205.1 406.3,205.4 405.6,205.9 404.9,206.4 404.2,206.8 403.5,207.1 402.8,206.9 402.1,206.6 401.4,206.2 400.7,205.9 400.0,205.6 399.3,205.4 398.6,205.6 397.9,205.8 397.2,206.1 396.5,206.3 395.8,206.4 395.1,205.8 394.4,205.0 393.7,204.2 393.0,203.4 392.3,202.8 391.6,202.9 390.9,203.2 390.2,203.4 389.5,203.7 388.8,203.9 388.1,204.1 387.4,204.1 386.7,204.1 386.0,204.0 385.3,203.9 384.6,203.8 383.9,203.7 383.2,203.2 382.5,202.7 381.8,202.1 381.1,201.6 380.4,201.0 379.7,200.5 379.0,200.1 378.3,199.7 377.6,199.3 376.9,199.5 376.2,199.8 375.5,200.2 374.8,200.4 374.1,200.0 373.4,199.4 372.7,198.7 372.0,198.2 371.3,198.2 370.6,198.4 369.9,198.6 369.2,198.5 368.5,198.2 367.8,197.9 367.1,197.8 366.4,198.2 365.7,198.9 365.0,199.5 364.3,200.2 363.6,200.8 362.9,201.2 362.2,201.4 361.5,201.7 360.8,201.9 360.1,202.1 359.4,202.3 358.7,202.4 358.0,202.0 357.3,201.1 356.6,200.5 355.9,201.0 355.2,201.7 354.5,202.4 353.8,203.1 353.1,203.7 352.4,204.1 351.7,204.0 351.0,203.9 350.3,203.9 349.6,204.4 348.9,205.4 348.2,206.4 347.5,207.1 346.8,207.2 346.1,207.2 345.4,207.2 344.7,207.2 344.0,207.1 343.3,206.8 342.6,206.5 341.9,206.2 341.2,205.9 340.5,205.6 339.8,205.4 339.1,205.5 338.4,205.7 337.7,205.9 337.0,206.0 336.3,206.0 335.6,205.9 334.9,205.6 334.2,205.4 333.5,205.2 332.8,204.9 332.1,204.7 331.4,204.6 330.7,204.7 330.0,204.9 329.3,205.0 328.6,205.2 327.9,205.2 327.2,204.8 326.5,204.3 325.8,203.8 325.1,203.6 324.4,204.2 323.7,204.9 323.0,205.6 322.3,206.3 321.6,207.0 320.9,207.5 320.2,207.6 319.5,207.6 318.8,207.6 318.1,207.6 317.4,207.6 316.7,207.6 316.0,207.6 315.3,207.6 314.6,207.6 313.9,207.6 313.2,207.6 312.5,207.6 311.8,207.6 311.1,207.6 310.4,207.6 309.7,207.5 309.0,207.5 308.3,207.4 307.6,207.4 306.9,207.3 306.2,207.2 305.5,206.8 304.8,206.3 304.1,205.8 303.4,205.4 302.7,205.1 302.0,205.3 301.3,205.7 300.6,206.1 299.9,206.5 299.2,206.9 298.5,207.0 297.8,206.4 297.1,205.5 296.4,204.7 295.7,204.5 295.0,204.4 294.3,204.3 293.6,204.1 292.9,203.3 292.2,202.3 291.5,201.6 290.8,202.1 290.1,203.4 289.4,204.8 288.7,206.1 288.0,206.9 287.3,207.2 286.6,207.4 285.9,207.5 285.2,207.5 284.5,207.3 283.8,207.1 283.1,206.9 282.4,206.7 281.7,206.5 281.0,206.3 280.3,206.2 279.6,206.4 278.9,206.5 278.2,206.6 277.5,206.8 276.8,206.8 276.1,206.8 275.4,206.7 274.7,206.7 274.0,206.6 273.3,206.3 272.6,205.7 271.9,205.1 271.2,204.6 270.5,204.7 269.8,205.5 269.1,206.3 268.4,206.7 267.7,206.6 267.0,206.4 266.3,206.3 265.6,206.2 264.9,206.3 264.2,206.4 263.5,206.5 262.8,206.6 262.1,206.7 261.4,206.8 260.7,206.9 260.0,206.9 259.3,207.0 258.6,207.0 257.9,207.1 257.2,207.2 256.5,207.2 255.8,207.2 255.1,207.2 254.4,207.1 253.7,207.0 253.0,207.0 252.3,206.9 251.6,206.5 250.9,205.6 250.2,204.6 249.5,203.8 248.8,203.6 248.1,204.7 247.4,206.0 246.7,206.9 246.0,206.7 245.3,206.1 244.6,204.8 243.9,201.9 243.2,198.6 242.5,195.8 241.8,194.5 241.1,193.5 240.4,192.5 239.7,191.6 239.0,191.4 238.3,192.9 237.6,194.8 236.9,196.7 236.2,198.6 235.5,200.4 234.8,201.8 234.1,203.1 233.4,204.4 232.7,205.6 232.0,206.1 231.3,206.5 230.6,206.9 229.9,207.3 229.2,207.6 228.5,207.6 227.8,207.5 227.1,207.4 226.4,207.4 225.7,207.3 225.0,207.3 224.3,207.3 223.6,207.3 222.9,207.4 222.2,207.4 221.5,207.4 220.8,207.5 220.1,207.5 219.4,207.5 218.7,207.6 218.0,207.6 217.3,207.4 216.6,207.1 215.9,206.8 215.2,206.5 214.5,206.2 213.8,205.9 213.1,205.6 212.4,205.3 211.7,205.0 211.0,204.7 210.3,204.5 209.6,204.2 208.9,204.0 208.2,204.1 207.5,204.5 206.8,205.0 206.1,205.5 205.4,205.8 204.7,205.6 204.0,204.9 203.3,204.1 202.6,203.4 201.9,203.3 201.2,203.7 200.5,204.2 199.8,204.7 199.1,205.2 198.4,205.6 197.7,206.1 197.0,206.6 196.3,206.9 195.6,207.0 194.9,207.0 194.2,207.1 193.5,207.1 192.8,207.2 192.1,207.0 191.4,206.7 190.7,206.3 190.0,205.9 189.3,205.5 188.6,205.2 187.9,205.1 187.2,205.4 186.5,205.7 185.8,206.0 185.1,206.3 184.4,206.6 183.7,206.6 183.0,206.1 182.3,205.5 181.6,204.8 180.9,204.3 180.2,204.0 179.5,204.3 178.8,204.8 178.1,205.2 177.4,205.7 176.7,206.1 176.0,206.5 175.3,206.7 174.6,206.4 173.9,206.0 173.2,205.6 172.5,205.3 171.8,205.2 171.1,205.1 170.4,205.1 169.7,204.9 169.0,204.5 168.3,203.5 167.6,202.4 166.9,201.3 166.2,200.6 165.5,201.0 164.8,201.7 164.1,202.3 163.4,203.0 162.7,203.5 162.0,202.8 161.3,199.2 160.6,195.2 159.9,193.0 159.2,193.0 158.5,195.2 157.8,197.9 157.1,200.5 156.4,202.4 155.7,204.2 155.0,205.5 154.3,204.9 153.6,203.7 152.9,202.3 152.2,201.3 151.5,201.9 150.8,203.3 150.1,204.8 149.4,206.1 148.7,206.1 148.0,205.3 147.3,204.4 146.6,203.4 145.9,202.3 145.2,201.2 144.5,200.1 143.8,199.2 143.1,199.1 142.4,199.5 141.7,199.9 141.0,200.4 140.3,201.0 139.6,202.3 138.9,204.2 138.2,205.7 137.5,204.6 136.8,202.0 136.1,199.3 135.4,197.7 134.7,196.9 134.0,196.3 133.3,195.5 132.6,194.7 131.9,193.8 131.2,193.1 130.5,193.4 129.8,194.5 129.1,195.7 128.4,197.0 127.7,198.1 127.0,198.8 126.3,199.0 125.6,199.3 124.9,199.5 124.2,199.8 123.5,200.0 122.8,199.8 122.1,199.4 121.4,199.0 120.7,198.6 120.0,198.3 119.3,198.3 118.6,198.3 117.9,198.3 117.2,198.3 116.5,198.4 115.8,198.8 115.1,199.5 114.4,200.4 113.7,201.3 113.0,202.1 112.3,202.9 111.6,203.2 110.9,202.9 110.2,202.5 109.5,202.1 108.8,201.7 108.1,201.7 107.4,202.0 106.7,202.5 106.0,202.9 105.3,203.4 104.6,203.8 103.9,204.2 103.2,204.7 102.5,205.1 101.8,205.6 101.1,206.0 100.4,206.4 99.7,206.8 99.0,207.0 98.3,206.8 97.6,206.4 96.9,206.1 96.2,205.7 95.5,205.3 94.8,204.9 94.1,204.5 93.4,204.2 92.7,204.3 92.0,205.0 91.3,205.8 90.6,206.5 89.9,207.1 89.2,207.2 88.5,207.2 87.8,207.2 87.1,207.2 86.4,207.2 85.7,207.2 85.0,207.2 84.3,207.2 83.6,207.2 82.9,207.2 82.2,207.2 81.5,207.2 80.8,207.2 80.1,207.2 79.4,207.2 78.7,207.2 78.0,207.2 77.3,207.2 76.6,207.2 75.9,207.2 75.2,207.2 74.5,207.2 73.8,207.2 73.1,207.2 72.4,207.2 71.7,207.3 71.0,207.6 70.3,207.9 69.6,208.1 68.9,207.8 68.2,207.4 67.5,206.9 66.8,206.5 66.1,206.1 65.4,206.0 64.7,206.4 64.0,206.9 63.3,207.4 62.6,207.7 61.9,207.3 61.2,206.5 60.5,205.6 59.8,204.8 59.1,204.0 58.4,203.5 57.7,203.8 57.0,204.2 56.3,204.5 55.6,204.0 54.9,203.2 54.2,202.8 53.5,203.3 52.8,204.1 52.1,204.8 51.4,205.2 50.7,204.6 50.0,203.9 49.3,203.2 48.6,202.9 47.9,203.7 47.2,204.8 46.5,205.9 45.8,207.0 45.1,208.1 44.4,208.9 43.7,208.4 43.0,207.6 42.3,206.7 41.6,206.1 40.9,206.3 40.2,206.8 39.5,207.2 38.8,207.0 38.1,206.3 37.4,205.5 36.7,204.8 36.0,204.4 35.3,204.4 34.6,204.5 33.9,204.7 33.2,204.8" fill="#00ff00"/><polyline points="33.2,203.3 33.9,203.1 34.6,202.9 35.3,202.7 36.0,202.7 36.7,203.2 37.4,204.2 38.1,205.2 38.8,206.0 39.5,206.2 40.2,205.7 40.9,205.0 41.6,204.8 42.3,205.6 43.0,206.7 43.7,207.8 44.4,208.7 45.1,207.4 45.8,206.0 46.5,204.6 47.2,203.2 47.9,201.9 48.6,200.8 49.3,201.2 50.0,202.1 50.7,203.0 51.4,203.7 52.1,203.3 52.8,202.3 53.5,201.4 54.2,200.7 54.9,201.2 55.6,202.2 56.3,202.8 57.0,202.5 57.7,202.0 58.4,201.7 59.1,202.2 59.8,203.2 60.5,204.3 61.2,205.4 61.9,206.4 62.6,206.9 63.3,206.5 64.0,205.9 64.7,205.3 65.4,204.8 66.1,204.8 66.8,205.3 67.5,205.9 68.2,206.4 68.9,207.0 69.6,207.3 70.3,207.1 71.0,206.7 71.7,206.4 72.4,206.2 73.1,206.2 73.8,206.2 74.5,206.2 75.2,206.2 75.9,206.2 76.6,206.2 77.3,206.2 78.0,206.2 78.7,206.2 79.4,206.2 80.1,206.2 80.8,206.2 81.5,206.2 82.2,206.2 82.9,206.2 83.6,206.2 84.3,206.2 85.0,206.2 85.7,206.2 86.4,206.2 87.1,206.2 87.8,206.2 88.5,206.2 89.2,206.2 89.9,206.1 90.6,205.4 91.3,204.4 92.0,203.5 92.7,202.6 93.4,202.5 94.1,202.9 94.8,203.4 95.5,203.8 96.2,204.3 96.9,204.8 97.6,205.3 98.3,205.7 99.0,206.0 99.7,205.8 100.4,205.3 101.1,204.7 101.8,204.2 102.5,203.6 103.2,203.1 103.9,202.5 104.6,202.0 105.3,201.4 106.0,200.9 106.7,200.3 107.4,199.8 108.1,199.3 108.8,199.4 109.5,199.8 110.2,200.3 110.9,200.8 111.6,201.2 112.3,200.8 113.0,199.9 113.7,198.8 114.4,197.7 115.1,196.7 115.8,195.7 116.5,195.2 117.2,195.1 117.9,195.1 118.6,195.1 119.3,195.1 120.0,195.2 120.7,195.4 121.4,195.9 122.1,196.5 122.8,197.0 123.5,197.2 124.2,196.9 124.9,196.6 125.6,196.3 126.3,196.0 127.0,195.7 127.7,194.8 128.4,193.4 129.1,191.9 129.8,190.3 130.5,189.0 131.2,188.6 131.9,189.5 132.6,190.6 133.3,191.6 134.0,192.6 134.7,193.4 135.4,194.4 136.1,196.4 136.8,199.7 137.5,203.0 138.2,204.3 138.9,202.5 139.6,200.1 140.3,198.4 141.0,197.7 141.7,197.1 142.4,196.6 143.1,196.1 143.8,196.3 144.5,197.4 145.2,198.8 145.9,200.1 146.6,201.5 147.3,202.8 148.0,203.9 148.7,204.9 149.4,204.9 150.1,203.3 150.8,201.3 151.5,199.5 152.2,198.9 152.9,200.1 153.6,201.8 154.3,203.4 155.0,204.0 155.7,202.4 156.4,200.3 157.1,197.8 157.8,194.6 158.5,191.2 159.2,188.5 159.9,188.5 160.6,191.2 161.3,196.2 162.0,200.8 162.7,201.6 163.4,200.9 164.1,200.1 164.8,199.3 165.5,198.5 166.2,198.0 166.9,198.8 167.6,200.2 168.3,201.6 169.0,202.8 169.7,203.4 170.4,203.5 171.1,203.6 171.8,203.7 172.5,203.9 173.2,204.2 173.9,204.7 174.6,205.2 175.3,205.5 176.0,205.4 176.7,204.9 177.4,204.3 178.1,203.8 178.8,203.2 179.5,202.7 180.2,202.3 180.9,202.6 181.6,203.3 182.3,204.0 183.0,204.8 183.7,205.5 184.4,205.5 185.1,205.1 185.8,204.7 186.5,204.3 187.2,203.9 187.9,203.6 188.6,203.7 189.3,204.1 190.0,204.6 190.7,205.1 191.4,205.6 192.1,206.0 192.8,206.2 193.5,206.2 194.2,206.1 194.9,206.0 195.6,205.9 196.3,205.8 197.0,205.4 197.7,204.9 198.4,204.3 199.1,203.7 199.8,203.1 200.5,202.5 201.2,201.9 201.9,201.4 202.6,201.5 203.3,202.3 204.0,203.3 204.7,204.2 205.4,204.5 206.1,204.1 206.8,203.5 207.5,202.9 208.2,202.4 208.9,202.2 209.6,202.4 210.3,202.8 211.0,203.1 211.7,203.5 212.4,203.8 213.1,204.2 213.8,204.6 214.5,205.0 215.2,205.4 215.9,205.8 216.6,206.1 217.3,206.5 218.0,206.7 218.7,206.7 219.4,206.7 220.1,206.6 220.8,206.6 221.5,206.5 222.2,206.5 222.9,206.4 223.6,206.4 224.3,206.3 225.0,206.3 225.7,206.4 226.4,206.4 227.1,206.5 227.8,206.6 228.5,206.7 229.2,206.7 229.9,206.3 230.6,205.8 231.3,205.3 232.0,204.9 232.7,204.2 233.4,202.7 234.1,201.1 234.8,199.4 235.5,197.7 236.2,195.5 236.9,193.1 237.6,190.7 238.3,188.3 239.0,186.5 239.7,186.7 240.4,187.9 241.1,189.1 241.8,190.4 242.5,192.0 243.2,195.5 243.9,199.6 244.6,203.3 245.3,204.8 246.0,205.6 246.7,205.8 247.4,204.8 248.1,203.1 248.8,201.8 249.5,201.9 250.2,203.0 250.9,204.2 251.6,205.3 252.3,205.8 253.0,205.9 253.7,206.0 254.4,206.1 255.1,206.2 255.8,206.2 256.5,206.2 257.2,206.2 257.9,206.1 258.6,206.0 259.3,206.0 260.0,205.9 260.7,205.8 261.4,205.7 262.1,205.6 262.8,205.5 263.5,205.3 264.2,205.2 264.9,205.1 265.6,205.0 266.3,205.1 267.0,205.3 267.7,205.5 268.4,205.6 269.1,205.1 269.8,204.1 270.5,203.1 271.2,203.0 271.9,203.6 272.6,204.4 273.3,205.0 274.0,205.4 274.7,205.5 275.4,205.6 276.1,205.7 276.8,205.8 277.5,205.7 278.2,205.5 278.9,205.4 279.6,205.2 280.3,205.0 281.0,205.1 281.7,205.3 282.4,205.6 283.1,205.8 283.8,206.1 284.5,206.4 285.2,206.6 285.9,206.6 286.6,206.4 287.3,206.2 288.0,205.8 288.7,204.9 289.4,203.3 290.1,201.5 290.8,199.9 291.5,199.2 292.2,200.1 292.9,201.3 293.6,202.3 294.3,202.6 295.0,202.7 295.7,202.8 296.4,203.2 297.1,204.1 297.8,205.2 298.5,206.0 299.2,205.8 299.9,205.3 300.6,204.8 301.3,204.3 302.0,203.9 302.7,203.5 303.4,204.0 304.1,204.5 304.8,205.1 305.5,205.7 306.2,206.2 306.9,206.3 307.6,206.4 308.3,206.5 309.0,206.6 309.7,206.6 310.4,206.7 311.1,206.8 311.8,206.8 312.5,206.8 313.2,206.8 313.9,206.8 314.6,206.8 315.3,206.8 316.0,206.8 316.7,206.8 317.4,206.8 318.1,206.8 318.8,206.8 319.5,206.8 320.2,206.8 320.9,206.6 321.6,206.0 322.3,205.1 323.0,204.2 323.7,203.3 324.4,202.5 325.1,201.8 325.8,202.0 326.5,202.6 327.2,203.2 327.9,203.7 328.6,203.7 329.3,203.5 330.0,203.3 330.7,203.1 331.4,203.0 332.1,203.1 332.8,203.4 333.5,203.7 334.2,204.0 334.9,204.3 335.6,204.5 336.3,204.8 337.0,204.7 337.7,204.6 338.4,204.4 339.1,204.1 339.8,204.0 340.5,204.2 341.2,204.6 341.9,205.0 342.6,205.4 343.3,205.8 344.0,206.1 344.7,206.3 345.4,206.3 346.1,206.3 346.8,206.3 347.5,206.1 348.2,205.2 348.9,203.9 349.6,202.7 350.3,202.1 351.0,202.2 351.7,202.3 352.4,202.3 353.1,201.9 353.8,201.1 354.5,200.2 355.2,199.3 355.9,198.4 356.6,197.9 357.3,198.7 358.0,199.7 358.7,200.3 359.4,200.2 360.1,199.9 360.8,199.6 361.5,199.3 362.2,199.0 362.9,198.7 363.6,198.3 364.3,197.5 365.0,196.6 365.7,195.8 366.4,195.0 367.1,194.4 367.8,194.6 368.5,195.0 369.2,195.3 369.9,195.5 370.6,195.3 371.3,195.0 372.0,195.0 372.7,195.7 373.4,196.5 374.1,197.2 374.8,197.7 375.5,197.4 376.2,197.0 376.9,196.6 377.6,196.4 378.3,196.8 379.0,197.3 379.7,197.9 380.4,198.5 381.1,199.2 381.8,199.9 382.5,200.6 383.2,201.2 383.9,201.8 384.6,202.0 385.3,202.1 386.0,202.2 386.7,202.3 387.4,202.4 388.1,202.4 388.8,202.1 389.5,201.8 390.2,201.5 390.9,201.2 391.6,200.9 392.3,200.8 393.0,201.5 393.7,202.5 394.4,203.5 395.1,204.4 395.8,205.2 396.5,205.1 397.2,204.8 397.9,204.5 398.6,204.2 399.3,204.0 400.0,204.2 400.7,204.6 401.4,205.0 402.1,205.4 402.8,205.8 403.5,206.1 404.2,205.8 404.9,205.2 405.6,204.6 406.3,204.0 407.0,203.6 407.7,203.9 408.4,204.4 409.1,205.0 409.8,205.6 410.5,206.1 411.2,206.6 411.9,206.7 412.6,206.6 413.3,206.5 414.0,206.5 414.7,206.4 415.4,206.2 416.1,205.8 416.8,205.2 417.5,204.6 418.2,204.0 418.9,203.4 419.6,202.8 420.3,202.7 421.0,202.9 421.7,203.2 422.4,203.4 423.1,203.7 423.8,203.7 424.5,203.5 425.2,203.2 425.9,203.0 426.6,202.7 427.3,202.4 428.0,202.1 428.7,201.9 429.4,201.8 430.1,201.7 430.8,201.5 431.5,201.4 432.2,201.3 432.9,201.1 433.6,201.0 434.3,201.1 435.0,201.3 435.7,201.7 436.4,202.0 437.1,202.3 437.8,202.6 438.5,202.8 439.2,203.0 439.9,203.0 440.6,203.1 441.3,203.2 442.0,203.3 442.7,203.5 443.4,203.8 444.1,204.1 444.8,204.4 445.5,204.7 446.2,205.0 446.9,205.3 447.6,205.5 448.3,205.7 449.0,205.4 449.7,205.1 450.4,204.8 451.1,204.5 451.8,204.2 452.5,204.1 453.2,204.4 453.9,204.9 454.6,205.4 455.3,205.8 456.0,205.9 456.7,205.2 457.4,204.2 458.1,203.2 458.8,202.3 459.5,201.3 460.2,200.4 460.9,200.0 461.6,200.8 462.3,202.0 463.0,203.1 463.7,204.3 464.4,205.2 465.1,205.5 465.8,205.6 466.5,205.7 467.2,205.7 467.9,205.9 468.6,206.2 469.3,206.5 470.0,206.9 470.7,207.2 471.4,207.1 472.1,207.0 472.8,206.9 473.5,206.8 474.2,206.6 474.9,206.5 475.6,206.4 476.3,206.3 477.0,206.2 477.7,206.1 478.4,206.0 479.1,205.9 479.8,205.8 480.5,205.7 481.2,205.5 481.9,205.4 482.6,205.3 483.3,205.1 484.0,204.9 484.7,204.7 485.4,204.5 486.1,204.6 486.8,204.9 487.5,205.2 488.2,205.5 488.9,205.8 489.6,206.1 490.3,206.2 491.0,206.0 491.7,205.8 492.4,205.0 493.1,203.7 493.8,202.4 494.5,201.5 495.2,202.4 495.9,203.8 496.6,205.1 497.3,205.7 498.0,205.8 498.7,205.8 499.4,205.8 500.1,205.8 500.8,205.8 501.5,205.9 502.2,206.0 502.9,206.1 503.6,206.1 504.3,205.7 505.0,204.6 505.7,203.5 506.4,202.3 507.1,201.3 507.8,201.0 508.5,201.5 509.2,202.3 509.9,203.0 510.6,203.7 511.3,204.4 512.0,205.2 512.7,205.9 513.4,206.6 514.1,206.9 514.8,206.6 515.5,206.2 516.2,205.7 516.9,205.2 517.6,204.7 518.3,204.0 519.0,202.9 519.7,201.7 520.4,200.6 521.1,199.6 521.8,199.3 522.5,200.5 523.2,201.9 523.9,203.3 524.6,204.7 525.3,205.5 526.0,205.3 526.7,205.0 527.4,204.6 528.1,204.2 528.8,204.1 529.5,204.7 530.2,205.4 530.9,206.1 531.6,206.5 532.3,206.5 533.0,206.2 533.7,206.0 534.4,205.9 535.1,206.0 535.8,206.2 536.5,206.4 537.2,206.6 537.9,206.7 538.6,206.6 539.3,206.6 540.0,206.5 540.7,206.4 541.4,206.4 542.1,206.3" fill="none" stroke="#ff0000" stroke-width="1.3" stroke-linejoin="round" stroke-linecap="round" stroke-dasharray="2 2"/><polyline points="33.2,200.6 33.9,200.3 34.6,200.0 35.3,199.8 36.0,199.8 36.7,200.6 37.4,201.9 38.1,203.3 38.8,204.6 39.5,204.9 40.2,204.2 40.9,203.2 41.6,202.8 42.3,204.0 43.0,205.5 43.7,207.1 44.4,208.0 45.1,206.6 45.8,204.6 46.5,202.6 47.2,200.6 47.9,198.6 48.6,197.0 49.3,197.5 50.0,198.9 50.7,200.3 51.4,201.3 52.1,200.6 52.8,199.3 53.5,197.9 54.2,196.9 54.9,197.6 55.6,199.0 56.3,199.9 57.0,199.5 57.7,198.7 58.4,198.3 59.1,199.0 59.8,200.5 60.5,202.1 61.2,203.6 61.9,205.1 62.6,205.8 63.3,205.2 64.0,204.4 64.7,203.5 65.4,202.8 66.1,202.9 66.8,203.6 67.5,204.4 68.2,205.2 68.9,206.0 69.6,206.5 70.3,206.1 71.0,205.6 71.7,205.2 72.4,204.9 73.1,204.9 73.8,204.9 74.5,204.9 75.2,204.9 75.9,204.9 76.6,204.9 77.3,204.9 78.0,204.9 78.7,204.9 79.4,204.9 80.1,204.9 80.8,204.9 81.5,204.9 82.2,204.9 82.9,204.9 83.6,204.9 84.3,204.9 85.0,204.9 85.7,204.9 86.4,204.9 87.1,204.9 87.8,204.9 88.5,204.9 89.2,204.9 89.9,204.7 90.6,203.6 91.3,202.3 92.0,200.9 92.7,199.7 93.4,199.4 94.1,200.0 94.8,200.7 95.5,201.5 96.2,202.2 96.9,202.9 97.6,203.5 98.3,204.1 99.0,204.5 99.7,204.2 100.4,203.5 101.1,202.7 101.8,201.9 102.5,201.1 103.2,200.3 103.9,199.5 104.6,198.7 105.3,197.9 106.0,197.1 106.7,196.3 107.4,195.5 108.1,194.9 108.8,194.9 109.5,195.6 110.2,196.3 110.9,197.1 111.6,197.6 112.3,197.1 113.0,195.7 113.7,194.1 114.4,192.5 115.1,191.0 115.8,189.6 116.5,188.9 117.2,188.8 117.9,188.8 118.6,188.8 119.3,188.8 120.0,188.8 120.7,189.2 121.4,190.0 122.1,190.8 122.8,191.5 123.5,191.8 124.2,191.4 124.9,190.9 125.6,190.5 126.3,190.1 127.0,189.6 127.7,188.4 128.4,186.3 129.1,184.0 129.8,181.8 130.5,179.8 131.2,179.3 131.9,180.5 132.6,182.1 133.3,183.7 134.0,185.1 134.7,186.2 135.4,187.7 136.1,190.6 136.8,195.4 137.5,200.2 138.2,202.1 138.9,199.5 139.6,196.0 140.3,193.6 141.0,192.5 141.7,191.7 142.4,190.9 143.1,190.2 143.8,190.4 144.5,192.1 145.2,194.0 145.9,196.0 146.6,198.0 147.3,199.9 148.0,201.5 148.7,202.9 149.4,202.9 150.1,200.6 150.8,197.8 151.5,195.2 152.2,194.2 152.9,196.0 153.6,198.5 154.3,200.8 155.0,201.7 155.7,199.4 156.4,196.3 157.1,192.7 157.8,188.0 158.5,183.1 159.2,179.1 159.9,179.1 160.6,183.1 161.3,190.3 162.0,197.0 162.7,198.2 163.4,197.2 164.1,196.0 164.8,194.9 165.5,193.7 166.2,193.0 166.9,194.1 167.6,196.1 168.3,198.1 169.0,199.9 169.7,200.8 170.4,201.0 171.1,201.2 171.8,201.3 172.5,201.5 173.2,202.0 173.9,202.7 174.6,203.4 175.3,203.9 176.0,203.7 176.7,202.9 177.4,202.1 178.1,201.3 178.8,200.5 179.5,199.7 180.2,199.2 180.9,199.6 181.6,200.6 182.3,201.7 183.0,202.9 183.7,203.8 184.4,203.8 185.1,203.3 185.8,202.7 186.5,202.2 187.2,201.6 187.9,201.1 188.6,201.2 189.3,201.9 190.0,202.6 190.7,203.3 191.4,204.0 192.1,204.6 192.8,204.9 193.5,204.8 194.2,204.7 194.9,204.6 195.6,204.5 196.3,204.3 197.0,203.8 197.7,202.9 198.4,202.1 199.1,201.2 199.8,200.3 200.5,199.4 201.2,198.6 201.9,197.9 202.6,198.0 203.3,199.3 204.0,200.7 204.7,202.0 205.4,202.4 206.1,201.8 206.8,200.9 207.5,200.0 208.2,199.3 208.9,199.0 209.6,199.4 210.3,199.9 211.0,200.4 211.7,200.9 212.4,201.5 213.1,202.0 213.8,202.5 214.5,203.1 215.2,203.6 215.9,204.2 216.6,204.8 217.3,205.3 218.0,205.6 218.7,205.6 219.4,205.5 220.1,205.5 220.8,205.4 221.5,205.3 222.2,205.3 222.9,205.2 223.6,205.1 224.3,205.1 225.0,205.0 225.7,205.1 226.4,205.2 227.1,205.3 227.8,205.5 228.5,205.6 229.2,205.6 229.9,205.0 230.6,204.3 231.3,203.6 232.0,202.9 232.7,202.0 233.4,199.8 234.1,197.5 234.8,195.1 235.5,192.5 236.2,189.3 236.9,185.8 237.6,182.3 238.3,178.9 239.0,176.1 239.7,176.6 240.4,178.2 241.1,180.0 241.8,181.8 242.5,184.3 243.2,189.2 243.9,195.2 244.6,200.6 245.3,202.9 246.0,203.9 246.7,204.4 247.4,202.8 248.1,200.4 248.8,198.4 249.5,198.7 250.2,200.2 250.9,202.0 251.6,203.6 252.3,204.3 253.0,204.5 253.7,204.6 254.4,204.7 255.1,204.8 255.8,204.9 256.5,204.9 257.2,204.8 257.9,204.7 258.6,204.6 259.3,204.5 260.0,204.4 260.7,204.3 261.4,204.2 262.1,204.0 262.8,203.8 263.5,203.6 264.2,203.4 264.9,203.2 265.6,203.1 266.3,203.3 267.0,203.5 267.7,203.9 268.4,204.0 269.1,203.2 269.8,201.8 270.5,200.4 271.2,200.3 271.9,201.1 272.6,202.2 273.3,203.2 274.0,203.7 274.7,203.9 275.4,204.0 276.1,204.2 276.8,204.2 277.5,204.1 278.2,203.9 278.9,203.6 279.6,203.4 280.3,203.2 281.0,203.3 281.7,203.6 282.4,204.0 283.1,204.4 283.8,204.7 284.5,205.1 285.2,205.4 285.9,205.5 286.6,205.2 287.3,204.9 288.0,204.3 288.7,203.0 289.4,200.6 290.1,198.1 290.8,195.7 291.5,194.7 292.2,196.0 292.9,197.8 293.6,199.2 294.3,199.6 295.0,199.7 295.7,199.9 296.4,200.4 297.1,201.8 297.8,203.4 298.5,204.6 299.2,204.3 299.9,203.6 300.6,202.9 301.3,202.2 302.0,201.5 302.7,201.0 303.4,201.6 304.1,202.4 304.8,203.3 305.5,204.1 306.2,204.9 306.9,205.1 307.6,205.2 308.3,205.3 309.0,205.4 309.7,205.5 310.4,205.6 311.1,205.7 311.8,205.7 312.5,205.7 313.2,205.7 313.9,205.7 314.6,205.7 315.3,205.7 316.0,205.7 316.7,205.7 317.4,205.7 318.1,205.7 318.8,205.7 319.5,205.7 320.2,205.7 320.9,205.5 321.6,204.6 322.3,203.3 323.0,202.0 323.7,200.7 324.4,199.4 325.1,198.4 325.8,198.8 326.5,199.6 327.2,200.5 327.9,201.2 328.6,201.2 329.3,200.9 330.0,200.6 330.7,200.3 331.4,200.1 332.1,200.4 332.8,200.8 333.5,201.2 334.2,201.6 334.9,202.0 335.6,202.5 336.3,202.8 337.0,202.7 337.7,202.5 338.4,202.2 339.1,201.9 339.8,201.7 340.5,202.0 341.2,202.5 341.9,203.1 342.6,203.7 343.3,204.2 344.0,204.8 344.7,205.0 345.4,205.0 346.1,205.0 346.8,205.0 347.5,204.7 348.2,203.5 348.9,201.6 349.6,199.8 350.3,199.0 351.0,199.0 351.7,199.2 352.4,199.2 353.1,198.6 353.8,197.4 354.5,196.1 355.2,194.9 355.9,193.6 356.6,192.8 357.3,193.9 358.0,195.4 358.7,196.3 359.4,196.1 360.1,195.7 360.8,195.2 361.5,194.8 362.2,194.4 362.9,194.0 363.6,193.3 364.3,192.2 365.0,191.0 365.7,189.7 366.4,188.5 367.1,187.8 367.8,188.0 368.5,188.5 369.2,189.0 369.9,189.3 370.6,189.0 371.3,188.6 372.0,188.6 372.7,189.5 373.4,190.7 374.1,191.8 374.8,192.5 375.5,192.1 376.2,191.5 376.9,190.9 377.6,190.6 378.3,191.2 379.0,192.0 379.7,192.8 380.4,193.7 381.1,194.6 381.8,195.7 382.5,196.7 383.2,197.7 383.9,198.5 384.6,198.8 385.3,198.9 386.0,199.1 386.7,199.2 387.4,199.3 388.1,199.3 388.8,199.0 389.5,198.5 390.2,198.0 390.9,197.6 391.6,197.1 392.3,196.9 393.0,198.1 393.7,199.5 394.4,200.9 395.1,202.3 395.8,203.4 396.5,203.3 397.2,202.9 397.9,202.4 398.6,202.0 399.3,201.7 400.0,202.0 400.7,202.6 401.4,203.2 402.1,203.7 402.8,204.3 403.5,204.7 404.2,204.2 404.9,203.4 405.6,202.6 406.3,201.7 407.0,201.1 407.7,201.5 408.4,202.3 409.1,203.1 409.8,203.9 410.5,204.8 411.2,205.4 411.9,205.6 412.6,205.5 413.3,205.4 414.0,205.3 414.7,205.1 415.4,204.9 416.1,204.3 416.8,203.4 417.5,202.5 418.2,201.6 418.9,200.7 419.6,200.0 420.3,199.8 421.0,200.1 421.7,200.5 422.4,200.9 423.1,201.2 423.8,201.3 424.5,200.9 425.2,200.5 425.9,200.1 426.6,199.8 427.3,199.4 428.0,199.0 428.7,198.7 429.4,198.4 430.1,198.3 430.8,198.1 431.5,197.9 432.2,197.7 432.9,197.5 433.6,197.4 434.3,197.4 435.0,197.8 435.7,198.3 436.4,198.7 437.1,199.2 437.8,199.6 438.5,200.0 439.2,200.2 439.9,200.3 440.6,200.4 441.3,200.5 442.0,200.7 442.7,200.9 443.4,201.3 444.1,201.8 444.8,202.2 445.5,202.6 446.2,203.1 446.9,203.5 447.6,203.9 448.3,204.1 449.0,203.8 449.7,203.3 450.4,202.8 451.1,202.4 451.8,201.9 452.5,201.8 453.2,202.3 453.9,203.0 454.6,203.7 455.3,204.3 456.0,204.5 456.7,203.4 457.4,202.0 458.1,200.6 458.8,199.2 459.5,197.7 460.2,196.4 460.9,195.8 461.6,197.0 462.3,198.7 463.0,200.4 463.7,202.1 464.4,203.5 465.1,203.9 465.8,204.0 466.5,204.1 467.2,204.2 467.9,204.4 468.6,204.8 469.3,205.3 470.0,205.9 470.7,206.3 471.4,206.2 472.1,206.0 472.8,205.9 473.5,205.7 474.2,205.5 474.9,205.3 475.6,205.2 476.3,205.0 477.0,204.8 477.7,204.7 478.4,204.5 479.1,204.4 479.8,204.2 480.5,204.1 481.2,203.9 481.9,203.8 482.6,203.5 483.3,203.2 484.0,202.9 484.7,202.6 485.4,202.4 486.1,202.6 486.8,203.0 487.5,203.5 488.2,203.9 488.9,204.3 489.6,204.7 490.3,204.8 491.0,204.6 491.7,204.2 492.4,203.1 493.1,201.3 493.8,199.3 494.5,198.1 495.2,199.4 495.9,201.4 496.6,203.2 497.3,204.2 498.0,204.3 498.7,204.3 499.4,204.3 500.1,204.3 500.8,204.3 501.5,204.4 502.2,204.6 502.9,204.7 503.6,204.8 504.3,204.1 505.0,202.6 505.7,200.9 506.4,199.3 507.1,197.8 507.8,197.3 508.5,198.1 509.2,199.1 509.9,200.2 510.6,201.2 511.3,202.3 512.0,203.4 512.7,204.5 513.4,205.5 514.1,206.0 514.8,205.5 515.5,204.8 516.2,204.1 516.9,203.4 517.6,202.7 518.3,201.6 519.0,200.1 519.7,198.4 520.4,196.7 521.1,195.2 521.8,194.9 522.5,196.5 523.2,198.6 523.9,200.7 524.6,202.7 525.3,203.8 526.0,203.6 526.7,203.1 527.4,202.5 528.1,202.0 528.8,201.9 529.5,202.7 530.2,203.7 530.9,204.7 531.6,205.4 532.3,205.2 533.0,204.9 533.7,204.6 534.4,204.4 535.1,204.6 535.8,204.9 536.5,205.1 537.2,205.4 537.9,205.6 538.6,205.5 539.3,205.4 540.0,205.3 540.7,205.2 541.4,205.1 542.1,205.1" fill="none" stroke="#0000ff" stroke-width="2.2" stroke-linejoin="round" stroke-linecap="round"/><polyline points="33.5,215.2 35.1,216.2 36.8,215.2 38.4,216.0 40.1,214.7 41.7,216.2 43.4,214.9 45.0,216.4 46.7,214.8 48.3,216.0 50.0,215.4 51.6,216.2 53.3,215.3 54.9,215.8 56.6,214.7 58.2,216.3 59.9,215.1 61.5,215.9 63.2,214.8 64.8,216.3 66.5,215.3 68.1,216.6 69.8,214.7 71.4,216.6 73.1,214.8 74.7,216.3 76.4,215.2 78.0,216.4 79.7,215.3 81.3,216.3 83.0,215.4 84.6,215.8 86.3,214.9 87.9,216.1 89.6,214.9 91.2,216.5 92.9,214.8 94.5,216.3 96.2,214.8 97.8,216.4 99.5,214.7 101.1,216.6 102.8,215.4 104.4,216.0 106.1,215.1 107.7,216.0 109.4,215.3 111.0,216.5 112.7,215.4 114.3,216.0 116.0,214.8 117.6,216.0 119.3,215.2 120.9,216.6 122.6,214.8 124.2,216.2 125.9,215.3 127.5,216.0 129.2,214.7 130.8,216.5 132.5,215.4 134.1,216.4 135.8,215.1 137.4,216.4 139.1,215.2 140.7,215.9 142.4,215.4 144.0,216.1 145.7,214.8 147.3,216.6 149.0,214.9 150.6,216.4 152.3,215.3 153.9,216.1 155.6,214.7 157.2,216.6 158.9,215.1 160.5,216.5 162.2,214.7 163.8,216.6 165.5,215.2 167.1,216.4 168.8,215.1 170.4,216.2 172.1,215.1 173.7,216.0 175.4,215.4 177.0,216.5 178.7,214.9 180.3,216.5 182.0,215.3 183.6,216.0 185.3,215.0 186.9,216.6 188.6,215.1 190.2,216.0 191.9,215.0 193.5,216.6 195.2,214.8 196.8,216.6 198.5,215.1 200.1,216.0 201.8,214.8 203.4,216.5 205.1,214.8 206.7,216.1 208.4,215.2 210.0,216.0 211.7,214.8 213.3,216.6 215.0,215.1 216.6,216.5 218.3,215.1 219.9,216.2 221.6,215.0 223.2,216.0 224.9,215.2 226.5,216.0 228.2,215.2 229.8,216.2 231.5,215.3 233.1,216.5 234.8,215.3 236.4,216.2 238.1,214.9 239.7,215.9 241.4,215.1 243.0,216.3 244.7,215.0 246.3,216.6 248.0,214.8 249.6,215.9 251.3,214.8 252.9,216.3 254.6,214.9 256.2,215.9 257.9,215.1 259.5,216.4 261.2,214.8 262.8,216.5 264.5,215.2 266.1,216.5 267.8,215.0 269.4,216.4 271.1,214.8 272.7,216.2 274.4,214.7 276.0,216.6 277.7,214.8 279.3,216.1 281.0,215.0 282.6,216.0 284.3,214.8 285.9,216.6 287.6,215.3 289.2,216.4 290.9,214.9 292.5,215.8 294.2,214.7 295.8,216.2 297.5,215.2 299.1,215.8 300.8,214.8 302.4,216.1 304.1,215.0 305.7,216.0 307.4,215.0 309.0,216.1 310.7,214.8 312.3,216.4 314.0,214.9 315.6,216.0 317.3,215.4 318.9,216.5 320.6,214.7 322.2,216.4 323.9,214.7 325.5,216.4 327.2,215.0 328.8,216.2 330.5,215.1 332.1,216.2 333.8,215.2 335.4,216.2 337.1,215.0 338.7,215.8 340.4,215.1 342.0,216.0 343.7,214.9 345.3,216.5 347.0,215.0 348.6,216.4 350.3,215.0 351.9,216.0 353.6,215.1 355.2,216.5 356.9,214.7 358.5,216.0 360.2,215.4 361.8,216.6 363.5,214.8 365.1,216.3 366.8,214.8 368.4,216.3 370.1,214.7 371.7,216.0 373.4,215.1 375.0,216.4 376.7,215.3 378.3,216.4 380.0,215.2 381.6,216.4 383.3,214.8 384.9,216.2 386.6,214.7 388.2,216.3 389.9,214.8 391.5,215.8 393.2,215.3 394.8,216.4 396.5,214.7 398.1,216.3 399.8,214.7 401.4,215.9 403.1,214.7 404.7,216.5 406.4,214.9 408.0,216.2 409.7,214.9 411.3,216.0 413.0,214.9 414.6,216.4 416.3,215.0 417.9,216.0 419.6,215.4 421.2,216.0 422.9,214.8 424.5,216.0 426.2,215.4 427.8,216.0 429.5,215.0 431.1,216.3 432.8,214.8 434.4,216.5 436.1,214.7 437.7,216.6 439.4,215.1 441.0,215.9 442.7,214.7 444.3,216.0 446.0,214.9 447.6,216.0 449.3,214.8 450.9,216.0 452.6,215.1 454.2,216.0 455.9,214.8 457.5,216.3 459.2,214.9 460.8,216.1 462.5,215.3 464.1,216.5 465.8,214.8 467.4,216.4 469.1,214.7 470.7,216.3 472.4,215.3 474.0,216.3 475.7,215.2 477.3,216.2 479.0,215.1 480.6,216.3 482.3,214.7 483.9,216.5 485.6,215.1 487.2,216.5 488.9,214.8 490.5,216.5 492.2,215.0 493.8,216.6 495.5,215.0 497.1,215.9 498.8,215.2 500.4,216.4 502.1,215.1 503.7,216.2 505.4,215.1 507.0,216.0 508.7,215.3 510.3,215.9 512.0,214.9 513.6,216.1 515.3,215.1 516.9,216.6 518.6,214.9 520.2,216.5 521.9,214.8 523.5,216.6 525.2,215.4 526.8,216.1 528.5,214.7 530.1,216.2 531.8,214.7 533.4,216.0 535.1,215.4 536.7,216.6 538.4,215.1 540.0,216.2 541.7,214.7" fill="none" stroke="#0000ff" stroke-width="2.6" stroke-linejoin="round" stroke-linecap="round"/><path d="M129.7,215.6V217.2M133.0,215.6V217.6M136.3,215.6V219.6M137.9,215.6V214.3M139.6,215.6V220.4M141.2,215.6V214.2M142.9,215.6V220.5M144.5,215.6V214.5M146.2,215.6V221.7M147.8,215.6V213.6M149.5,215.6V222.2M151.1,215.6V213.8M152.8,215.6V220.7M154.4,215.6V213.5M156.1,215.6V222.1M157.7,215.6V213.5M159.4,215.6V224.3M161.0,215.6V212.9M162.7,215.6V219.7M164.3,215.6V213.4M166.0,215.6V219.4M167.6,215.6V214.0M169.3,215.6V220.7M170.9,215.6V214.4M172.6,215.6V218.8M238.6,215.6V216.9M357.4,215.6V218.1M359.0,215.6V213.7M360.7,215.6V219.4M362.3,215.6V212.3M364.0,215.6V220.1M365.6,215.6V212.0M367.3,215.6V218.0M368.9,215.6V211.9M370.6,215.6V218.9M372.2,215.6V212.3M373.9,215.6V219.0M375.5,215.6V212.1M377.2,215.6V219.8M378.8,215.6V212.4M380.5,215.6V218.2M382.1,215.6V212.1M383.8,215.6V219.9M385.4,215.6V211.9M387.1,215.6V218.2M388.7,215.6V212.1M390.4,215.6V219.7M392.0,215.6V212.7M393.7,215.6V218.2M395.3,215.6V212.8M397.0,215.6V219.4M398.6,215.6V212.5M400.3,215.6V219.2M401.9,215.6V212.3M403.6,215.6V217.5M405.2,215.6V212.8M406.9,215.6V219.1M408.5,215.6V213.7M410.2,215.6V217.3M411.8,215.6V213.6M413.5,215.6V218.7M415.1,215.6V212.8M416.8,215.6V218.3M418.4,215.6V213.3M420.1,215.6V217.4M421.7,215.6V214.2M423.4,215.6V216.5" stroke="#0000ff" stroke-width="2.1" stroke-linecap="round" fill="none"/></g><g clip-path="url(#c2)"><polygon points="32.6,314.5 33.9,314.5 33.9,316.2 35.9,316.2 35.9,316.6 37.9,316.6 37.9,317.2 39.9,317.2 39.9,316.5 41.9,316.5 41.9,316.3 43.9,316.3 43.9,315.9 45.9,315.9 45.9,315.5 47.9,315.5 47.9,314.7 49.9,314.7 49.9,316.0 51.9,316.0 51.9,315.4 53.9,315.4 53.9,314.6 55.9,314.6 55.9,317.1 57.9,317.1 57.9,319.3 59.9,319.3 59.9,321.1 61.9,321.1 61.9,321.6 63.9,321.6 63.9,321.9 65.9,321.9 65.9,322.1 67.9,322.1 67.9,322.8 69.9,322.8 69.9,322.2 71.9,322.2 71.9,322.2 73.9,322.2 73.9,322.3 75.9,322.3 75.9,320.6 77.9,320.6 77.9,320.8 79.9,320.8 79.9,320.1 81.9,320.1 81.9,320.7 83.9,320.7 83.9,321.8 85.9,321.8 85.9,321.8 87.9,321.8 87.9,319.3 89.9,319.3 89.9,317.0 91.9,317.0 91.9,318.2 93.9,318.2 93.9,317.0 95.9,317.0 95.9,316.8 97.9,316.8 97.9,317.2 99.9,317.2 99.9,315.7 101.9,315.7 101.9,314.1 103.9,314.1 103.9,310.8 105.9,310.8 105.9,310.5 107.9,310.5 107.9,308.3 109.9,308.3 109.9,308.2 111.9,308.2 111.9,307.1 113.9,307.1 113.9,299.1 115.9,299.1 115.9,302.1 117.9,302.1 117.9,304.5 119.9,304.5 119.9,305.3 121.9,305.3 121.9,308.8 123.9,308.8 123.9,305.8 125.9,305.8 125.9,303.8 127.9,303.8 127.9,303.3 129.9,303.3 129.9,308.0 131.9,308.0 131.9,314.9 133.9,314.9 133.9,322.2 135.9,322.2 135.9,325.6 137.9,325.6 137.9,317.3 139.9,317.3 139.9,315.6 141.9,315.6 141.9,314.0 143.9,314.0 143.9,315.5 145.9,315.5 145.9,319.4 147.9,319.4 147.9,319.9 149.9,319.9 149.9,317.0 151.9,317.0 151.9,315.1 153.9,315.1 153.9,314.6 155.9,314.6 155.9,310.8 157.9,310.8 157.9,302.9 159.9,302.9 159.9,306.8 161.9,306.8 161.9,312.9 163.9,312.9 163.9,316.6 165.9,316.6 165.9,317.1 167.9,317.1 167.9,317.7 169.9,317.7 169.9,318.7 171.9,318.7 171.9,315.6 173.9,315.6 173.9,314.8 175.9,314.8 175.9,316.7 177.9,316.7 177.9,315.2 179.9,315.2 179.9,317.4 181.9,317.4 181.9,318.6 183.9,318.6 183.9,319.9 185.9,319.9 185.9,320.5 187.9,320.5 187.9,320.7 189.9,320.7 189.9,321.3 191.9,321.3 191.9,321.2 193.9,321.2 193.9,320.8 195.9,320.8 195.9,319.4 197.9,319.4 197.9,317.6 199.9,317.6 199.9,317.3 201.9,317.3 201.9,318.9 203.9,318.9 203.9,318.8 205.9,318.8 205.9,318.7 207.9,318.7 207.9,318.4 209.9,318.4 209.9,318.7 211.9,318.7 211.9,317.3 213.9,317.3 213.9,318.2 215.9,318.2 215.9,319.9 217.9,319.9 217.9,319.6 219.9,319.6 219.9,321.0 221.9,321.0 221.9,321.8 223.9,321.8 223.9,321.8 225.9,321.8 225.9,321.9 227.9,321.9 227.9,322.9 229.9,322.9 229.9,322.6 231.9,322.6 231.9,318.9 233.9,318.9 233.9,315.6 235.9,315.6 235.9,304.1 237.9,304.1 237.9,295.4 239.9,295.4 239.9,294.8 241.9,294.8 241.9,307.7 243.9,307.7 243.9,318.3 245.9,318.3 245.9,322.6 247.9,322.6 247.9,322.2 249.9,322.2 249.9,322.2 251.9,322.2 251.9,322.3 253.9,322.3 253.9,322.2 255.9,322.2 255.9,319.3 257.9,319.3 257.9,321.2 259.9,321.2 259.9,321.8 261.9,321.8 261.9,321.6 263.9,321.6 263.9,321.3 265.9,321.3 265.9,321.1 267.9,321.1 267.9,320.3 269.9,320.3 269.9,319.2 271.9,319.2 271.9,320.1 273.9,320.1 273.9,320.1 275.9,320.1 275.9,319.9 277.9,319.9 277.9,319.7 279.9,319.7 279.9,319.4 281.9,319.4 281.9,319.2 283.9,319.2 283.9,319.0 285.9,319.0 285.9,318.6 287.9,318.6 287.9,315.1 289.9,315.1 289.9,314.1 291.9,314.1 291.9,315.7 293.9,315.7 293.9,318.7 295.9,318.7 295.9,319.7 297.9,319.7 297.9,320.3 299.9,320.3 299.9,317.0 301.9,317.0 301.9,319.9 303.9,319.9 303.9,319.4 305.9,319.4 305.9,321.7 307.9,321.7 307.9,322.2 309.9,322.2 309.9,320.5 311.9,320.5 311.9,320.8 313.9,320.8 313.9,322.5 315.9,322.5 315.9,322.2 317.9,322.2 317.9,323.6 319.9,323.6 319.9,320.5 321.9,320.5 321.9,318.5 323.9,318.5 323.9,317.9 325.9,317.9 325.9,319.6 327.9,319.6 327.9,320.1 329.9,320.1 329.9,318.1 331.9,318.1 331.9,318.4 333.9,318.4 333.9,320.2 335.9,320.2 335.9,320.9 337.9,320.9 337.9,321.7 339.9,321.7 339.9,322.9 341.9,322.9 341.9,323.4 343.9,323.4 343.9,323.7 345.9,323.7 345.9,322.3 347.9,322.3 347.9,320.0 349.9,320.0 349.9,318.3 351.9,318.3 351.9,317.6 353.9,317.6 353.9,315.9 355.9,315.9 355.9,313.9 357.9,313.9 357.9,310.8 359.9,310.8 359.9,303.5 361.9,303.5 361.9,302.4 363.9,302.4 363.9,302.1 365.9,302.1 365.9,296.0 367.9,296.0 367.9,298.7 369.9,298.7 369.9,292.3 371.9,292.3 371.9,295.9 373.9,295.9 373.9,300.3 375.9,300.3 375.9,299.6 377.9,299.6 377.9,303.2 379.9,303.2 379.9,304.2 381.9,304.2 381.9,312.2 383.9,312.2 383.9,311.4 385.9,311.4 385.9,311.3 387.9,311.3 387.9,313.0 389.9,313.0 389.9,311.5 391.9,311.5 391.9,312.0 393.9,312.0 393.9,316.4 395.9,316.4 395.9,317.8 397.9,317.8 397.9,316.6 399.9,316.6 399.9,316.7 401.9,316.7 401.9,318.3 403.9,318.3 403.9,317.8 405.9,317.8 405.9,316.7 407.9,316.7 407.9,317.7 409.9,317.7 409.9,317.8 411.9,317.8 411.9,314.7 413.9,314.7 413.9,314.6 415.9,314.6 415.9,313.9 417.9,313.9 417.9,317.1 419.9,317.1 419.9,312.2 421.9,312.2 421.9,313.5 423.9,313.5 423.9,315.1 425.9,315.1 425.9,318.1 427.9,318.1 427.9,318.6 429.9,318.6 429.9,316.2 431.9,316.2 431.9,318.8 433.9,318.8 433.9,318.7 435.9,318.7 435.9,318.4 437.9,318.4 437.9,320.1 439.9,320.1 439.9,318.6 441.9,318.6 441.9,319.8 443.9,319.8 443.9,318.2 445.9,318.2 445.9,318.9 447.9,318.9 447.9,319.1 449.9,319.1 449.9,320.1 451.9,320.1 451.9,319.6 453.9,319.6 453.9,318.1 455.9,318.1 455.9,315.7 457.9,315.7 457.9,315.6 459.9,315.6 459.9,314.8 461.9,314.8 461.9,318.1 463.9,318.1 463.9,318.7 465.9,318.7 465.9,318.7 467.9,318.7 467.9,319.6 469.9,319.6 469.9,320.4 471.9,320.4 471.9,319.2 473.9,319.2 473.9,320.5 475.9,320.5 475.9,320.2 477.9,320.2 477.9,319.7 479.9,319.7 479.9,320.3 481.9,320.3 481.9,318.5 483.9,318.5 483.9,316.5 485.9,316.5 485.9,316.8 487.9,316.8 487.9,315.0 489.9,315.0 489.9,314.6 491.9,314.6 491.9,314.8 493.9,314.8 493.9,315.1 495.9,315.1 495.9,320.1 497.9,320.1 497.9,321.7 499.9,321.7 499.9,322.4 501.9,322.4 501.9,322.4 503.9,322.4 503.9,322.4 505.9,322.4 505.9,320.9 507.9,320.9 507.9,317.4 509.9,317.4 509.9,318.1 511.9,318.1 511.9,318.7 513.9,318.7 513.9,318.0 515.9,318.0 515.9,317.4 517.9,317.4 517.9,316.8 519.9,316.8 519.9,315.2 521.9,315.2 521.9,310.1 523.9,310.1 523.9,316.2 525.9,316.2 525.9,319.2 527.9,319.2 527.9,321.2 529.9,321.2 529.9,321.7 531.9,321.7 531.9,321.2 533.9,321.2 533.9,321.8 535.9,321.8 535.9,321.5 537.9,321.5 537.9,321.5 539.9,321.5 539.9,321.4 541.9,321.4 541.9,321.7 543.9,321.7 543.9,324.8 542.9,324.8 541.9,324.8 540.9,324.8 539.9,324.8 538.9,324.8 537.9,324.8 536.9,324.7 535.9,324.7 534.9,324.7 533.9,324.7 532.9,324.7 531.9,324.7 530.9,324.7 529.9,324.7 528.9,324.7 527.9,324.6 526.9,324.5 525.9,323.3 524.9,322.1 523.9,320.9 522.9,319.9 521.9,320.8 520.9,321.8 519.9,322.8 518.9,323.8 517.9,324.6 516.9,324.6 515.9,324.7 514.9,324.7 513.9,324.7 512.9,324.7 511.9,324.7 510.9,324.7 509.9,324.7 508.9,324.7 507.9,324.8 506.9,324.8 505.9,324.8 504.9,324.8 503.9,324.8 502.9,324.8 501.9,324.8 500.9,324.8 499.9,324.8 498.9,324.2 497.9,323.6 496.9,323.0 495.9,322.3 494.9,321.9 493.9,322.4 492.9,323.0 491.9,323.6 490.9,324.1 489.9,324.6 488.9,324.6 487.9,324.6 486.9,324.6 485.9,324.6 484.9,324.6 483.9,324.6 482.9,324.6 481.9,324.6 480.9,324.6 479.9,324.6 478.9,324.6 477.9,324.6 476.9,324.6 475.9,324.6 474.9,324.6 473.9,324.6 472.9,324.6 471.9,324.6 470.9,324.6 469.9,324.6 468.9,324.6 467.9,324.6 466.9,324.6 465.9,324.6 464.9,324.5 463.9,323.4 462.9,322.3 461.9,321.1 460.9,320.0 459.9,320.5 458.9,321.3 457.9,322.2 456.9,323.0 455.9,323.9 454.9,324.6 453.9,324.6 452.9,324.6 451.9,324.6 450.9,324.5 449.9,324.5 448.9,324.5 447.9,324.5 446.9,324.4 445.9,324.4 444.9,324.4 443.9,324.3 442.9,324.3 441.9,324.3 440.9,324.3 439.9,324.2 438.9,324.2 437.9,324.2 436.9,324.2 435.9,324.1 434.9,324.1 433.9,324.1 432.9,324.1 431.9,324.0 430.9,324.0 429.9,324.0 428.9,324.0 427.9,323.9 426.9,323.9 425.9,323.9 424.9,323.9 423.9,323.8 422.9,324.0 421.9,324.1 420.9,324.2 419.9,324.3 418.9,324.5 417.9,324.6 416.9,324.7 415.9,324.9 414.9,325.0 413.9,325.1 412.9,325.2 411.9,325.3 410.9,325.4 409.9,325.5 408.9,325.6 407.9,325.7 406.9,325.8 405.9,325.8 404.9,325.7 403.9,325.6 402.9,325.5 401.9,325.3 400.9,325.2 399.9,325.1 398.9,325.0 397.9,324.8 396.9,324.0 395.9,323.3 394.9,322.6 393.9,321.9 392.9,321.2 391.9,320.4 390.9,319.8 389.9,319.6 388.9,319.4 387.9,319.3 386.9,319.1 385.9,318.9 384.9,318.7 383.9,318.2 382.9,317.7 381.9,317.2 380.9,316.7 379.9,316.2 378.9,315.7 377.9,315.0 376.9,314.3 375.9,313.6 374.9,313.0 373.9,312.3 372.9,311.6 371.9,311.2 370.9,310.8 369.9,310.4 368.9,309.9 367.9,309.9 366.9,310.7 365.9,311.4 364.9,312.2 363.9,313.0 362.9,313.8 361.9,314.9 360.9,315.9 359.9,317.0 358.9,318.0 357.9,318.8 356.9,319.6 355.9,320.4 354.9,321.3 353.9,322.1 352.9,322.9 351.9,323.7 350.9,324.6 349.9,325.4 348.9,326.3 347.9,327.1 346.9,327.9 345.9,327.7 344.9,327.5 343.9,327.4 342.9,327.2 341.9,327.0 340.9,326.8 339.9,326.6 338.9,326.4 337.9,326.2 336.9,326.0 335.9,325.8 334.9,325.6 333.9,325.4 332.9,325.2 331.9,325.0 330.9,324.8 329.9,324.7 328.9,324.5 327.9,324.3 326.9,324.2 325.9,324.0 324.9,323.9 323.9,324.4 322.9,325.2 321.9,326.1 320.9,326.9 319.9,327.7 318.9,328.6 317.9,328.8 316.9,328.7 315.9,328.6 314.9,328.5 313.9,328.3 312.9,328.2 311.9,328.1 310.9,328.0 309.9,327.9 308.9,327.6 307.9,327.3 306.9,327.1 305.9,326.8 304.9,326.6 303.9,326.3 302.9,326.1 301.9,325.8 300.9,325.6 299.9,325.3 298.9,325.1 297.9,324.8 296.9,324.3 295.9,323.8 294.9,323.3 293.9,322.8 292.9,322.3 291.9,321.8 290.9,321.2 289.9,320.8 288.9,320.9 287.9,321.0 286.9,321.2 285.9,321.3 284.9,321.4 283.9,321.5 282.9,321.6 281.9,321.7 280.9,321.9 279.9,322.0 278.9,322.1 277.9,322.2 276.9,322.3 275.9,322.5 274.9,322.6 273.9,322.7 272.9,322.8 271.9,322.9 270.9,323.0 269.9,323.2 268.9,323.3 267.9,323.4 266.9,323.5 265.9,323.6 264.9,323.7 263.9,323.9 262.9,324.0 261.9,324.1 260.9,324.2 259.9,324.3 258.9,324.5 257.9,324.6 256.9,324.7 255.9,324.8 254.9,324.9 253.9,325.0 252.9,325.2 251.9,325.3 250.9,325.4 249.9,325.5 248.9,325.6 247.9,325.7 246.9,325.6 245.9,323.2 244.9,320.7 243.9,318.1 242.9,313.1 241.9,308.1 240.9,303.8 239.9,306.4 238.9,309.0 237.9,311.6 236.9,314.2 235.9,316.8 234.9,319.0 233.9,321.3 232.9,323.6 231.9,325.7 230.9,325.7 229.9,325.7 228.9,325.7 227.9,325.8 226.9,325.8 225.9,325.8 224.9,325.8 223.9,325.6 222.9,325.3 221.9,325.1 220.9,324.8 219.9,324.6 218.9,324.3 217.9,324.1 216.9,323.8 215.9,323.7 214.9,323.6 213.9,323.4 212.9,323.3 211.9,323.2 210.9,323.1 209.9,323.0 208.9,322.8 207.9,322.6 206.9,322.3 205.9,322.1 204.9,321.8 203.9,321.6 202.9,321.3 201.9,321.1 200.9,320.8 199.9,321.1 198.9,321.5 197.9,322.0 196.9,322.4 195.9,322.8 194.9,323.2 193.9,323.6 192.9,324.0 191.9,324.4 190.9,324.9 189.9,325.3 188.9,325.7 187.9,325.6 186.9,325.3 185.9,324.9 184.9,324.5 183.9,324.1 182.9,323.8 181.9,323.4 180.9,323.0 179.9,322.8 178.9,322.6 177.9,322.5 176.9,322.4 175.9,322.3 174.9,322.1 173.9,322.0 172.9,321.9 171.9,321.7 170.9,321.2 169.9,320.7 168.9,320.2 167.9,319.7 166.9,319.5 165.9,319.2 164.9,319.0 163.9,318.5 162.9,315.4 161.9,312.3 160.9,309.2 159.9,306.2 158.9,305.4 157.9,309.3 156.9,313.2 155.9,316.8 154.9,317.0 153.9,317.3 152.9,317.5 151.9,317.9 150.9,319.4 149.9,320.9 148.9,322.3 147.9,323.8 146.9,321.9 145.9,319.9 144.9,317.9 143.9,315.9 142.9,316.5 141.9,317.3 140.9,318.1 139.9,318.9 138.9,319.7 137.9,323.7 136.9,328.0 135.9,327.0 134.9,324.6 133.9,322.3 132.9,319.9 131.9,317.6 130.9,315.3 129.9,313.0 128.9,310.6 127.9,308.3 126.9,308.8 125.9,310.4 124.9,312.1 123.9,313.8 122.9,315.4 121.9,317.1 120.9,317.6 119.9,317.2 118.9,316.9 117.9,316.6 116.9,316.2 115.9,315.9 114.9,315.8 113.9,315.9 112.9,316.0 111.9,316.1 110.9,316.2 109.9,316.3 108.9,316.4 107.9,316.5 106.9,316.6 105.9,316.7 104.9,316.9 103.9,317.4 102.9,317.9 101.9,318.4 100.9,318.9 99.9,319.4 98.9,319.9 97.9,320.4 96.9,320.9 95.9,321.4 94.9,321.9 93.9,322.6 92.9,323.4 91.9,324.2 90.9,325.0 89.9,325.7 88.9,325.7 87.9,325.8 86.9,325.8 85.9,325.9 84.9,325.9 83.9,326.0 82.9,326.0 81.9,326.1 80.9,326.1 79.9,326.2 78.9,326.2 77.9,326.3 76.9,326.3 75.9,326.4 74.9,326.4 73.9,326.5 72.9,326.5 71.9,326.6 70.9,326.6 69.9,326.6 68.9,326.4 67.9,326.2 66.9,326.0 65.9,325.8 64.9,325.6 63.9,325.4 62.9,325.2 61.9,325.0 60.9,324.8 59.9,324.6 58.9,324.5 57.9,324.3 56.9,324.1 55.9,324.0 54.9,323.8 53.9,323.6 52.9,323.5 51.9,323.3 50.9,323.2 49.9,323.0 48.9,322.8 47.9,322.7 46.9,322.5 45.9,322.4 44.9,322.2 43.9,322.2 42.9,322.1 41.9,322.1 40.9,322.0 39.9,322.0 38.9,321.9 37.9,321.9 36.9,321.8 35.9,321.8 34.9,321.7 33.9,321.7 32.9,321.6" fill="#0000ff" stroke="#0000ff" stroke-width="0.8" stroke-linejoin="miter"/><polyline points="33.1,313.6 34.7,324.3 36.3,316.5 37.9,324.0 39.5,316.6 41.1,323.4 42.7,316.2 44.3,321.4 45.9,316.1 47.5,324.3 49.1,314.9 50.7,323.4 52.3,315.3 53.9,322.9 55.5,315.9 57.1,324.3 58.7,318.9 60.3,324.0 61.9,320.6 63.5,324.1 65.1,321.3 66.7,323.7 68.3,322.0 69.9,324.3 71.5,322.6 73.1,324.2 74.7,321.8 76.3,324.3 77.9,321.0 79.5,323.5 81.1,319.7 82.7,324.1 84.3,320.2 85.9,324.0 87.5,320.4 89.1,323.1 90.7,316.4 92.3,323.2 93.9,316.4 95.5,324.0 97.1,316.5 98.7,321.4 100.3,315.9 101.9,324.0 103.5,311.3 105.1,322.2 106.7,307.0 108.3,324.2 109.9,306.7 111.5,320.6 113.1,302.8 114.7,322.4 116.3,299.1 117.9,324.3 119.5,302.7 121.1,321.8 122.7,306.1 124.3,317.0 125.9,302.1 127.5,317.4 129.1,303.7 130.7,318.6 132.3,312.3 133.9,329.5 135.5,316.0 137.1,336.5 138.7,308.0 140.3,325.7 141.9,303.5 143.5,332.6 145.1,302.3 146.7,337.8 148.3,302.5 149.9,342.6 151.5,297.7 153.1,329.7 154.7,303.4 156.3,333.1 157.9,278.2 159.5,334.9 161.1,298.2 162.7,338.0 164.3,304.4 165.9,338.3 167.5,303.7 169.1,331.5 170.7,311.3 172.3,325.5 173.9,314.4 175.5,324.3 177.1,313.4 178.7,326.2 180.3,316.2 181.9,326.3 183.5,318.7 185.1,325.7 186.7,319.9 188.3,326.3 189.9,320.9 191.5,324.9 193.1,321.2 194.7,324.4 196.3,320.1 197.9,326.3 199.5,315.5 201.1,323.9 202.7,319.1 204.3,324.7 205.9,318.7 207.5,324.7 209.1,318.0 210.7,323.9 212.3,317.4 213.9,326.3 215.5,318.0 217.1,325.3 218.7,319.8 220.3,325.4 221.9,320.1 223.5,324.3 225.1,321.3 226.7,326.2 228.3,322.5 229.9,326.1 231.5,321.4 233.1,324.7 234.7,315.4 236.3,319.0 237.9,297.9 239.5,315.8 241.1,296.9 242.7,325.7 244.3,319.8 245.9,325.2 247.5,322.2 249.1,326.3 250.7,322.3 252.3,326.3 253.9,322.2 255.5,325.9 257.1,319.6 258.7,325.5 260.3,321.9 261.9,324.1 263.5,323.1 265.1,325.0 266.7,323.1 268.3,324.8 269.9,318.6 271.5,324.1 273.1,319.8 274.7,326.2 276.3,320.1 277.9,323.6 279.5,320.1 281.1,326.3 282.7,320.1 284.3,323.1 285.9,320.1 287.5,326.3 289.1,314.6 290.7,322.4 292.3,314.0 293.9,324.5 295.5,318.7 297.1,325.8 298.7,318.3 300.3,325.7 301.9,316.0 303.5,326.1 305.1,318.6 306.7,325.7 308.3,319.9 309.9,326.2 311.5,320.8 313.1,326.1 314.7,320.7 316.3,326.0 317.9,323.1 319.5,326.3 321.1,320.3 322.7,325.4 324.3,316.6 325.9,323.1 327.5,317.8 329.1,325.6 330.7,318.9 332.3,326.3 333.9,318.8 335.5,324.5 337.1,320.6 338.7,326.3 340.3,321.9 341.9,325.6 343.5,323.0 345.1,326.3 346.7,321.0 348.3,326.0 349.9,317.2 351.5,326.3 353.1,314.8 354.7,325.4 356.3,310.2 357.9,321.3 359.5,305.7 361.1,319.8 362.7,301.6 364.3,322.3 365.9,295.0 367.5,321.1 369.1,294.7 370.7,325.5 372.3,297.3 373.9,325.9 375.5,299.0 377.1,321.1 378.7,301.0 380.3,325.2 381.9,308.5 383.5,326.0 385.1,310.7 386.7,321.6 388.3,310.0 389.9,325.7 391.5,311.2 393.1,325.8 394.7,317.3 396.3,324.0 397.9,317.5 399.5,326.2 401.1,316.2 402.7,328.7 404.3,317.6 405.9,332.3 407.5,315.9 409.1,332.2 410.7,315.3 412.3,331.5 413.9,314.8 415.5,329.9 417.1,312.5 418.7,326.8 420.3,312.1 421.9,326.0 423.5,312.8 425.1,323.1 426.7,316.3 428.3,326.2 429.9,316.8 431.5,323.1 433.1,317.2 434.7,325.0 436.3,318.3 437.9,325.8 439.5,318.2 441.1,324.4 442.7,318.9 444.3,325.6 445.9,319.0 447.5,325.1 449.1,318.7 450.7,326.1 452.3,317.5 453.9,326.2 455.5,317.7 457.1,323.9 458.7,316.0 460.3,323.0 461.9,315.6 463.5,325.6 465.1,317.8 466.7,326.2 468.3,319.2 469.9,326.3 471.5,320.0 473.1,324.3 474.7,319.1 476.3,324.8 477.9,319.8 479.5,326.3 481.1,319.4 482.7,325.8 484.3,317.3 485.9,323.8 487.5,316.4 489.1,326.2 490.7,315.1 492.3,326.8 493.9,312.3 495.5,326.2 497.1,321.1 498.7,326.2 500.3,322.5 501.9,325.4 503.5,322.6 505.1,325.9 506.7,321.0 508.3,324.4 509.9,316.7 511.5,325.0 513.1,317.0 514.7,324.0 516.3,316.7 517.9,330.1 519.5,316.6 521.1,324.8 522.7,310.8 524.3,325.9 525.9,317.7 527.5,325.3 529.1,321.4 530.7,325.8 532.3,321.1 533.9,326.3 535.5,321.3 537.1,325.9 538.7,321.2 540.3,326.1 541.9,321.2 543.5,325.8" fill="none" stroke="#0000ff" stroke-width="2.2" stroke-linejoin="round" stroke-linecap="round"/><polygon points="32.8,327.6 33.8,327.6 34.8,327.7 35.8,327.7 36.8,327.5 37.8,327.6 38.8,327.6 39.8,327.5 40.8,327.4 41.8,327.7 42.8,327.5 43.8,327.6 44.8,327.6 45.8,327.6 46.8,327.7 47.8,327.6 48.8,327.7 49.8,327.8 50.8,327.7 51.8,327.8 52.8,327.9 53.8,327.9 54.8,327.8 55.8,328.0 56.8,328.1 57.8,328.2 58.8,328.1 59.8,328.2 60.8,328.2 61.8,328.2 62.8,328.5 63.8,328.3 64.8,328.3 65.8,328.4 66.8,328.5 67.8,328.4 68.8,328.6 69.8,328.7 70.8,328.7 71.8,328.6 72.8,328.5 73.8,328.4 74.8,328.5 75.8,328.6 76.8,328.5 77.8,328.5 78.8,328.4 79.8,328.5 80.8,328.3 81.8,328.3 82.8,328.3 83.8,328.3 84.8,328.3 85.8,328.4 86.8,328.3 87.8,328.1 88.8,328.1 89.8,328.1 90.8,327.9 91.8,327.8 92.8,327.4 93.8,327.3 94.8,327.1 95.8,326.8 96.8,326.7 97.8,326.6 98.8,326.4 99.8,326.0 100.8,325.9 101.8,325.7 102.8,325.5 103.8,325.1 104.8,325.1 105.8,325.0 106.8,324.7 107.8,324.6 108.8,324.5 109.8,324.6 110.8,324.4 111.8,324.2 112.8,324.2 113.8,323.9 114.8,324.1 115.8,323.8 116.8,323.9 117.8,323.7 118.8,323.8 119.8,323.7 120.8,323.7 121.8,323.5 122.8,323.0 123.8,322.4 124.8,321.9 125.8,321.1 126.8,320.7 127.8,320.8 128.8,321.5 129.8,322.3 130.8,323.2 131.8,323.9 132.8,325.1 133.8,326.9 134.8,329.1 135.8,331.3 136.8,331.9 137.8,330.1 138.8,327.3 139.8,325.4 140.8,324.3 141.8,323.6 142.8,322.9 143.8,322.9 144.8,323.3 145.8,323.9 146.8,324.6 147.8,325.1 148.8,325.1 149.8,324.8 150.8,324.9 151.8,324.6 152.8,324.6 153.8,324.7 154.8,324.8 155.8,324.7 156.8,324.1 157.8,323.4 158.8,322.8 159.8,322.9 160.8,323.6 161.8,324.6 162.8,325.5 163.8,326.4 164.8,326.9 165.8,327.1 166.8,327.2 167.8,327.3 168.8,327.4 169.8,327.5 170.8,327.7 171.8,327.8 172.8,327.8 173.8,327.8 174.8,328.0 175.8,327.8 176.8,327.9 177.8,328.0 178.8,327.9 179.8,328.0 180.8,328.1 181.8,328.0 182.8,328.4 183.8,328.4 184.8,328.4 185.8,328.7 186.8,328.7 187.8,328.7 188.8,328.6 189.8,328.8 190.8,328.6 191.8,328.4 192.8,328.3 193.8,328.3 194.8,328.1 195.8,328.0 196.8,327.9 197.8,327.7 198.8,327.6 199.8,327.5 200.8,327.5 201.8,327.6 202.8,327.6 203.8,327.6 204.8,327.8 205.8,327.8 206.8,327.9 207.8,327.8 208.8,327.8 209.8,328.0 210.8,328.0 211.8,328.1 212.8,328.0 213.8,328.1 214.8,328.2 215.8,328.2 216.8,328.2 217.8,328.4 218.8,328.3 219.8,328.5 220.8,328.4 221.8,328.5 222.8,328.5 223.8,328.7 224.8,328.6 225.8,328.8 226.8,328.7 227.8,328.8 228.8,328.7 229.8,328.7 230.8,328.6 231.8,328.7 232.8,328.1 233.8,327.7 234.8,326.8 235.8,325.9 236.8,323.6 237.8,321.1 238.8,319.3 239.8,318.7 240.8,318.3 241.8,319.0 242.8,320.8 243.8,323.5 244.8,326.1 245.8,327.8 246.8,328.4 247.8,328.7 248.8,328.7 249.8,328.7 250.8,328.6 251.8,328.4 252.8,328.5 253.8,328.5 254.8,328.5 255.8,328.5 256.8,328.2 257.8,328.4 258.8,328.4 259.8,328.3 260.8,328.2 261.8,328.0 262.8,328.3 263.8,328.1 264.8,328.0 265.8,328.1 266.8,328.0 267.8,327.9 268.8,327.8 269.8,327.9 270.8,328.0 271.8,327.7 272.8,327.6 273.8,327.7 274.8,327.9 275.8,327.5 276.8,327.6 277.8,327.5 278.8,327.5 279.8,327.5 280.8,327.5 281.8,327.3 282.8,327.2 283.8,327.5 284.8,327.4 285.8,327.1 286.8,327.2 287.8,327.3 288.8,327.1 289.8,327.1 290.8,327.2 291.8,327.4 292.8,327.5 293.8,327.6 294.8,327.7 295.8,327.9 296.8,328.0 297.8,328.1 298.8,328.1 299.8,328.2 300.8,328.3 301.8,328.3 302.8,328.4 303.8,328.4 304.8,328.5 305.8,328.5 306.8,328.6 307.8,328.7 308.8,328.8 309.8,328.8 310.8,328.8 311.8,328.9 312.8,329.1 313.8,329.1 314.8,329.0 315.8,329.0 316.8,329.0 317.8,329.2 318.8,328.9 319.8,328.8 320.8,328.5 321.8,328.3 322.8,328.2 323.8,327.9 324.8,327.9 325.8,327.8 326.8,327.9 327.8,327.8 328.8,327.8 329.8,327.8 330.8,327.9 331.8,328.0 332.8,328.0 333.8,328.1 334.8,328.1 335.8,328.1 336.8,328.3 337.8,328.2 338.8,328.3 339.8,328.4 340.8,328.3 341.8,328.3 342.8,328.5 343.8,328.5 344.8,328.7 345.8,328.6 346.8,328.6 347.8,328.6 348.8,328.2 349.8,327.9 350.8,327.8 351.8,327.5 352.8,327.4 353.8,327.0 354.8,326.9 355.8,326.6 356.8,326.2 357.8,326.1 358.8,325.9 359.8,325.6 360.8,325.4 361.8,325.0 362.8,324.6 363.8,324.4 364.8,324.0 365.8,323.7 366.8,323.4 367.8,323.4 368.8,323.3 369.8,323.4 370.8,323.3 371.8,323.5 372.8,323.6 373.8,324.0 374.8,324.2 375.8,324.3 376.8,324.5 377.8,324.8 378.8,325.0 379.8,325.1 380.8,325.3 381.8,325.6 382.8,325.9 383.8,325.9 384.8,326.0 385.8,326.2 386.8,326.3 387.8,326.4 388.8,326.4 389.8,326.6 390.8,326.7 391.8,327.0 392.8,327.2 393.8,327.4 394.8,327.8 395.8,328.0 396.8,328.2 397.8,328.3 398.8,328.5 399.8,328.5 400.8,328.7 401.8,328.8 402.8,328.9 403.8,328.9 404.8,328.7 405.8,328.8 406.8,328.8 407.8,328.8 408.8,328.8 409.8,328.8 410.8,328.7 411.8,328.6 412.8,328.6 413.8,328.6 414.8,328.6 415.8,328.6 416.8,328.6 417.8,328.6 418.8,328.4 419.8,328.6 420.8,328.4 421.8,328.2 422.8,328.4 423.8,328.4 424.8,328.3 425.8,328.2 426.8,328.3 427.8,328.2 428.8,328.3 429.8,328.3 430.8,328.1 431.8,328.3 432.8,328.4 433.8,328.4 434.8,328.3 435.8,328.3 436.8,328.3 437.8,328.3 438.8,328.5 439.8,328.3 440.8,328.4 441.8,328.4 442.8,328.5 443.8,328.4 444.8,328.4 445.8,328.4 446.8,328.5 447.8,328.4 448.8,328.4 449.8,328.5 450.8,328.4 451.8,328.5 452.8,328.3 453.8,328.6 454.8,328.4 455.8,328.4 456.8,328.0 457.8,327.7 458.8,327.6 459.8,327.3 460.8,327.3 461.8,327.3 462.8,327.7 463.8,328.0 464.8,328.4 465.8,328.5 466.8,328.3 467.8,328.5 468.8,328.5 469.8,328.4 470.8,328.5 471.8,328.4 472.8,328.4 473.8,328.4 474.8,328.5 475.8,328.4 476.8,328.5 477.8,328.4 478.8,328.4 479.8,328.4 480.8,328.4 481.8,328.4 482.8,328.7 483.8,328.4 484.8,328.5 485.8,328.5 486.8,328.5 487.8,328.6 488.8,328.5 489.8,328.4 490.8,328.2 491.8,328.3 492.8,328.1 493.8,327.8 494.8,327.9 495.8,327.7 496.8,328.0 497.8,328.3 498.8,328.3 499.8,328.3 500.8,328.6 501.8,328.4 502.8,328.6 503.8,328.4 504.8,328.6 505.8,328.7 506.8,328.5 507.8,328.5 508.8,328.4 509.8,328.4 510.8,328.5 511.8,328.5 512.8,328.6 513.8,328.5 514.8,328.6 515.8,328.5 516.8,328.7 517.8,328.4 518.8,328.3 519.8,327.8 520.8,327.7 521.8,327.6 522.8,327.4 523.8,327.6 524.8,327.9 525.8,328.3 526.8,328.3 527.8,328.5 528.8,328.6 529.8,328.6 530.8,328.5 531.8,328.5 532.8,328.5 533.8,328.6 534.8,328.6 535.8,328.6 536.8,328.5 537.8,328.7 538.8,328.7 539.8,328.5 540.8,328.7 541.8,328.5 542.8,328.6 543.8,328.5 544.8,328.5 544.8,330.9 543.8,330.9 542.8,330.9 541.8,330.9 540.8,330.9 539.8,330.9 538.8,330.9 537.8,330.9 536.8,330.9 535.8,330.9 534.8,330.9 533.8,330.9 532.8,330.9 531.8,330.9 530.8,330.9 529.8,330.9 528.8,330.9 527.8,330.9 526.8,330.9 525.8,330.9 524.8,330.9 523.8,330.9 522.8,330.9 521.8,330.9 520.8,330.9 519.8,330.9 518.8,330.9 517.8,330.9 516.8,330.9 515.8,330.8 514.8,330.8 513.8,330.8 512.8,330.8 511.8,330.8 510.8,330.8 509.8,330.8 508.8,330.8 507.8,330.8 506.8,330.8 505.8,330.8 504.8,330.8 503.8,330.8 502.8,330.8 501.8,330.8 500.8,330.8 499.8,330.8 498.8,330.8 497.8,330.8 496.8,330.8 495.8,330.8 494.8,330.8 493.8,330.8 492.8,330.8 491.8,330.8 490.8,330.8 489.8,330.8 488.8,330.8 487.8,330.8 486.8,330.8 485.8,330.8 484.8,330.8 483.8,330.8 482.8,330.8 481.8,330.8 480.8,330.8 479.8,330.8 478.8,330.8 477.8,330.8 476.8,330.8 475.8,330.8 474.8,330.8 473.8,330.8 472.8,330.8 471.8,330.8 470.8,330.7 469.8,330.7 468.8,330.7 467.8,330.7 466.8,330.7 465.8,330.7 464.8,330.7 463.8,330.7 462.8,330.7 461.8,330.7 460.8,330.7 459.8,330.7 458.8,330.7 457.8,330.7 456.8,330.7 455.8,330.7 454.8,330.7 453.8,330.7 452.8,330.7 451.8,330.7 450.8,330.7 449.8,330.7 448.8,330.7 447.8,330.7 446.8,330.7 445.8,330.7 444.8,330.8 443.8,330.8 442.8,330.8 441.8,330.8 440.8,330.8 439.8,330.8 438.8,330.8 437.8,330.8 436.8,330.8 435.8,330.8 434.8,330.8 433.8,330.8 432.8,330.8 431.8,330.8 430.8,330.8 429.8,330.8 428.8,330.8 427.8,330.8 426.8,330.8 425.8,330.8 424.8,330.8 423.8,330.8 422.8,330.8 421.8,330.8 420.8,330.8 419.8,330.8 418.8,330.8 417.8,330.8 416.8,330.9 415.8,330.9 414.8,330.9 413.8,330.9 412.8,330.9 411.8,330.9 410.8,330.9 409.8,330.9 408.8,330.9 407.8,330.9 406.8,330.9 405.8,330.9 404.8,330.9 403.8,330.9 402.8,330.9 401.8,330.9 400.8,330.9 399.8,330.9 398.8,330.8 397.8,330.7 396.8,330.7 395.8,330.6 394.8,330.5 393.8,330.4 392.8,330.3 391.8,330.3 390.8,330.2 389.8,330.1 388.8,330.0 387.8,329.9 386.8,329.8 385.8,329.8 384.8,329.7 383.8,329.6 382.8,329.6 381.8,329.5 380.8,329.5 379.8,329.4 378.8,329.4 377.8,329.3 376.8,329.3 375.8,329.2 374.8,329.1 373.8,329.1 372.8,329.0 371.8,329.0 370.8,328.9 369.8,328.9 368.8,329.0 367.8,329.1 366.8,329.1 365.8,329.2 364.8,329.3 363.8,329.4 362.8,329.5 361.8,329.6 360.8,329.6 359.8,329.7 358.8,329.7 357.8,329.7 356.8,329.7 355.8,329.7 354.8,329.7 353.8,329.8 352.8,329.8 351.8,329.8 350.8,329.8 349.8,329.8 348.8,329.8 347.8,329.8 346.8,329.8 345.8,329.8 344.8,329.8 343.8,329.8 342.8,329.9 341.8,329.9 340.8,329.9 339.8,329.9 338.8,329.9 337.8,329.9 336.8,329.9 335.8,329.9 334.8,329.9 333.8,329.9 332.8,329.9 331.8,329.9 330.8,330.0 329.8,330.0 328.8,330.0 327.8,330.0 326.8,330.0 325.8,330.0 324.8,330.0 323.8,330.0 322.8,330.0 321.8,330.0 320.8,330.0 319.8,330.1 318.8,330.1 317.8,330.1 316.8,330.1 315.8,330.1 314.8,330.1 313.8,330.1 312.8,330.1 311.8,330.1 310.8,330.1 309.8,330.1 308.8,330.2 307.8,330.2 306.8,330.2 305.8,330.2 304.8,330.2 303.8,330.2 302.8,330.2 301.8,330.2 300.8,330.2 299.8,330.2 298.8,330.2 297.8,330.2 296.8,330.3 295.8,330.3 294.8,330.3 293.8,330.3 292.8,330.3 291.8,330.3 290.8,330.3 289.8,330.3 288.8,330.3 287.8,330.3 286.8,330.3 285.8,330.4 284.8,330.4 283.8,330.4 282.8,330.4 281.8,330.4 280.8,330.4 279.8,330.4 278.8,330.4 277.8,330.4 276.8,330.4 275.8,330.4 274.8,330.5 273.8,330.5 272.8,330.5 271.8,330.5 270.8,330.5 269.8,330.5 268.8,330.5 267.8,330.5 266.8,330.5 265.8,330.5 264.8,330.5 263.8,330.5 262.8,330.6 261.8,330.6 260.8,330.6 259.8,330.6 258.8,330.6 257.8,330.6 256.8,330.6 255.8,330.6 254.8,330.6 253.8,330.6 252.8,330.6 251.8,330.7 250.8,330.7 249.8,330.7 248.8,330.7 247.8,330.7 246.8,330.7 245.8,330.5 244.8,329.3 243.8,326.8 242.8,324.6 241.8,323.9 240.8,323.8 239.8,323.8 238.8,324.1 237.8,325.3 236.8,327.8 235.8,329.9 234.8,330.7 233.8,330.7 232.8,330.7 231.8,330.7 230.8,330.7 229.8,330.7 228.8,330.7 227.8,330.7 226.8,330.7 225.8,330.7 224.8,330.7 223.8,330.7 222.8,330.8 221.8,330.8 220.8,330.8 219.8,330.8 218.8,330.8 217.8,330.8 216.8,330.8 215.8,330.8 214.8,330.8 213.8,330.8 212.8,330.8 211.8,330.8 210.8,330.8 209.8,330.8 208.8,330.8 207.8,330.8 206.8,330.8 205.8,330.8 204.8,330.8 203.8,330.8 202.8,330.8 201.8,330.8 200.8,330.8 199.8,330.8 198.8,330.8 197.8,330.8 196.8,330.8 195.8,330.8 194.8,330.8 193.8,330.8 192.8,330.8 191.8,330.8 190.8,330.8 189.8,330.8 188.8,330.8 187.8,330.8 186.8,330.9 185.8,330.9 184.8,330.9 183.8,330.9 182.8,330.9 181.8,330.9 180.8,330.9 179.8,330.9 178.8,330.9 177.8,330.9 176.8,330.9 175.8,330.9 174.8,330.9 173.8,330.9 172.8,330.9 171.8,330.9 170.8,330.9 169.8,330.9 168.8,330.9 167.8,330.9 166.8,330.9 165.8,330.9 164.8,330.8 163.8,330.6 162.8,330.4 161.8,330.2 160.8,330.0 159.8,329.7 158.8,329.5 157.8,329.3 156.8,329.1 155.8,328.8 154.8,328.6 153.8,328.3 152.8,328.1 151.8,327.8 150.8,327.6 149.8,327.3 148.8,327.1 147.8,326.8 146.8,326.6 145.8,326.4 144.8,326.1 143.8,326.1 142.8,326.3 141.8,326.8 140.8,327.4 139.8,328.6 138.8,330.7 137.8,333.1 136.8,334.5 135.8,333.7 134.8,331.7 133.8,329.6 132.8,328.0 131.8,327.3 130.8,327.0 129.8,326.7 128.8,326.4 127.8,326.1 126.8,326.0 125.8,326.1 124.8,326.2 123.8,326.4 122.8,326.6 121.8,326.7 120.8,326.9 119.8,327.1 118.8,327.2 117.8,327.4 116.8,327.6 115.8,327.7 114.8,327.9 113.8,328.0 112.8,328.1 111.8,328.2 110.8,328.3 109.8,328.4 108.8,328.5 107.8,328.6 106.8,328.7 105.8,328.8 104.8,328.9 103.8,329.0 102.8,329.1 101.8,329.2 100.8,329.3 99.8,329.4 98.8,329.5 97.8,329.6 96.8,329.7 95.8,329.8 94.8,329.9 93.8,329.9 92.8,329.9 91.8,329.9 90.8,330.0 89.8,330.0 88.8,330.0 87.8,330.0 86.8,330.0 85.8,330.0 84.8,330.0 83.8,330.0 82.8,330.1 81.8,330.1 80.8,330.1 79.8,330.1 78.8,330.1 77.8,330.1 76.8,330.1 75.8,330.2 74.8,330.2 73.8,330.2 72.8,330.2 71.8,330.2 70.8,330.2 69.8,330.2 68.8,330.2 67.8,330.3 66.8,330.3 65.8,330.3 64.8,330.3 63.8,330.3 62.8,330.3 61.8,330.3 60.8,330.3 59.8,330.4 58.8,330.4 57.8,330.4 56.8,330.4 55.8,330.4 54.8,330.4 53.8,330.4 52.8,330.5 51.8,330.5 50.8,330.5 49.8,330.5 48.8,330.5 47.8,330.5 46.8,330.5 45.8,330.5 44.8,330.6 43.8,330.6 42.8,330.6 41.8,330.6 40.8,330.6 39.8,330.6 38.8,330.6 37.8,330.6 36.8,330.7 35.8,330.7 34.8,330.7 33.8,330.7 32.8,330.7" fill="#ff0000"/><polygon points="32.8,326.8 33.8,326.8 34.8,326.9 35.8,327.0 36.8,326.7 37.8,326.8 38.8,326.8 39.8,326.7 40.8,326.6 41.8,327.0 42.8,326.8 43.8,326.8 44.8,326.9 45.8,326.9 46.8,327.0 47.8,326.9 48.8,327.0 49.8,327.1 50.8,327.0 51.8,327.1 52.8,327.2 53.8,327.3 54.8,327.2 55.8,327.3 56.8,327.4 57.8,327.6 58.8,327.6 59.8,327.7 60.8,327.6 61.8,327.7 62.8,328.0 63.8,327.8 64.8,327.8 65.8,327.9 66.8,328.1 67.8,327.9 68.8,328.2 69.8,328.3 70.8,328.3 71.8,328.1 72.8,328.0 73.8,328.0 74.8,328.0 75.8,328.2 76.8,328.1 77.8,328.1 78.8,328.0 79.8,328.1 80.8,327.9 81.8,327.8 82.8,327.9 83.8,327.8 84.8,327.9 85.8,327.9 86.8,327.8 87.8,327.6 88.8,327.6 89.8,327.7 90.8,327.3 91.8,327.2 92.8,326.8 93.8,326.6 94.8,326.4 95.8,326.1 96.8,326.0 97.8,325.8 98.8,325.6 99.8,325.2 100.8,325.0 101.8,324.7 102.8,324.5 103.8,324.1 104.8,324.1 105.8,324.0 106.8,323.6 107.8,323.5 108.8,323.5 109.8,323.6 110.8,323.4 111.8,323.2 112.8,323.2 113.8,322.9 114.8,323.1 115.8,322.8 116.8,322.9 117.8,322.7 118.8,322.9 119.8,322.8 120.8,322.9 121.8,322.7 122.8,322.1 123.8,321.4 124.8,320.8 125.8,319.9 126.8,319.3 127.8,319.4 128.8,320.3 129.8,321.1 130.8,322.2 131.8,323.0 132.8,324.4 133.8,326.2 134.8,328.4 135.8,330.6 136.8,331.2 137.8,329.3 138.8,326.5 139.8,324.5 140.8,323.5 141.8,322.8 142.8,322.0 143.8,322.1 144.8,322.5 145.8,323.3 146.8,324.1 147.8,324.7 148.8,324.6 149.8,324.2 150.8,324.2 151.8,323.8 152.8,323.7 153.8,323.8 154.8,323.8 155.8,323.7 156.8,322.8 157.8,321.9 158.8,321.0 159.8,321.1 160.8,322.0 161.8,323.2 162.8,324.3 163.8,325.4 164.8,325.9 165.8,326.1 166.8,326.3 167.8,326.4 168.8,326.5 169.8,326.6 170.8,326.8 171.8,327.0 172.8,327.0 173.8,327.0 174.8,327.3 175.8,326.9 176.8,327.2 177.8,327.2 178.8,327.1 179.8,327.3 180.8,327.4 181.8,327.3 182.8,327.7 183.8,327.7 184.8,327.8 185.8,328.1 186.8,328.1 187.8,328.2 188.8,328.0 189.8,328.2 190.8,328.0 191.8,327.8 192.8,327.7 193.8,327.7 194.8,327.4 195.8,327.3 196.8,327.1 197.8,326.9 198.8,326.7 199.8,326.7 200.8,326.6 201.8,326.8 202.8,326.8 203.8,326.8 204.8,327.0 205.8,327.0 206.8,327.2 207.8,327.0 208.8,327.0 209.8,327.3 210.8,327.3 211.8,327.4 212.8,327.3 213.8,327.4 214.8,327.5 215.8,327.6 216.8,327.6 217.8,327.8 218.8,327.7 219.8,327.9 220.8,327.8 221.8,328.0 222.8,328.0 223.8,328.1 224.8,328.1 225.8,328.3 226.8,328.2 227.8,328.2 228.8,328.2 229.8,328.2 230.8,328.1 231.8,328.2 232.8,327.5 233.8,326.9 234.8,325.8 235.8,324.9 236.8,322.5 237.8,320.1 238.8,318.1 239.8,317.4 240.8,316.9 241.8,317.8 242.8,319.9 243.8,322.7 244.8,325.3 245.8,327.1 246.8,327.8 247.8,328.2 248.8,328.1 249.8,328.1 250.8,328.0 251.8,327.8 252.8,327.9 253.8,327.9 254.8,327.9 255.8,327.9 256.8,327.6 257.8,327.8 258.8,327.8 259.8,327.6 260.8,327.6 261.8,327.3 262.8,327.7 263.8,327.4 264.8,327.3 265.8,327.5 266.8,327.4 267.8,327.2 268.8,327.1 269.8,327.3 270.8,327.3 271.8,327.0 272.8,326.9 273.8,327.0 274.8,327.2 275.8,326.8 276.8,326.9 277.8,326.7 278.8,326.8 279.8,326.8 280.8,326.7 281.8,326.5 282.8,326.4 283.8,326.8 284.8,326.6 285.8,326.3 286.8,326.4 287.8,326.5 288.8,326.3 289.8,326.3 290.8,326.4 291.8,326.6 292.8,326.7 293.8,326.9 294.8,327.0 295.8,327.3 296.8,327.4 297.8,327.5 298.8,327.5 299.8,327.7 300.8,327.8 301.8,327.8 302.8,327.9 303.8,327.9 304.8,328.1 305.8,328.0 306.8,328.1 307.8,328.4 308.8,328.5 309.8,328.4 310.8,328.5 311.8,328.6 312.8,328.8 313.8,328.9 314.8,328.7 315.8,328.7 316.8,328.7 317.8,328.9 318.8,328.6 319.8,328.5 320.8,328.1 321.8,327.8 322.8,327.7 323.8,327.4 324.8,327.4 325.8,327.2 326.8,327.4 327.8,327.2 328.8,327.3 329.8,327.2 330.8,327.3 331.8,327.5 332.8,327.5 333.8,327.6 334.8,327.6 335.8,327.7 336.8,327.9 337.8,327.8 338.8,327.9 339.8,328.0 340.8,327.9 341.8,327.9 342.8,328.2 343.8,328.2 344.8,328.4 345.8,328.3 346.8,328.3 347.8,328.3 348.8,327.8 349.8,327.4 350.8,327.3 351.8,327.0 352.8,326.7 353.8,326.3 354.8,326.2 355.8,325.8 356.8,325.3 357.8,325.2 358.8,324.9 359.8,324.6 360.8,324.3 361.8,323.8 362.8,323.3 363.8,323.1 364.8,322.7 365.8,322.3 366.8,322.0 367.8,322.0 368.8,321.8 369.8,322.0 370.8,321.8 371.8,322.0 372.8,322.2 373.8,322.6 374.8,322.9 375.8,323.1 376.8,323.3 377.8,323.7 378.8,323.8 379.8,324.0 380.8,324.3 381.8,324.6 382.8,324.9 383.8,324.9 384.8,325.1 385.8,325.3 386.8,325.4 387.8,325.5 388.8,325.5 389.8,325.7 390.8,325.8 391.8,326.2 392.8,326.4 393.8,326.6 394.8,327.1 395.8,327.4 396.8,327.6 397.8,327.7 398.8,328.0 399.8,327.9 400.8,328.2 401.8,328.2 402.8,328.4 403.8,328.3 404.8,328.2 405.8,328.3 406.8,328.2 407.8,328.2 408.8,328.3 409.8,328.2 410.8,328.2 411.8,328.1 412.8,328.1 413.8,328.0 414.8,328.0 415.8,328.1 416.8,328.0 417.8,328.0 418.8,327.8 419.8,328.0 420.8,327.8 421.8,327.5 422.8,327.7 423.8,327.8 424.8,327.6 425.8,327.5 426.8,327.7 427.8,327.6 428.8,327.6 429.8,327.7 430.8,327.3 431.8,327.7 432.8,327.7 433.8,327.7 434.8,327.7 435.8,327.7 436.8,327.6 437.8,327.7 438.8,327.9 439.8,327.7 440.8,327.8 441.8,327.8 442.8,327.9 443.8,327.8 444.8,327.8 445.8,327.8 446.8,327.9 447.8,327.8 448.8,327.8 449.8,327.9 450.8,327.9 451.8,327.9 452.8,327.7 453.8,328.1 454.8,327.8 455.8,327.7 456.8,327.3 457.8,326.9 458.8,326.8 459.8,326.5 460.8,326.5 461.8,326.4 462.8,326.9 463.8,327.2 464.8,327.8 465.8,327.9 466.8,327.7 467.8,327.9 468.8,327.9 469.8,327.8 470.8,328.0 471.8,327.8 472.8,327.8 473.8,327.8 474.8,327.9 475.8,327.8 476.8,327.9 477.8,327.8 478.8,327.7 479.8,327.8 480.8,327.8 481.8,327.8 482.8,328.1 483.8,327.8 484.8,327.9 485.8,327.9 486.8,327.9 487.8,328.0 488.8,327.9 489.8,327.8 490.8,327.6 491.8,327.6 492.8,327.4 493.8,327.0 494.8,327.1 495.8,326.9 496.8,327.3 497.8,327.6 498.8,327.6 499.8,327.7 500.8,328.1 501.8,327.8 502.8,328.0 503.8,327.8 504.8,328.0 505.8,328.1 506.8,327.9 507.8,327.8 508.8,327.7 509.8,327.8 510.8,327.9 511.8,328.0 512.8,328.0 513.8,328.0 514.8,328.0 515.8,327.9 516.8,328.2 517.8,327.8 518.8,327.6 519.8,327.1 520.8,326.9 521.8,326.7 522.8,326.4 523.8,326.8 524.8,327.1 525.8,327.6 526.8,327.6 527.8,327.8 528.8,328.1 529.8,327.9 530.8,327.8 531.8,327.9 532.8,327.9 533.8,328.1 534.8,328.0 535.8,328.0 536.8,327.9 537.8,328.1 538.8,328.1 539.8,327.9 540.8,328.1 541.8,327.9 542.8,328.0 543.8,327.9 544.8,327.8 544.8,328.7 543.8,328.7 542.8,328.8 541.8,328.7 540.8,328.8 539.8,328.7 538.8,328.8 537.8,328.8 536.8,328.7 535.8,328.7 534.8,328.8 533.8,328.8 532.8,328.7 531.8,328.7 530.8,328.7 529.8,328.7 528.8,328.8 527.8,328.6 526.8,328.5 525.8,328.5 524.8,328.1 523.8,327.9 522.8,327.6 521.8,327.8 520.8,328.0 519.8,328.1 518.8,328.5 517.8,328.6 516.8,328.9 515.8,328.7 514.8,328.8 513.8,328.7 512.8,328.7 511.8,328.7 510.8,328.6 509.8,328.6 508.8,328.5 507.8,328.6 506.8,328.7 505.8,328.8 504.8,328.7 503.8,328.6 502.8,328.7 501.8,328.6 500.8,328.8 499.8,328.5 498.8,328.5 497.8,328.4 496.8,328.2 495.8,327.9 494.8,328.1 493.8,328.0 492.8,328.3 491.8,328.4 490.8,328.4 489.8,328.6 488.8,328.7 487.8,328.7 486.8,328.7 485.8,328.6 484.8,328.7 483.8,328.6 482.8,328.8 481.8,328.6 480.8,328.6 479.8,328.6 478.8,328.5 477.8,328.6 476.8,328.7 475.8,328.6 474.8,328.7 473.8,328.6 472.8,328.6 471.8,328.6 470.8,328.7 469.8,328.6 468.8,328.6 467.8,328.6 466.8,328.5 465.8,328.7 464.8,328.6 463.8,328.2 462.8,327.9 461.8,327.6 460.8,327.6 459.8,327.6 458.8,327.8 457.8,327.9 456.8,328.2 455.8,328.5 454.8,328.6 453.8,328.8 452.8,328.5 451.8,328.6 450.8,328.6 449.8,328.7 448.8,328.6 447.8,328.6 446.8,328.7 445.8,328.6 444.8,328.6 443.8,328.6 442.8,328.7 441.8,328.6 440.8,328.6 439.8,328.5 438.8,328.6 437.8,328.5 436.8,328.5 435.8,328.5 434.8,328.5 433.8,328.5 432.8,328.5 431.8,328.5 430.8,328.3 429.8,328.5 428.8,328.5 427.8,328.4 426.8,328.5 425.8,328.4 424.8,328.5 423.8,328.6 422.8,328.5 421.8,328.4 420.8,328.6 419.8,328.8 418.8,328.6 417.8,328.8 416.8,328.7 415.8,328.8 414.8,328.8 413.8,328.8 412.8,328.8 411.8,328.8 410.8,328.9 409.8,328.9 408.8,328.9 407.8,328.9 406.8,328.9 405.8,329.0 404.8,328.9 403.8,329.0 402.8,329.0 401.8,328.9 400.8,328.9 399.8,328.7 398.8,328.7 397.8,328.5 396.8,328.4 395.8,328.2 394.8,328.0 393.8,327.6 392.8,327.5 391.8,327.3 390.8,327.0 389.8,326.9 388.8,326.7 387.8,326.7 386.8,326.6 385.8,326.5 384.8,326.3 383.8,326.2 382.8,326.2 381.8,325.9 380.8,325.6 379.8,325.4 378.8,325.3 377.8,325.2 376.8,324.9 375.8,324.7 374.8,324.6 373.8,324.3 372.8,324.0 371.8,323.9 370.8,323.7 369.8,323.8 368.8,323.7 367.8,323.9 366.8,323.9 365.8,324.1 364.8,324.4 363.8,324.8 362.8,325.0 361.8,325.3 360.8,325.7 359.8,325.9 358.8,326.1 357.8,326.4 356.8,326.5 355.8,326.9 354.8,327.2 353.8,327.2 352.8,327.5 351.8,327.7 350.8,328.0 349.8,328.1 348.8,328.3 347.8,328.7 346.8,328.7 345.8,328.7 344.8,328.8 343.8,328.6 342.8,328.6 341.8,328.4 340.8,328.4 339.8,328.5 338.8,328.4 337.8,328.4 336.8,328.4 335.8,328.3 334.8,328.2 333.8,328.2 332.8,328.1 331.8,328.2 330.8,328.0 329.8,328.0 328.8,328.0 327.8,327.9 326.8,328.1 325.8,328.0 324.8,328.1 323.8,328.1 322.8,328.3 321.8,328.4 320.8,328.6 319.8,328.9 318.8,329.0 317.8,329.2 316.8,329.1 315.8,329.0 314.8,329.1 313.8,329.2 312.8,329.1 311.8,329.0 310.8,328.9 309.8,328.9 308.8,328.9 307.8,328.8 306.8,328.7 305.8,328.6 304.8,328.6 303.8,328.5 302.8,328.5 301.8,328.5 300.8,328.5 299.8,328.4 298.8,328.2 297.8,328.3 296.8,328.2 295.8,328.1 294.8,327.9 293.8,327.8 292.8,327.7 291.8,327.6 290.8,327.4 289.8,327.4 288.8,327.4 287.8,327.5 286.8,327.5 285.8,327.3 284.8,327.6 283.8,327.7 282.8,327.5 281.8,327.5 280.8,327.7 279.8,327.7 278.8,327.7 277.8,327.7 276.8,327.8 275.8,327.7 274.8,328.0 273.8,327.9 272.8,327.8 271.8,327.9 270.8,328.1 269.8,328.1 268.8,328.0 267.8,328.1 266.8,328.2 265.8,328.3 264.8,328.2 263.8,328.2 262.8,328.5 261.8,328.2 260.8,328.4 259.8,328.4 258.8,328.5 257.8,328.6 256.8,328.4 255.8,328.6 254.8,328.6 253.8,328.6 252.8,328.6 251.8,328.6 250.8,328.7 249.8,328.8 248.8,328.8 247.8,328.8 246.8,328.5 245.8,328.0 244.8,326.4 243.8,323.7 242.8,321.1 241.8,319.4 240.8,318.7 239.8,319.1 238.8,319.6 237.8,321.4 236.8,323.9 235.8,326.2 234.8,327.1 233.8,327.9 232.8,328.3 231.8,328.9 230.8,328.8 229.8,328.9 228.8,328.9 227.8,328.9 226.8,328.9 225.8,329.0 224.8,328.8 223.8,328.8 222.8,328.7 221.8,328.7 220.8,328.6 219.8,328.6 218.8,328.5 217.8,328.6 216.8,328.4 215.8,328.4 214.8,328.4 213.8,328.3 212.8,328.2 211.8,328.3 210.8,328.2 209.8,328.2 208.8,328.0 207.8,328.0 206.8,328.1 205.8,328.0 204.8,328.0 203.8,327.9 202.8,327.8 201.8,327.9 200.8,327.7 199.8,327.8 198.8,327.8 197.8,327.9 196.8,328.1 195.8,328.2 194.8,328.3 193.8,328.5 192.8,328.5 191.8,328.6 190.8,328.8 189.8,328.9 188.8,328.7 187.8,328.9 186.8,328.8 185.8,328.8 184.8,328.6 183.8,328.6 182.8,328.6 181.8,328.2 180.8,328.3 179.8,328.2 178.8,328.1 177.8,328.2 176.8,328.1 175.8,328.0 174.8,328.2 173.8,328.0 172.8,328.0 171.8,328.0 170.8,327.9 169.8,327.7 168.8,327.7 167.8,327.6 166.8,327.5 165.8,327.4 164.8,327.2 163.8,326.8 162.8,325.9 161.8,325.0 160.8,324.1 159.8,323.4 158.8,323.3 157.8,323.8 156.8,324.5 155.8,325.0 154.8,325.1 153.8,325.0 152.8,324.9 151.8,324.9 150.8,325.1 149.8,325.0 148.8,325.3 147.8,325.3 146.8,324.8 145.8,324.1 144.8,323.5 143.8,323.1 142.8,323.2 141.8,323.9 140.8,324.6 139.8,325.6 138.8,327.6 137.8,330.3 136.8,332.1 135.8,331.5 134.8,329.3 133.8,327.1 132.8,325.3 131.8,324.1 130.8,323.5 129.8,322.6 128.8,321.9 127.8,321.2 126.8,321.1 125.8,321.5 124.8,322.2 123.8,322.7 122.8,323.3 121.8,323.8 120.8,323.9 119.8,323.9 118.8,324.0 117.8,324.0 116.8,324.2 115.8,324.1 114.8,324.4 113.8,324.2 112.8,324.5 111.8,324.5 110.8,324.7 109.8,324.9 108.8,324.8 107.8,324.9 106.8,325.0 105.8,325.2 104.8,325.4 103.8,325.4 102.8,325.7 101.8,325.9 100.8,326.1 99.8,326.3 98.8,326.6 97.8,326.8 96.8,327.0 95.8,327.0 94.8,327.3 93.8,327.5 92.8,327.6 91.8,327.9 90.8,328.0 89.8,328.3 88.8,328.2 87.8,328.2 86.8,328.4 85.8,328.5 84.8,328.5 83.8,328.4 82.8,328.5 81.8,328.4 80.8,328.5 79.8,328.6 78.8,328.5 77.8,328.6 76.8,328.6 75.8,328.7 74.8,328.6 73.8,328.6 72.8,328.6 71.8,328.7 70.8,328.8 69.8,328.8 68.8,328.7 67.8,328.5 66.8,328.7 65.8,328.5 64.8,328.5 63.8,328.5 62.8,328.6 61.8,328.4 60.8,328.3 59.8,328.4 58.8,328.3 57.8,328.3 56.8,328.2 55.8,328.2 54.8,328.0 53.8,328.1 52.8,328.1 51.8,328.0 50.8,327.9 49.8,328.0 48.8,327.9 47.8,327.8 46.8,327.9 45.8,327.8 44.8,327.8 43.8,327.8 42.8,327.8 41.8,327.9 40.8,327.7 39.8,327.7 38.8,327.8 37.8,327.8 36.8,327.7 35.8,327.9 34.8,327.9 33.8,327.8 32.8,327.8" fill="#00cc00"/><polygon points="32.8,325.9 33.8,325.9 34.8,326.0 35.8,326.1 36.8,325.8 37.8,325.9 38.8,325.9 39.8,325.7 40.8,325.7 41.8,326.1 42.8,325.9 43.8,325.9 44.8,326.0 45.8,326.0 46.8,326.1 47.8,326.0 48.8,326.2 49.8,326.3 50.8,326.2 51.8,326.3 52.8,326.4 53.8,326.5 54.8,326.4 55.8,326.6 56.8,326.8 57.8,326.9 58.8,326.9 59.8,327.1 60.8,327.0 61.8,327.0 62.8,327.4 63.8,327.2 64.8,327.2 65.8,327.4 66.8,327.6 67.8,327.4 68.8,327.7 69.8,327.8 70.8,327.8 71.8,327.7 72.8,327.5 73.8,327.5 74.8,327.5 75.8,327.7 76.8,327.6 77.8,327.6 78.8,327.5 79.8,327.7 80.8,327.4 81.8,327.3 82.8,327.4 83.8,327.3 84.8,327.4 85.8,327.4 86.8,327.3 87.8,327.0 88.8,327.0 89.8,327.1 90.8,326.7 91.8,326.6 92.8,326.0 93.8,325.8 94.8,325.6 95.8,325.2 96.8,325.1 97.8,324.9 98.8,324.6 99.8,324.2 100.8,323.9 101.8,323.7 102.8,323.4 103.8,322.9 104.8,322.9 105.8,322.8 106.8,322.4 107.8,322.3 108.8,322.3 109.8,322.5 110.8,322.3 111.8,322.0 112.8,322.0 113.8,321.7 114.8,322.0 115.8,321.7 116.8,321.9 117.8,321.6 118.8,321.9 119.8,321.8 120.8,321.9 121.8,321.7 122.8,321.1 123.8,320.2 124.8,319.5 125.8,318.4 126.8,317.8 127.8,317.9 128.8,318.8 129.8,319.8 130.8,321.1 131.8,322.0 132.8,323.5 133.8,325.4 134.8,327.7 135.8,329.9 136.8,330.4 137.8,328.4 138.8,325.5 139.8,323.6 140.8,322.6 141.8,321.9 142.8,321.0 143.8,321.1 144.8,321.7 145.8,322.6 146.8,323.6 147.8,324.2 148.8,324.0 149.8,323.4 150.8,323.4 151.8,322.8 152.8,322.7 153.8,322.7 154.8,322.7 155.8,322.5 156.8,321.3 157.8,320.1 158.8,319.0 159.8,319.1 160.8,320.1 161.8,321.5 162.8,322.8 163.8,324.1 164.8,324.7 165.8,325.0 166.8,325.2 167.8,325.3 168.8,325.5 169.8,325.5 170.8,325.9 171.8,326.1 172.8,326.0 173.8,326.1 174.8,326.4 175.8,326.0 176.8,326.3 177.8,326.3 178.8,326.3 179.8,326.4 180.8,326.6 181.8,326.4 182.8,327.0 183.8,327.0 184.8,327.0 185.8,327.4 186.8,327.5 187.8,327.5 188.8,327.3 189.8,327.6 190.8,327.3 191.8,327.1 192.8,327.0 193.8,327.0 194.8,326.6 195.8,326.4 196.8,326.2 197.8,325.9 198.8,325.8 199.8,325.7 200.8,325.6 201.8,325.8 202.8,325.8 203.8,325.9 204.8,326.1 205.8,326.1 206.8,326.3 207.8,326.1 208.8,326.1 209.8,326.5 210.8,326.5 211.8,326.6 212.8,326.5 213.8,326.6 214.8,326.7 215.8,326.8 216.8,326.8 217.8,327.0 218.8,326.9 219.8,327.2 220.8,327.2 221.8,327.3 222.8,327.3 223.8,327.5 224.8,327.5 225.8,327.8 226.8,327.6 227.8,327.7 228.8,327.6 229.8,327.6 230.8,327.5 231.8,327.6 232.8,326.7 233.8,326.0 234.8,324.7 235.8,323.7 236.8,321.3 237.8,318.8 238.8,316.6 239.8,315.8 240.8,315.2 241.8,316.3 242.8,318.7 243.8,321.7 244.8,324.4 245.8,326.3 246.8,327.1 247.8,327.6 248.8,327.5 249.8,327.5 250.8,327.4 251.8,327.1 252.8,327.3 253.8,327.2 254.8,327.3 255.8,327.3 256.8,326.9 257.8,327.2 258.8,327.1 259.8,327.0 260.8,326.9 261.8,326.6 262.8,327.1 263.8,326.7 264.8,326.6 265.8,326.8 266.8,326.6 267.8,326.5 268.8,326.2 269.8,326.5 270.8,326.5 271.8,326.2 272.8,326.0 273.8,326.2 274.8,326.4 275.8,325.9 276.8,326.0 277.8,325.8 278.8,325.9 279.8,325.9 280.8,325.9 281.8,325.6 282.8,325.5 283.8,325.9 284.8,325.7 285.8,325.3 286.8,325.5 287.8,325.6 288.8,325.4 289.8,325.4 290.8,325.5 291.8,325.7 292.8,325.9 293.8,326.1 294.8,326.2 295.8,326.6 296.8,326.7 297.8,326.9 298.8,326.9 299.8,327.1 300.8,327.3 301.8,327.3 302.8,327.4 303.8,327.4 304.8,327.6 305.8,327.5 306.8,327.7 307.8,328.0 308.8,328.1 309.8,328.0 310.8,328.1 311.8,328.3 312.8,328.5 313.8,328.6 314.8,328.3 315.8,328.3 316.8,328.4 317.8,328.6 318.8,328.2 319.8,328.2 320.8,327.7 321.8,327.3 322.8,327.1 323.8,326.8 324.8,326.8 325.8,326.6 326.8,326.8 327.8,326.5 328.8,326.6 329.8,326.6 330.8,326.7 331.8,326.9 332.8,326.9 333.8,327.1 334.8,327.0 335.8,327.1 336.8,327.4 337.8,327.3 338.8,327.4 339.8,327.5 340.8,327.5 341.8,327.4 342.8,327.8 343.8,327.8 344.8,328.1 345.8,327.9 346.8,327.9 347.8,327.9 348.8,327.3 349.8,326.9 350.8,326.7 351.8,326.3 352.8,326.0 353.8,325.4 354.8,325.4 355.8,324.9 356.8,324.3 357.8,324.1 358.8,323.7 359.8,323.4 360.8,323.1 361.8,322.4 362.8,321.9 363.8,321.7 364.8,321.1 365.8,320.6 366.8,320.3 367.8,320.3 368.8,320.1 369.8,320.3 370.8,320.1 371.8,320.4 372.8,320.6 373.8,321.1 374.8,321.5 375.8,321.6 376.8,321.9 377.8,322.4 378.8,322.5 379.8,322.7 380.8,323.0 381.8,323.4 382.8,323.8 383.8,323.8 384.8,324.0 385.8,324.2 386.8,324.4 387.8,324.5 388.8,324.4 389.8,324.7 390.8,324.8 391.8,325.2 392.8,325.5 393.8,325.8 394.8,326.3 395.8,326.6 396.8,326.9 397.8,327.0 398.8,327.3 399.8,327.2 400.8,327.5 401.8,327.6 402.8,327.8 403.8,327.7 404.8,327.5 405.8,327.7 406.8,327.6 407.8,327.6 408.8,327.6 409.8,327.6 410.8,327.5 411.8,327.4 412.8,327.4 413.8,327.3 414.8,327.3 415.8,327.4 416.8,327.3 417.8,327.3 418.8,327.0 419.8,327.4 420.8,327.1 421.8,326.7 422.8,327.0 423.8,327.0 424.8,326.9 425.8,326.7 426.8,326.9 427.8,326.8 428.8,326.9 429.8,327.0 430.8,326.5 431.8,326.9 432.8,327.0 433.8,327.0 434.8,326.9 435.8,326.9 436.8,326.9 437.8,327.0 438.8,327.2 439.8,326.9 440.8,327.1 441.8,327.1 442.8,327.2 443.8,327.1 444.8,327.1 445.8,327.1 446.8,327.3 447.8,327.1 448.8,327.1 449.8,327.2 450.8,327.2 451.8,327.2 452.8,327.0 453.8,327.4 454.8,327.1 455.8,327.0 456.8,326.6 457.8,326.0 458.8,325.9 459.8,325.4 460.8,325.5 461.8,325.4 462.8,326.0 463.8,326.4 464.8,327.1 465.8,327.3 466.8,327.0 467.8,327.2 468.8,327.2 469.8,327.1 470.8,327.3 471.8,327.1 472.8,327.2 473.8,327.1 474.8,327.3 475.8,327.1 476.8,327.3 477.8,327.0 478.8,327.0 479.8,327.1 480.8,327.1 481.8,327.1 482.8,327.5 483.8,327.1 484.8,327.2 485.8,327.2 486.8,327.2 487.8,327.4 488.8,327.2 489.8,327.0 490.8,326.8 491.8,326.8 492.8,326.6 493.8,326.1 494.8,326.3 495.8,326.0 496.8,326.5 497.8,326.8 498.8,326.8 499.8,327.0 500.8,327.4 501.8,327.1 502.8,327.3 503.8,327.1 504.8,327.3 505.8,327.5 506.8,327.2 507.8,327.1 508.8,327.0 509.8,327.0 510.8,327.2 511.8,327.3 512.8,327.3 513.8,327.3 514.8,327.3 515.8,327.3 516.8,327.5 517.8,327.1 518.8,326.9 519.8,326.2 520.8,326.0 521.8,325.8 522.8,325.4 523.8,325.8 524.8,326.2 525.8,326.8 526.8,326.8 527.8,327.1 528.8,327.4 529.8,327.3 530.8,327.1 531.8,327.2 532.8,327.2 533.8,327.4 534.8,327.4 535.8,327.3 536.8,327.2 537.8,327.4 538.8,327.4 539.8,327.2 540.8,327.4 541.8,327.2 542.8,327.3 543.8,327.2 544.8,327.1 544.8,327.9 543.8,328.0 542.8,328.1 541.8,328.0 540.8,328.2 539.8,328.0 538.8,328.2 537.8,328.2 536.8,328.0 535.8,328.1 534.8,328.1 533.8,328.1 532.8,328.0 531.8,328.0 530.8,327.9 529.8,328.0 528.8,328.1 527.8,327.9 526.8,327.7 525.8,327.7 524.8,327.2 523.8,326.9 522.8,326.6 521.8,326.8 520.8,327.0 519.8,327.2 518.8,327.7 517.8,327.9 516.8,328.3 515.8,328.0 514.8,328.1 513.8,328.0 512.8,328.1 511.8,328.0 510.8,327.9 509.8,327.8 508.8,327.8 507.8,327.9 506.8,328.0 505.8,328.2 504.8,328.1 503.8,327.9 502.8,328.1 501.8,327.9 500.8,328.2 499.8,327.8 498.8,327.7 497.8,327.7 496.8,327.4 495.8,327.0 494.8,327.2 493.8,327.1 492.8,327.5 491.8,327.7 490.8,327.7 489.8,327.9 488.8,328.0 487.8,328.1 486.8,328.0 485.8,327.9 484.8,328.0 483.8,327.9 482.8,328.2 481.8,327.9 480.8,327.9 479.8,327.9 478.8,327.8 477.8,327.8 476.8,328.0 475.8,327.9 474.8,328.0 473.8,327.9 472.8,327.9 471.8,327.9 470.8,328.1 469.8,327.9 468.8,328.0 467.8,327.9 466.8,327.8 465.8,328.0 464.8,327.9 463.8,327.4 462.8,327.0 461.8,326.5 460.8,326.6 459.8,326.6 458.8,326.9 457.8,327.0 456.8,327.4 455.8,327.8 454.8,327.9 453.8,328.1 452.8,327.8 451.8,328.0 450.8,327.9 449.8,328.0 448.8,327.9 447.8,327.9 446.8,328.0 445.8,327.9 444.8,327.9 443.8,327.9 442.8,328.0 441.8,327.9 440.8,327.8 439.8,327.8 438.8,327.9 437.8,327.8 436.8,327.7 435.8,327.7 434.8,327.7 433.8,327.8 432.8,327.8 431.8,327.8 430.8,327.4 429.8,327.8 428.8,327.7 427.8,327.7 426.8,327.7 425.8,327.6 424.8,327.7 423.8,327.8 422.8,327.8 421.8,327.6 420.8,327.9 419.8,328.1 418.8,327.8 417.8,328.1 416.8,328.1 415.8,328.2 414.8,328.1 413.8,328.1 412.8,328.1 411.8,328.2 410.8,328.2 409.8,328.3 408.8,328.3 407.8,328.3 406.8,328.3 405.8,328.4 404.8,328.2 403.8,328.4 402.8,328.4 401.8,328.3 400.8,328.2 399.8,328.0 398.8,328.0 397.8,327.8 396.8,327.7 395.8,327.5 394.8,327.2 393.8,326.8 392.8,326.5 391.8,326.3 390.8,326.0 389.8,325.8 388.8,325.6 387.8,325.7 386.8,325.5 385.8,325.4 384.8,325.2 383.8,325.1 382.8,325.1 381.8,324.7 380.8,324.4 379.8,324.2 378.8,324.0 377.8,323.8 376.8,323.5 375.8,323.2 374.8,323.1 373.8,322.8 372.8,322.4 371.8,322.2 370.8,322.0 369.8,322.2 368.8,322.0 367.8,322.2 366.8,322.2 365.8,322.5 364.8,322.9 363.8,323.3 362.8,323.5 361.8,323.9 360.8,324.5 359.8,324.7 358.8,325.0 357.8,325.3 356.8,325.4 355.8,325.9 354.8,326.3 353.8,326.4 352.8,326.8 351.8,327.0 350.8,327.4 349.8,327.5 348.8,327.8 347.8,328.3 346.8,328.3 345.8,328.3 344.8,328.5 343.8,328.2 342.8,328.2 341.8,327.9 340.8,328.0 339.8,328.0 338.8,327.9 337.8,327.9 336.8,327.9 335.8,327.7 334.8,327.6 333.8,327.7 332.8,327.5 331.8,327.6 330.8,327.4 329.8,327.3 328.8,327.4 327.8,327.3 326.8,327.5 325.8,327.3 324.8,327.5 323.8,327.5 322.8,327.8 321.8,327.9 320.8,328.2 319.8,328.6 318.8,328.6 317.8,329.0 316.8,328.7 315.8,328.7 314.8,328.7 313.8,328.9 312.8,328.8 311.8,328.7 310.8,328.6 309.8,328.5 308.8,328.5 307.8,328.4 306.8,328.2 305.8,328.1 304.8,328.1 303.8,328.0 302.8,328.0 301.8,327.9 300.8,327.9 299.8,327.8 298.8,327.6 297.8,327.6 296.8,327.5 295.8,327.4 294.8,327.1 293.8,327.0 292.8,326.9 291.8,326.7 290.8,326.5 289.8,326.4 288.8,326.4 287.8,326.6 286.8,326.6 285.8,326.4 284.8,326.7 283.8,326.9 282.8,326.5 281.8,326.6 280.8,326.8 279.8,326.9 278.8,326.9 277.8,326.8 276.8,327.0 275.8,326.9 274.8,327.3 273.8,327.1 272.8,327.0 271.8,327.1 270.8,327.4 269.8,327.4 268.8,327.2 267.8,327.3 266.8,327.5 265.8,327.6 264.8,327.4 263.8,327.5 262.8,327.8 261.8,327.4 260.8,327.7 259.8,327.7 258.8,327.9 257.8,327.9 256.8,327.7 255.8,328.0 254.8,328.0 253.8,328.0 252.8,328.0 251.8,327.9 250.8,328.1 249.8,328.2 248.8,328.2 247.8,328.2 246.8,327.8 245.8,327.2 244.8,325.4 243.8,322.8 242.8,320.0 241.8,317.9 240.8,317.1 239.8,317.6 238.8,318.2 237.8,320.2 236.8,322.7 235.8,325.0 234.8,326.0 233.8,327.0 232.8,327.6 231.8,328.3 230.8,328.2 229.8,328.3 228.8,328.3 227.8,328.3 226.8,328.2 225.8,328.4 224.8,328.2 223.8,328.2 222.8,328.0 221.8,328.0 220.8,327.9 219.8,328.0 218.8,327.8 217.8,327.8 216.8,327.7 215.8,327.7 214.8,327.6 213.8,327.5 212.8,327.4 211.8,327.5 210.8,327.4 209.8,327.4 208.8,327.1 207.8,327.1 206.8,327.3 205.8,327.1 204.8,327.1 203.8,326.9 202.8,326.9 201.8,326.9 200.8,326.7 199.8,326.8 198.8,326.9 197.8,327.0 196.8,327.2 195.8,327.4 194.8,327.5 193.8,327.8 192.8,327.8 191.8,327.9 190.8,328.1 189.8,328.3 188.8,328.1 187.8,328.2 186.8,328.2 185.8,328.2 184.8,327.9 183.8,327.8 182.8,327.8 181.8,327.4 180.8,327.5 179.8,327.4 178.8,327.2 177.8,327.3 176.8,327.3 175.8,327.1 174.8,327.4 173.8,327.1 172.8,327.1 171.8,327.1 170.8,326.9 169.8,326.7 168.8,326.7 167.8,326.5 166.8,326.4 165.8,326.2 164.8,326.0 163.8,325.5 162.8,324.4 161.8,323.4 160.8,322.2 159.8,321.4 158.8,321.3 157.8,322.1 156.8,323.0 155.8,323.8 154.8,324.0 153.8,323.9 152.8,323.8 151.8,323.9 150.8,324.3 149.8,324.3 148.8,324.7 147.8,324.7 146.8,324.2 145.8,323.4 144.8,322.7 143.8,322.2 142.8,322.2 141.8,322.9 140.8,323.7 139.8,324.7 138.8,326.6 137.8,329.4 136.8,331.3 135.8,330.7 134.8,328.5 133.8,326.3 132.8,324.5 131.8,323.1 130.8,322.3 129.8,321.3 128.8,320.5 127.8,319.6 126.8,319.5 125.8,320.0 124.8,320.9 123.8,321.5 122.8,322.2 121.8,322.8 120.8,323.0 119.8,322.9 118.8,323.0 117.8,322.9 116.8,323.1 115.8,323.0 114.8,323.2 113.8,323.0 112.8,323.3 111.8,323.3 110.8,323.6 109.8,323.8 108.8,323.7 107.8,323.7 106.8,323.8 105.8,324.1 104.8,324.2 103.8,324.2 102.8,324.7 101.8,324.9 100.8,325.1 99.8,325.3 98.8,325.7 97.8,325.9 96.8,326.1 95.8,326.2 94.8,326.5 93.8,326.7 92.8,326.9 91.8,327.3 90.8,327.4 89.8,327.7 88.8,327.7 87.8,327.7 86.8,327.9 85.8,328.0 84.8,328.0 83.8,327.9 82.8,327.9 81.8,327.9 80.8,328.0 79.8,328.2 78.8,328.0 77.8,328.1 76.8,328.1 75.8,328.2 74.8,328.1 73.8,328.0 72.8,328.1 71.8,328.2 70.8,328.3 69.8,328.3 68.8,328.2 67.8,328.0 66.8,328.2 65.8,328.0 64.8,327.9 63.8,327.9 62.8,328.0 61.8,327.7 60.8,327.7 59.8,327.8 58.8,327.6 57.8,327.7 56.8,327.5 55.8,327.4 54.8,327.3 53.8,327.4 52.8,327.3 51.8,327.2 50.8,327.1 49.8,327.2 48.8,327.1 47.8,327.0 46.8,327.1 45.8,327.0 44.8,327.0 43.8,326.9 42.8,326.9 41.8,327.1 40.8,326.7 39.8,326.8 38.8,326.9 37.8,326.9 36.8,326.8 35.8,327.1 34.8,327.0 33.8,326.9 32.8,326.9" fill="#000000"/><polygon points="32.8,325.2 33.8,325.2 34.8,325.3 35.8,325.4 36.8,325.1 37.8,325.3 38.8,325.2 39.8,325.0 40.8,324.9 41.8,325.5 42.8,325.2 43.8,325.3 44.8,325.3 45.8,325.4 46.8,325.5 47.8,325.3 48.8,325.6 49.8,325.7 50.8,325.6 51.8,325.7 52.8,325.9 53.8,326.0 54.8,325.8 55.8,326.1 56.8,326.2 57.8,326.4 58.8,326.4 59.8,326.6 60.8,326.5 61.8,326.6 62.8,327.0 63.8,326.8 64.8,326.8 65.8,326.9 66.8,327.2 67.8,327.0 68.8,327.3 69.8,327.5 70.8,327.5 71.8,327.3 72.8,327.1 73.8,327.1 74.8,327.2 75.8,327.3 76.8,327.2 77.8,327.2 78.8,327.1 79.8,327.3 80.8,327.0 81.8,326.9 82.8,327.0 83.8,326.9 84.8,327.0 85.8,327.1 86.8,326.9 87.8,326.6 88.8,326.6 89.8,326.7 90.8,326.2 91.8,326.1 92.8,325.5 93.8,325.2 94.8,325.0 95.8,324.5 96.8,324.4 97.8,324.2 98.8,324.0 99.8,323.4 100.8,323.2 101.8,322.9 102.8,322.6 103.8,322.1 104.8,322.1 105.8,321.9 106.8,321.5 107.8,321.4 108.8,321.5 109.8,321.7 110.8,321.4 111.8,321.1 112.8,321.1 113.8,320.8 114.8,321.1 115.8,320.8 116.8,321.0 117.8,320.8 118.8,321.1 119.8,321.0 120.8,321.2 121.8,321.0 122.8,320.3 123.8,319.3 124.8,318.5 125.8,317.3 126.8,316.6 127.8,316.7 128.8,317.7 129.8,318.9 130.8,320.2 131.8,321.2 132.8,322.8 133.8,324.7 134.8,327.1 135.8,329.4 136.8,329.8 137.8,327.8 138.8,324.7 139.8,322.9 140.8,321.9 141.8,321.2 142.8,320.3 143.8,320.4 144.8,321.1 145.8,322.0 146.8,323.1 147.8,323.8 148.8,323.6 149.8,322.9 150.8,322.8 151.8,322.1 152.8,321.9 153.8,321.9 154.8,321.9 155.8,321.5 156.8,320.2 157.8,318.8 158.8,317.5 159.8,317.6 160.8,318.7 161.8,320.3 162.8,321.7 163.8,323.2 164.8,323.8 165.8,324.1 166.8,324.4 167.8,324.5 168.8,324.7 169.8,324.8 170.8,325.1 171.8,325.4 172.8,325.3 173.8,325.4 174.8,325.8 175.8,325.3 176.8,325.6 177.8,325.7 178.8,325.6 179.8,325.8 180.8,326.0 181.8,325.8 182.8,326.4 183.8,326.5 184.8,326.5 185.8,327.0 186.8,327.0 187.8,327.1 188.8,326.8 189.8,327.1 190.8,326.8 191.8,326.5 192.8,326.4 193.8,326.4 194.8,326.0 195.8,325.8 196.8,325.6 197.8,325.3 198.8,325.1 199.8,325.0 200.8,324.9 201.8,325.1 202.8,325.1 203.8,325.2 204.8,325.4 205.8,325.4 206.8,325.7 207.8,325.5 208.8,325.5 209.8,325.9 210.8,325.9 211.8,326.0 212.8,325.8 213.8,326.0 214.8,326.1 215.8,326.2 216.8,326.3 217.8,326.5 218.8,326.4 219.8,326.7 220.8,326.6 221.8,326.8 222.8,326.8 223.8,327.1 224.8,327.0 225.8,327.3 226.8,327.1 227.8,327.2 228.8,327.1 229.8,327.1 230.8,327.0 231.8,327.2 232.8,326.1 233.8,325.4 234.8,323.8 235.8,322.8 236.8,320.4 237.8,317.9 238.8,315.6 239.8,314.7 240.8,314.0 241.8,315.2 242.8,317.9 243.8,321.0 244.8,323.7 245.8,325.7 246.8,326.6 247.8,327.1 248.8,327.1 249.8,327.1 250.8,326.9 251.8,326.6 252.8,326.8 253.8,326.8 254.8,326.8 255.8,326.8 256.8,326.4 257.8,326.7 258.8,326.6 259.8,326.4 260.8,326.4 261.8,326.0 262.8,326.6 263.8,326.1 264.8,326.0 265.8,326.2 266.8,326.1 267.8,325.9 268.8,325.6 269.8,325.9 270.8,326.0 271.8,325.5 272.8,325.4 273.8,325.6 274.8,325.8 275.8,325.2 276.8,325.4 277.8,325.2 278.8,325.3 279.8,325.3 280.8,325.2 281.8,324.9 282.8,324.8 283.8,325.3 284.8,325.0 285.8,324.6 286.8,324.8 287.8,324.9 288.8,324.7 289.8,324.7 290.8,324.8 291.8,325.1 292.8,325.3 293.8,325.5 294.8,325.7 295.8,326.1 296.8,326.2 297.8,326.4 298.8,326.4 299.8,326.6 300.8,326.8 301.8,326.9 302.8,327.0 303.8,327.0 304.8,327.2 305.8,327.1 306.8,327.3 307.8,327.6 308.8,327.8 309.8,327.7 310.8,327.8 311.8,328.0 312.8,328.3 313.8,328.4 314.8,328.1 315.8,328.1 316.8,328.1 317.8,328.4 318.8,328.0 319.8,327.9 320.8,327.4 321.8,326.9 322.8,326.7 323.8,326.3 324.8,326.3 325.8,326.1 326.8,326.3 327.8,326.0 328.8,326.2 329.8,326.1 330.8,326.3 331.8,326.5 332.8,326.4 333.8,326.6 334.8,326.6 335.8,326.7 336.8,327.0 337.8,327.0 338.8,327.0 339.8,327.2 340.8,327.1 341.8,327.1 342.8,327.5 343.8,327.5 344.8,327.9 345.8,327.6 346.8,327.7 347.8,327.7 348.8,326.9 349.8,326.5 350.8,326.3 351.8,325.8 352.8,325.5 353.8,324.8 354.8,324.8 355.8,324.2 356.8,323.5 357.8,323.3 358.8,322.9 359.8,322.5 360.8,322.1 361.8,321.4 362.8,320.8 363.8,320.6 364.8,319.9 365.8,319.4 366.8,319.0 367.8,319.1 368.8,318.9 369.8,319.1 370.8,318.9 371.8,319.2 372.8,319.4 373.8,320.0 374.8,320.4 375.8,320.5 376.8,320.9 377.8,321.4 378.8,321.5 379.8,321.8 380.8,322.1 381.8,322.6 382.8,323.0 383.8,323.0 384.8,323.2 385.8,323.4 386.8,323.6 387.8,323.7 388.8,323.6 389.8,323.9 390.8,324.0 391.8,324.5 392.8,324.8 393.8,325.1 394.8,325.6 395.8,326.1 396.8,326.3 397.8,326.4 398.8,326.8 399.8,326.7 400.8,327.0 401.8,327.1 402.8,327.3 403.8,327.3 404.8,327.0 405.8,327.2 406.8,327.2 407.8,327.1 408.8,327.2 409.8,327.1 410.8,327.0 411.8,326.9 412.8,326.9 413.8,326.8 414.8,326.8 415.8,326.9 416.8,326.8 417.8,326.8 418.8,326.5 419.8,326.9 420.8,326.5 421.8,326.1 422.8,326.4 423.8,326.5 424.8,326.3 425.8,326.1 426.8,326.4 427.8,326.3 428.8,326.3 429.8,326.4 430.8,325.9 431.8,326.4 432.8,326.5 433.8,326.5 434.8,326.4 435.8,326.4 436.8,326.3 437.8,326.4 438.8,326.7 439.8,326.4 440.8,326.5 441.8,326.5 442.8,326.7 443.8,326.6 444.8,326.6 445.8,326.5 446.8,326.8 447.8,326.5 448.8,326.5 449.8,326.7 450.8,326.7 451.8,326.7 452.8,326.5 453.8,327.0 454.8,326.6 455.8,326.5 456.8,326.0 457.8,325.4 458.8,325.2 459.8,324.7 460.8,324.7 461.8,324.6 462.8,325.3 463.8,325.8 464.8,326.6 465.8,326.8 466.8,326.5 467.8,326.7 468.8,326.7 469.8,326.6 470.8,326.8 471.8,326.5 472.8,326.6 473.8,326.6 474.8,326.8 475.8,326.6 476.8,326.8 477.8,326.5 478.8,326.5 479.8,326.5 480.8,326.6 481.8,326.6 482.8,327.1 483.8,326.5 484.8,326.7 485.8,326.7 486.8,326.7 487.8,326.9 488.8,326.7 489.8,326.5 490.8,326.2 491.8,326.3 492.8,326.0 493.8,325.4 494.8,325.6 495.8,325.3 496.8,325.8 497.8,326.3 498.8,326.3 499.8,326.4 500.8,327.0 501.8,326.5 502.8,326.8 503.8,326.5 504.8,326.8 505.8,327.0 506.8,326.7 507.8,326.6 508.8,326.4 509.8,326.5 510.8,326.6 511.8,326.8 512.8,326.8 513.8,326.8 514.8,326.8 515.8,326.8 516.8,327.1 517.8,326.6 518.8,326.3 519.8,325.5 520.8,325.3 521.8,325.0 522.8,324.6 523.8,325.1 524.8,325.5 525.8,326.3 526.8,326.3 527.8,326.6 528.8,326.9 529.8,326.7 530.8,326.6 531.8,326.7 532.8,326.7 533.8,326.9 534.8,326.9 535.8,326.8 536.8,326.6 537.8,326.9 538.8,327.0 539.8,326.6 540.8,326.9 541.8,326.7 542.8,326.8 543.8,326.7 544.8,326.6 544.8,327.2 543.8,327.3 542.8,327.4 541.8,327.3 540.8,327.5 539.8,327.3 538.8,327.5 537.8,327.5 536.8,327.3 535.8,327.4 534.8,327.4 533.8,327.5 532.8,327.3 531.8,327.3 530.8,327.2 529.8,327.3 528.8,327.5 527.8,327.2 526.8,326.9 525.8,326.9 524.8,326.3 523.8,325.9 522.8,325.5 521.8,325.9 520.8,326.1 519.8,326.3 518.8,327.0 517.8,327.2 516.8,327.6 515.8,327.4 514.8,327.4 513.8,327.4 512.8,327.4 511.8,327.4 510.8,327.2 509.8,327.1 508.8,327.1 507.8,327.2 506.8,327.3 505.8,327.5 504.8,327.4 503.8,327.2 502.8,327.4 501.8,327.2 500.8,327.5 499.8,327.1 498.8,326.9 497.8,326.9 496.8,326.6 495.8,326.1 494.8,326.4 493.8,326.2 492.8,326.7 491.8,326.9 490.8,326.9 489.8,327.1 488.8,327.3 487.8,327.4 486.8,327.3 485.8,327.3 484.8,327.3 483.8,327.2 482.8,327.6 481.8,327.2 480.8,327.2 479.8,327.1 478.8,327.1 477.8,327.1 476.8,327.3 475.8,327.2 474.8,327.3 473.8,327.2 472.8,327.2 471.8,327.2 470.8,327.4 469.8,327.2 468.8,327.3 467.8,327.3 466.8,327.1 465.8,327.3 464.8,327.2 463.8,326.5 462.8,326.1 461.8,325.5 460.8,325.6 459.8,325.6 458.8,326.0 457.8,326.1 456.8,326.7 455.8,327.1 454.8,327.2 453.8,327.5 452.8,327.1 451.8,327.3 450.8,327.3 449.8,327.3 448.8,327.2 447.8,327.2 446.8,327.3 445.8,327.2 444.8,327.2 443.8,327.2 442.8,327.3 441.8,327.1 440.8,327.1 439.8,327.0 438.8,327.3 437.8,327.1 436.8,327.0 435.8,327.0 434.8,327.0 433.8,327.1 432.8,327.1 431.8,327.0 430.8,326.6 429.8,327.1 428.8,327.0 427.8,326.9 426.8,327.0 425.8,326.8 424.8,327.0 423.8,327.1 422.8,327.1 421.8,326.8 420.8,327.2 419.8,327.4 418.8,327.1 417.8,327.4 416.8,327.4 415.8,327.5 414.8,327.4 413.8,327.4 412.8,327.5 411.8,327.5 410.8,327.6 409.8,327.7 408.8,327.7 407.8,327.7 406.8,327.7 405.8,327.8 404.8,327.6 403.8,327.8 402.8,327.8 401.8,327.7 400.8,327.6 399.8,327.3 398.8,327.4 397.8,327.1 396.8,327.0 395.8,326.7 394.8,326.4 393.8,325.9 392.8,325.6 391.8,325.3 390.8,324.9 389.8,324.8 388.8,324.6 387.8,324.6 386.8,324.5 385.8,324.3 384.8,324.1 383.8,324.0 382.8,324.0 381.8,323.6 380.8,323.2 379.8,322.9 378.8,322.7 377.8,322.5 376.8,322.1 375.8,321.8 374.8,321.6 373.8,321.3 372.8,320.8 371.8,320.6 370.8,320.4 369.8,320.5 368.8,320.4 367.8,320.5 366.8,320.5 365.8,320.8 364.8,321.3 363.8,321.8 362.8,322.1 361.8,322.6 360.8,323.2 359.8,323.5 358.8,323.9 357.8,324.3 356.8,324.4 355.8,325.0 354.8,325.5 353.8,325.6 352.8,326.1 351.8,326.4 350.8,326.8 349.8,327.0 348.8,327.4 347.8,328.0 346.8,328.0 345.8,328.0 344.8,328.2 343.8,327.9 342.8,327.8 341.8,327.5 340.8,327.5 339.8,327.6 338.8,327.5 337.8,327.4 336.8,327.4 335.8,327.2 334.8,327.1 333.8,327.1 332.8,327.0 331.8,327.0 330.8,326.8 329.8,326.7 328.8,326.7 327.8,326.6 326.8,326.8 325.8,326.7 324.8,326.8 323.8,326.9 322.8,327.2 321.8,327.4 320.8,327.7 319.8,328.2 318.8,328.3 317.8,328.7 316.8,328.4 315.8,328.4 314.8,328.4 313.8,328.6 312.8,328.5 311.8,328.3 310.8,328.2 309.8,328.1 308.8,328.1 307.8,328.0 306.8,327.7 305.8,327.6 304.8,327.6 303.8,327.5 302.8,327.5 301.8,327.3 300.8,327.3 299.8,327.2 298.8,326.9 297.8,327.0 296.8,326.8 295.8,326.7 294.8,326.3 293.8,326.2 292.8,326.0 291.8,325.8 290.8,325.6 289.8,325.5 288.8,325.5 287.8,325.7 286.8,325.6 285.8,325.4 284.8,325.8 283.8,326.0 282.8,325.6 281.8,325.7 280.8,326.0 279.8,326.0 278.8,326.0 277.8,325.9 276.8,326.1 275.8,326.0 274.8,326.5 273.8,326.3 272.8,326.1 271.8,326.3 270.8,326.6 269.8,326.6 268.8,326.3 267.8,326.5 266.8,326.7 265.8,326.8 264.8,326.7 263.8,326.8 262.8,327.2 261.8,326.7 260.8,327.0 259.8,327.0 258.8,327.2 257.8,327.3 256.8,327.0 255.8,327.3 254.8,327.4 253.8,327.3 252.8,327.4 251.8,327.2 250.8,327.5 249.8,327.6 248.8,327.6 247.8,327.6 246.8,327.2 245.8,326.4 244.8,324.5 243.8,321.8 242.8,318.9 241.8,316.5 240.8,315.4 239.8,316.0 238.8,316.8 237.8,319.0 236.8,321.4 235.8,323.9 234.8,324.8 233.8,326.1 232.8,326.8 231.8,327.7 230.8,327.5 229.8,327.7 228.8,327.7 227.8,327.7 226.8,327.6 225.8,327.8 224.8,327.6 223.8,327.6 222.8,327.4 221.8,327.4 220.8,327.2 219.8,327.3 218.8,327.0 217.8,327.1 216.8,326.9 215.8,326.9 214.8,326.8 213.8,326.7 212.8,326.6 211.8,326.7 210.8,326.6 209.8,326.6 208.8,326.2 207.8,326.2 206.8,326.4 205.8,326.2 204.8,326.2 203.8,326.0 202.8,325.9 201.8,326.0 200.8,325.7 199.8,325.8 198.8,325.9 197.8,326.1 196.8,326.3 195.8,326.5 194.8,326.7 193.8,327.0 192.8,327.1 191.8,327.2 190.8,327.4 189.8,327.7 188.8,327.4 187.8,327.6 186.8,327.6 185.8,327.5 184.8,327.1 183.8,327.1 182.8,327.1 181.8,326.5 180.8,326.7 179.8,326.5 178.8,326.4 177.8,326.5 176.8,326.4 175.8,326.1 174.8,326.5 173.8,326.2 172.8,326.2 171.8,326.2 170.8,326.0 169.8,325.7 168.8,325.6 167.8,325.4 166.8,325.3 165.8,325.1 164.8,324.9 163.8,324.3 162.8,323.0 161.8,321.8 160.8,320.4 159.8,319.4 158.8,319.3 157.8,320.3 156.8,321.5 155.8,322.6 154.8,322.9 153.8,322.8 152.8,322.8 151.8,322.9 150.8,323.5 149.8,323.5 148.8,324.1 147.8,324.2 146.8,323.6 145.8,322.6 144.8,321.8 143.8,321.3 142.8,321.2 141.8,322.0 140.8,322.7 139.8,323.7 138.8,325.6 137.8,328.5 136.8,330.5 135.8,330.0 134.8,327.8 133.8,325.5 132.8,323.6 131.8,322.1 130.8,321.2 129.8,320.0 128.8,319.0 127.8,318.1 126.8,318.0 125.8,318.6 124.8,319.6 123.8,320.4 122.8,321.2 121.8,321.9 120.8,322.1 119.8,321.9 118.8,322.0 117.8,321.8 116.8,322.0 115.8,321.8 114.8,322.1 113.8,321.8 112.8,322.1 111.8,322.2 110.8,322.4 109.8,322.7 108.8,322.5 107.8,322.5 106.8,322.6 105.8,323.0 104.8,323.1 103.8,323.1 102.8,323.6 101.8,323.8 100.8,324.1 99.8,324.3 98.8,324.8 97.8,325.0 96.8,325.2 95.8,325.3 94.8,325.7 93.8,325.9 92.8,326.1 91.8,326.7 90.8,326.8 89.8,327.2 88.8,327.1 87.8,327.1 86.8,327.4 85.8,327.5 84.8,327.5 83.8,327.3 82.8,327.4 81.8,327.4 80.8,327.4 79.8,327.7 78.8,327.5 77.8,327.7 76.8,327.7 75.8,327.8 74.8,327.6 73.8,327.5 72.8,327.6 71.8,327.7 70.8,327.9 69.8,327.9 68.8,327.8 67.8,327.4 66.8,327.6 65.8,327.4 64.8,327.3 63.8,327.3 62.8,327.5 61.8,327.1 60.8,327.1 59.8,327.1 58.8,327.0 57.8,327.0 56.8,326.8 55.8,326.7 54.8,326.5 53.8,326.6 52.8,326.5 51.8,326.4 50.8,326.3 49.8,326.4 48.8,326.3 47.8,326.1 46.8,326.2 45.8,326.1 44.8,326.1 43.8,326.0 42.8,326.0 41.8,326.2 40.8,325.8 39.8,325.8 38.8,326.0 37.8,326.0 36.8,325.9 35.8,326.2 34.8,326.1 33.8,326.0 32.8,326.0" fill="#ff00ff"/><polygon points="32.8,323.7 33.8,323.7 34.8,323.9 35.8,324.0 36.8,323.6 37.8,323.8 38.8,323.8 39.8,323.5 40.8,323.4 41.8,324.1 42.8,323.7 43.8,323.8 44.8,323.9 45.8,324.0 46.8,324.2 47.8,323.9 48.8,324.2 49.8,324.4 50.8,324.3 51.8,324.5 52.8,324.6 53.8,324.7 54.8,324.6 55.8,324.9 56.8,325.1 57.8,325.3 58.8,325.3 59.8,325.6 60.8,325.5 61.8,325.6 62.8,326.1 63.8,325.8 64.8,325.8 65.8,326.0 66.8,326.4 67.8,326.1 68.8,326.6 69.8,326.7 70.8,326.7 71.8,326.5 72.8,326.3 73.8,326.2 74.8,326.4 75.8,326.6 76.8,326.4 77.8,326.5 78.8,326.3 79.8,326.5 80.8,326.2 81.8,326.0 82.8,326.1 83.8,326.0 84.8,326.2 85.8,326.3 86.8,326.1 87.8,325.7 88.8,325.7 89.8,325.8 90.8,325.2 91.8,325.1 92.8,324.2 93.8,324.0 94.8,323.7 95.8,323.1 96.8,323.0 97.8,322.7 98.8,322.4 99.8,321.8 100.8,321.5 101.8,321.2 102.8,320.9 103.8,320.2 104.8,320.2 105.8,320.1 106.8,319.6 107.8,319.5 108.8,319.6 109.8,319.9 110.8,319.5 111.8,319.2 112.8,319.2 113.8,318.8 114.8,319.3 115.8,318.9 116.8,319.3 117.8,319.0 118.8,319.4 119.8,319.4 120.8,319.7 121.8,319.5 122.8,318.6 123.8,317.4 124.8,316.4 125.8,314.9 126.8,314.0 127.8,314.1 128.8,315.4 129.8,316.7 130.8,318.4 131.8,319.5 132.8,321.4 133.8,323.4 134.8,325.8 135.8,328.2 136.8,328.5 137.8,326.3 138.8,323.1 139.8,321.3 140.8,320.4 141.8,319.6 142.8,318.6 143.8,318.9 144.8,319.7 145.8,320.8 146.8,322.2 147.8,323.0 148.8,322.6 149.8,321.7 150.8,321.5 151.8,320.6 152.8,320.2 153.8,320.1 154.8,320.1 155.8,319.6 156.8,317.8 157.8,316.0 158.8,314.3 159.8,314.3 160.8,315.7 161.8,317.6 162.8,319.4 163.8,321.2 164.8,321.9 165.8,322.3 166.8,322.6 167.8,322.8 168.8,323.1 169.8,323.1 170.8,323.6 171.8,323.9 172.8,323.8 173.8,323.9 174.8,324.4 175.8,323.8 176.8,324.2 177.8,324.3 178.8,324.2 179.8,324.4 180.8,324.7 181.8,324.4 182.8,325.2 183.8,325.3 184.8,325.3 185.8,325.9 186.8,325.9 187.8,326.0 188.8,325.7 189.8,326.1 190.8,325.7 191.8,325.4 192.8,325.2 193.8,325.2 194.8,324.6 195.8,324.4 196.8,324.1 197.8,323.7 198.8,323.5 199.8,323.4 200.8,323.3 201.8,323.6 202.8,323.6 203.8,323.6 204.8,323.9 205.8,324.0 206.8,324.3 207.8,324.0 208.8,324.0 209.8,324.6 210.8,324.5 211.8,324.7 212.8,324.5 213.8,324.7 214.8,324.9 215.8,325.0 216.8,325.0 217.8,325.4 218.8,325.2 219.8,325.6 220.8,325.5 221.8,325.8 222.8,325.7 223.8,326.1 224.8,326.0 225.8,326.4 226.8,326.1 227.8,326.3 228.8,326.2 229.8,326.2 230.8,326.0 231.8,326.2 232.8,324.9 233.8,323.9 234.8,322.0 235.8,320.9 236.8,318.3 237.8,315.9 238.8,313.3 239.8,312.2 240.8,311.3 241.8,312.9 242.8,316.1 243.8,319.4 244.8,322.2 245.8,324.4 246.8,325.4 247.8,326.2 248.8,326.1 249.8,326.1 250.8,325.9 251.8,325.5 252.8,325.8 253.8,325.7 254.8,325.8 255.8,325.7 256.8,325.3 257.8,325.7 258.8,325.5 259.8,325.3 260.8,325.3 261.8,324.8 262.8,325.5 263.8,324.9 264.8,324.8 265.8,325.1 266.8,324.9 267.8,324.6 268.8,324.3 269.8,324.7 270.8,324.8 271.8,324.2 272.8,324.0 273.8,324.3 274.8,324.6 275.8,323.8 276.8,324.1 277.8,323.7 278.8,323.9 279.8,323.9 280.8,323.8 281.8,323.4 282.8,323.3 283.8,323.9 284.8,323.6 285.8,323.0 286.8,323.3 287.8,323.4 288.8,323.1 289.8,323.1 290.8,323.3 291.8,323.7 292.8,323.9 293.8,324.3 294.8,324.4 295.8,324.9 296.8,325.2 297.8,325.4 298.8,325.3 299.8,325.7 300.8,325.9 301.8,325.9 302.8,326.1 303.8,326.1 304.8,326.4 305.8,326.3 306.8,326.5 307.8,327.0 308.8,327.2 309.8,327.1 310.8,327.2 311.8,327.4 312.8,327.7 313.8,327.9 314.8,327.5 315.8,327.5 316.8,327.6 317.8,328.0 318.8,327.4 319.8,327.3 320.8,326.6 321.8,326.1 322.8,325.8 323.8,325.3 324.8,325.3 325.8,325.0 326.8,325.3 327.8,325.0 328.8,325.1 329.8,325.1 330.8,325.3 331.8,325.6 332.8,325.5 333.8,325.8 334.8,325.7 335.8,325.9 336.8,326.2 337.8,326.2 338.8,326.3 339.8,326.5 340.8,326.4 341.8,326.3 342.8,326.8 343.8,326.9 344.8,327.3 345.8,327.0 346.8,327.1 347.8,327.1 348.8,326.2 349.8,325.6 350.8,325.3 351.8,324.7 352.8,324.3 353.8,323.5 354.8,323.4 355.8,322.7 356.8,321.8 357.8,321.6 358.8,321.0 359.8,320.5 360.8,320.1 361.8,319.2 362.8,318.5 363.8,318.2 364.8,317.4 365.8,316.7 366.8,316.3 367.8,316.4 368.8,316.1 369.8,316.4 370.8,316.2 371.8,316.5 372.8,316.8 373.8,317.5 374.8,318.0 375.8,318.2 376.8,318.6 377.8,319.2 378.8,319.4 379.8,319.7 380.8,320.1 381.8,320.7 382.8,321.2 383.8,321.2 384.8,321.4 385.8,321.7 386.8,321.9 387.8,322.1 388.8,321.9 389.8,322.2 390.8,322.4 391.8,322.9 392.8,323.3 393.8,323.6 394.8,324.3 395.8,324.9 396.8,325.2 397.8,325.3 398.8,325.7 399.8,325.6 400.8,326.0 401.8,326.1 402.8,326.4 403.8,326.3 404.8,326.0 405.8,326.2 406.8,326.1 407.8,326.1 408.8,326.2 409.8,326.1 410.8,326.0 411.8,325.8 412.8,325.8 413.8,325.8 414.8,325.8 415.8,325.9 416.8,325.7 417.8,325.7 418.8,325.3 419.8,325.8 420.8,325.4 421.8,324.8 422.8,325.2 423.8,325.3 424.8,325.1 425.8,324.9 426.8,325.1 427.8,325.0 428.8,325.1 429.8,325.2 430.8,324.6 431.8,325.2 432.8,325.3 433.8,325.3 434.8,325.2 435.8,325.2 436.8,325.1 437.8,325.2 438.8,325.6 439.8,325.2 440.8,325.4 441.8,325.4 442.8,325.6 443.8,325.5 444.8,325.5 445.8,325.4 446.8,325.7 447.8,325.4 448.8,325.4 449.8,325.7 450.8,325.6 451.8,325.6 452.8,325.3 453.8,326.0 454.8,325.5 455.8,325.4 456.8,324.7 457.8,323.9 458.8,323.7 459.8,323.1 460.8,323.1 461.8,323.0 462.8,323.8 463.8,324.5 464.8,325.5 465.8,325.7 466.8,325.3 467.8,325.6 468.8,325.6 469.8,325.5 470.8,325.8 471.8,325.4 472.8,325.5 473.8,325.5 474.8,325.7 475.8,325.4 476.8,325.7 477.8,325.4 478.8,325.3 479.8,325.4 480.8,325.5 481.8,325.4 482.8,326.1 483.8,325.4 484.8,325.6 485.8,325.5 486.8,325.6 487.8,325.8 488.8,325.6 489.8,325.4 490.8,325.0 491.8,325.0 492.8,324.8 493.8,324.0 494.8,324.2 495.8,323.8 496.8,324.5 497.8,325.0 498.8,325.1 499.8,325.2 500.8,325.9 501.8,325.4 502.8,325.7 503.8,325.4 504.8,325.7 505.8,325.9 506.8,325.6 507.8,325.5 508.8,325.2 509.8,325.3 510.8,325.5 511.8,325.7 512.8,325.7 513.8,325.7 514.8,325.8 515.8,325.6 516.8,326.0 517.8,325.4 518.8,325.1 519.8,324.0 520.8,323.8 521.8,323.4 522.8,322.9 523.8,323.5 524.8,324.1 525.8,325.0 526.8,325.0 527.8,325.4 528.8,325.8 529.8,325.6 530.8,325.4 531.8,325.5 532.8,325.6 533.8,325.8 534.8,325.8 535.8,325.6 536.8,325.5 537.8,325.8 538.8,325.9 539.8,325.5 540.8,325.9 541.8,325.5 542.8,325.7 543.8,325.6 544.8,325.4 544.8,326.7 543.8,326.8 542.8,326.9 541.8,326.7 540.8,327.0 539.8,326.7 538.8,327.0 537.8,327.0 536.8,326.7 535.8,326.8 534.8,326.9 533.8,327.0 532.8,326.8 531.8,326.8 530.8,326.7 529.8,326.8 528.8,327.0 527.8,326.7 526.8,326.4 525.8,326.4 524.8,325.6 523.8,325.2 522.8,324.8 521.8,325.1 520.8,325.4 519.8,325.6 518.8,326.4 517.8,326.7 516.8,327.2 515.8,326.8 514.8,326.9 513.8,326.8 512.8,326.9 511.8,326.8 510.8,326.7 509.8,326.6 508.8,326.5 507.8,326.7 506.8,326.8 505.8,327.1 504.8,326.9 503.8,326.6 502.8,326.9 501.8,326.6 500.8,327.0 499.8,326.5 498.8,326.4 497.8,326.4 496.8,325.9 495.8,325.4 494.8,325.7 493.8,325.6 492.8,326.1 491.8,326.4 490.8,326.3 489.8,326.6 488.8,326.8 487.8,327.0 486.8,326.8 485.8,326.7 484.8,326.8 483.8,326.6 482.8,327.1 481.8,326.7 480.8,326.7 479.8,326.6 478.8,326.6 477.8,326.6 476.8,326.8 475.8,326.7 474.8,326.8 473.8,326.7 472.8,326.7 471.8,326.6 470.8,326.9 469.8,326.7 468.8,326.8 467.8,326.8 466.8,326.6 465.8,326.8 464.8,326.7 463.8,325.9 462.8,325.4 461.8,324.8 460.8,324.8 459.8,324.8 458.8,325.3 457.8,325.5 456.8,326.1 455.8,326.6 454.8,326.7 453.8,327.1 452.8,326.6 451.8,326.8 450.8,326.8 449.8,326.8 448.8,326.6 447.8,326.6 446.8,326.8 445.8,326.6 444.8,326.7 443.8,326.7 442.8,326.8 441.8,326.6 440.8,326.6 439.8,326.5 438.8,326.8 437.8,326.5 436.8,326.4 435.8,326.5 434.8,326.5 433.8,326.6 432.8,326.6 431.8,326.5 430.8,326.0 429.8,326.5 428.8,326.4 427.8,326.3 426.8,326.4 425.8,326.2 424.8,326.4 423.8,326.6 422.8,326.5 421.8,326.2 420.8,326.6 419.8,327.0 418.8,326.6 417.8,326.9 416.8,326.9 415.8,327.0 414.8,326.9 413.8,326.9 412.8,327.0 411.8,327.0 410.8,327.1 409.8,327.2 408.8,327.2 407.8,327.2 406.8,327.2 405.8,327.3 404.8,327.1 403.8,327.3 402.8,327.4 401.8,327.2 400.8,327.1 399.8,326.8 398.8,326.9 397.8,326.5 396.8,326.4 395.8,326.2 394.8,325.8 393.8,325.2 392.8,324.9 391.8,324.6 390.8,324.2 389.8,324.0 388.8,323.8 387.8,323.9 386.8,323.7 385.8,323.5 384.8,323.3 383.8,323.1 382.8,323.1 381.8,322.7 380.8,322.3 379.8,321.9 378.8,321.7 377.8,321.5 376.8,321.0 375.8,320.7 374.8,320.5 373.8,320.2 372.8,319.6 371.8,319.4 370.8,319.1 369.8,319.3 368.8,319.1 367.8,319.3 366.8,319.2 365.8,319.6 364.8,320.1 363.8,320.7 362.8,321.0 361.8,321.6 360.8,322.3 359.8,322.6 358.8,323.0 357.8,323.5 356.8,323.6 355.8,324.3 354.8,324.9 353.8,324.9 352.8,325.6 351.8,325.9 350.8,326.3 349.8,326.6 348.8,327.0 347.8,327.7 346.8,327.7 345.8,327.7 344.8,327.9 343.8,327.6 342.8,327.5 341.8,327.1 340.8,327.2 339.8,327.2 338.8,327.1 337.8,327.0 336.8,327.1 335.8,326.8 334.8,326.7 333.8,326.7 332.8,326.5 331.8,326.6 330.8,326.3 329.8,326.2 328.8,326.2 327.8,326.1 326.8,326.4 325.8,326.2 324.8,326.4 323.8,326.4 322.8,326.8 321.8,327.0 320.8,327.4 319.8,327.9 318.8,328.0 317.8,328.5 316.8,328.2 315.8,328.1 314.8,328.1 313.8,328.4 312.8,328.3 311.8,328.0 310.8,327.9 309.8,327.8 308.8,327.9 307.8,327.7 306.8,327.4 305.8,327.2 304.8,327.3 303.8,327.1 302.8,327.1 301.8,326.9 300.8,326.9 299.8,326.7 298.8,326.5 297.8,326.5 296.8,326.3 295.8,326.2 294.8,325.8 293.8,325.6 292.8,325.4 291.8,325.2 290.8,324.9 289.8,324.8 288.8,324.8 287.8,325.0 286.8,324.9 285.8,324.7 284.8,325.1 283.8,325.4 282.8,324.9 281.8,325.0 280.8,325.3 279.8,325.4 278.8,325.4 277.8,325.3 276.8,325.5 275.8,325.3 274.8,325.9 273.8,325.7 272.8,325.5 271.8,325.7 270.8,326.1 269.8,326.0 268.8,325.7 267.8,326.0 266.8,326.2 265.8,326.3 264.8,326.1 263.8,326.2 262.8,326.7 261.8,326.1 260.8,326.5 259.8,326.5 258.8,326.7 257.8,326.8 256.8,326.5 255.8,326.9 254.8,326.9 253.8,326.8 252.8,326.9 251.8,326.7 250.8,327.0 249.8,327.2 248.8,327.2 247.8,327.2 246.8,326.6 245.8,325.8 244.8,323.8 243.8,321.1 242.8,318.1 241.8,315.4 240.8,314.2 239.8,314.9 238.8,315.7 237.8,318.1 236.8,320.5 235.8,323.0 234.8,324.0 233.8,325.5 232.8,326.2 231.8,327.3 230.8,327.1 229.8,327.2 228.8,327.2 227.8,327.3 226.8,327.2 225.8,327.4 224.8,327.1 223.8,327.2 222.8,326.9 221.8,326.9 220.8,326.7 219.8,326.8 218.8,326.5 217.8,326.6 216.8,326.3 215.8,326.3 214.8,326.2 213.8,326.1 212.8,325.9 211.8,326.1 210.8,326.0 209.8,326.0 208.8,325.6 207.8,325.6 206.8,325.8 205.8,325.5 204.8,325.5 203.8,325.3 202.8,325.2 201.8,325.3 200.8,325.0 199.8,325.1 198.8,325.2 197.8,325.4 196.8,325.7 195.8,325.9 194.8,326.1 193.8,326.5 192.8,326.5 191.8,326.6 190.8,326.9 189.8,327.2 188.8,326.9 187.8,327.1 186.8,327.1 185.8,327.0 184.8,326.6 183.8,326.6 182.8,326.5 181.8,325.9 180.8,326.1 179.8,325.9 178.8,325.7 177.8,325.8 176.8,325.7 175.8,325.4 174.8,325.9 173.8,325.5 172.8,325.5 171.8,325.5 170.8,325.3 169.8,324.9 168.8,324.9 167.8,324.6 166.8,324.5 165.8,324.3 164.8,324.0 163.8,323.3 162.8,321.9 161.8,320.5 160.8,319.0 159.8,317.8 158.8,317.8 157.8,319.0 156.8,320.4 155.8,321.7 154.8,322.0 153.8,322.0 152.8,322.0 151.8,322.2 150.8,322.9 149.8,323.0 148.8,323.6 147.8,323.9 146.8,323.2 145.8,322.1 144.8,321.2 143.8,320.6 142.8,320.4 141.8,321.3 140.8,322.1 139.8,323.0 138.8,324.8 137.8,327.9 136.8,329.9 135.8,329.5 134.8,327.2 133.8,324.8 132.8,322.9 131.8,321.3 130.8,320.3 129.8,319.0 128.8,317.9 127.8,316.9 126.8,316.8 125.8,317.5 124.8,318.7 123.8,319.5 122.8,320.4 121.8,321.2 120.8,321.3 119.8,321.1 118.8,321.2 117.8,321.0 116.8,321.2 115.8,321.0 114.8,321.3 113.8,320.9 112.8,321.3 111.8,321.3 110.8,321.6 109.8,321.8 108.8,321.6 107.8,321.6 106.8,321.7 105.8,322.1 104.8,322.2 103.8,322.2 102.8,322.8 101.8,323.0 100.8,323.3 99.8,323.5 98.8,324.1 97.8,324.3 96.8,324.5 95.8,324.6 94.8,325.1 93.8,325.3 92.8,325.5 91.8,326.2 90.8,326.3 89.8,326.8 88.8,326.7 87.8,326.7 86.8,327.0 85.8,327.1 84.8,327.1 83.8,326.9 82.8,327.0 81.8,327.0 80.8,327.1 79.8,327.4 78.8,327.2 77.8,327.3 76.8,327.3 75.8,327.4 74.8,327.2 73.8,327.1 72.8,327.2 71.8,327.4 70.8,327.5 69.8,327.5 68.8,327.4 67.8,327.0 66.8,327.3 65.8,327.0 64.8,326.9 63.8,326.9 62.8,327.1 61.8,326.6 60.8,326.6 59.8,326.7 58.8,326.5 57.8,326.5 56.8,326.3 55.8,326.2 54.8,325.9 53.8,326.1 52.8,326.0 51.8,325.8 50.8,325.7 49.8,325.8 48.8,325.7 47.8,325.5 46.8,325.6 45.8,325.5 44.8,325.4 43.8,325.4 42.8,325.3 41.8,325.6 40.8,325.1 39.8,325.1 38.8,325.3 37.8,325.4 36.8,325.2 35.8,325.5 34.8,325.4 33.8,325.3 32.8,325.3" fill="#00ffff"/><polygon points="32.8,322.0 33.8,322.0 34.8,322.2 35.8,322.4 36.8,321.8 37.8,322.1 38.8,322.1 39.8,321.8 40.8,321.6 41.8,322.5 42.8,322.0 43.8,322.2 44.8,322.3 45.8,322.4 46.8,322.6 47.8,322.3 48.8,322.7 49.8,322.9 50.8,322.8 51.8,323.0 52.8,323.2 53.8,323.3 54.8,323.1 55.8,323.5 56.8,323.8 57.8,324.1 58.8,324.1 59.8,324.4 60.8,324.3 61.8,324.4 62.8,325.1 63.8,324.7 64.8,324.7 65.8,325.0 66.8,325.4 67.8,325.0 68.8,325.6 69.8,325.9 70.8,325.9 71.8,325.6 72.8,325.3 73.8,325.2 74.8,325.4 75.8,325.7 76.8,325.5 77.8,325.6 78.8,325.3 79.8,325.7 80.8,325.2 81.8,325.0 82.8,325.2 83.8,325.0 84.8,325.3 85.8,325.3 86.8,325.1 87.8,324.7 88.8,324.6 89.8,324.8 90.8,324.1 91.8,323.9 92.8,322.8 93.8,322.5 94.8,322.2 95.8,321.4 96.8,321.4 97.8,321.0 98.8,320.7 99.8,319.9 100.8,319.6 101.8,319.2 102.8,318.9 103.8,318.0 104.8,318.1 105.8,317.9 106.8,317.4 107.8,317.2 108.8,317.4 109.8,317.7 110.8,317.4 111.8,317.0 112.8,317.0 113.8,316.6 114.8,317.2 115.8,316.8 116.8,317.2 117.8,317.0 118.8,317.5 119.8,317.5 120.8,317.9 121.8,317.7 122.8,316.6 123.8,315.2 124.8,314.0 125.8,312.2 126.8,311.1 127.8,311.2 128.8,312.7 129.8,314.3 130.8,316.2 131.8,317.6 132.8,319.8 133.8,321.9 134.8,324.4 135.8,326.8 136.8,327.0 137.8,324.6 138.8,321.2 139.8,319.5 140.8,318.7 141.8,317.9 142.8,316.7 143.8,317.2 144.8,318.1 145.8,319.5 146.8,321.1 147.8,322.0 148.8,321.5 149.8,320.3 150.8,320.0 151.8,318.8 152.8,318.3 153.8,318.1 154.8,318.0 155.8,317.3 156.8,315.0 157.8,312.7 158.8,310.6 159.8,310.5 160.8,312.2 161.8,314.5 162.8,316.6 163.8,318.8 164.8,319.8 165.8,320.2 166.8,320.6 167.8,320.8 168.8,321.1 169.8,321.2 170.8,321.8 171.8,322.2 172.8,322.1 173.8,322.2 174.8,322.8 175.8,322.1 176.8,322.6 177.8,322.7 178.8,322.5 179.8,322.9 180.8,323.2 181.8,322.8 182.8,323.8 183.8,323.9 184.8,324.0 185.8,324.7 186.8,324.7 187.8,324.9 188.8,324.4 189.8,325.0 190.8,324.5 191.8,324.0 192.8,323.8 193.8,323.8 194.8,323.1 195.8,322.9 196.8,322.5 197.8,322.0 198.8,321.7 199.8,321.6 200.8,321.4 201.8,321.8 202.8,321.8 203.8,321.9 204.8,322.2 205.8,322.3 206.8,322.7 207.8,322.3 208.8,322.4 209.8,323.1 210.8,323.0 211.8,323.2 212.8,323.0 213.8,323.2 214.8,323.4 215.8,323.6 216.8,323.6 217.8,324.0 218.8,323.8 219.8,324.3 220.8,324.2 221.8,324.5 222.8,324.5 223.8,324.9 224.8,324.8 225.8,325.4 226.8,325.0 227.8,325.2 228.8,325.0 229.8,325.1 230.8,324.8 231.8,325.1 232.8,323.4 233.8,322.2 234.8,319.9 235.8,318.7 236.8,316.0 237.8,313.6 238.8,310.6 239.8,309.4 240.8,308.2 241.8,310.2 242.8,314.0 243.8,317.6 244.8,320.5 245.8,322.9 246.8,324.1 247.8,325.0 248.8,325.0 249.8,325.0 250.8,324.7 251.8,324.3 252.8,324.6 253.8,324.5 254.8,324.6 255.8,324.5 256.8,323.9 257.8,324.4 258.8,324.3 259.8,324.0 260.8,324.0 261.8,323.4 262.8,324.3 263.8,323.5 264.8,323.4 265.8,323.7 266.8,323.5 267.8,323.2 268.8,322.8 269.8,323.3 270.8,323.4 271.8,322.7 272.8,322.5 273.8,322.8 274.8,323.1 275.8,322.2 276.8,322.5 277.8,322.1 278.8,322.3 279.8,322.3 280.8,322.2 281.8,321.6 282.8,321.6 283.8,322.3 284.8,321.9 285.8,321.2 286.8,321.6 287.8,321.7 288.8,321.3 289.8,321.4 290.8,321.6 291.8,322.0 292.8,322.4 293.8,322.8 294.8,323.0 295.8,323.6 296.8,323.9 297.8,324.2 298.8,324.1 299.8,324.5 300.8,324.8 301.8,324.9 302.8,325.1 303.8,325.1 304.8,325.5 305.8,325.4 306.8,325.7 307.8,326.2 308.8,326.4 309.8,326.3 310.8,326.5 311.8,326.8 312.8,327.2 313.8,327.3 314.8,326.9 315.8,326.9 316.8,327.0 317.8,327.5 318.8,326.8 319.8,326.6 320.8,325.8 321.8,325.1 322.8,324.8 323.8,324.2 324.8,324.1 325.8,323.8 326.8,324.1 327.8,323.7 328.8,323.9 329.8,323.9 330.8,324.1 331.8,324.5 332.8,324.4 333.8,324.7 334.8,324.7 335.8,324.9 336.8,325.3 337.8,325.3 338.8,325.4 339.8,325.6 340.8,325.5 341.8,325.4 342.8,326.1 343.8,326.2 344.8,326.7 345.8,326.4 346.8,326.4 347.8,326.4 348.8,325.3 349.8,324.6 350.8,324.2 351.8,323.5 352.8,323.0 353.8,322.0 354.8,321.9 355.8,321.0 356.8,319.8 357.8,319.6 358.8,318.9 359.8,318.3 360.8,317.7 361.8,316.6 362.8,315.8 363.8,315.4 364.8,314.5 365.8,313.6 366.8,313.1 367.8,313.2 368.8,313.0 369.8,313.3 370.8,313.0 371.8,313.5 372.8,313.8 373.8,314.6 374.8,315.2 375.8,315.5 376.8,316.0 377.8,316.7 378.8,317.0 379.8,317.3 380.8,317.8 381.8,318.5 382.8,319.2 383.8,319.1 384.8,319.4 385.8,319.7 386.8,319.9 387.8,320.1 388.8,319.9 389.8,320.3 390.8,320.5 391.8,321.1 392.8,321.6 393.8,322.0 394.8,322.8 395.8,323.5 396.8,323.8 397.8,323.9 398.8,324.4 399.8,324.3 400.8,324.7 401.8,324.9 402.8,325.2 403.8,325.1 404.8,324.8 405.8,325.1 406.8,325.0 407.8,324.9 408.8,325.0 409.8,325.0 410.8,324.8 411.8,324.6 412.8,324.6 413.8,324.5 414.8,324.5 415.8,324.6 416.8,324.4 417.8,324.5 418.8,323.9 419.8,324.6 420.8,324.0 421.8,323.3 422.8,323.9 423.8,324.0 424.8,323.7 425.8,323.4 426.8,323.8 427.8,323.6 428.8,323.7 429.8,323.9 430.8,323.1 431.8,323.8 432.8,324.0 433.8,324.0 434.8,323.8 435.8,323.8 436.8,323.7 437.8,323.9 438.8,324.3 439.8,323.8 440.8,324.1 441.8,324.1 442.8,324.4 443.8,324.2 444.8,324.2 445.8,324.1 446.8,324.4 447.8,324.1 448.8,324.1 449.8,324.4 450.8,324.3 451.8,324.4 452.8,324.0 453.8,324.8 454.8,324.2 455.8,324.1 456.8,323.2 457.8,322.2 458.8,321.9 459.8,321.2 460.8,321.2 461.8,321.1 462.8,322.2 463.8,322.9 464.8,324.2 465.8,324.4 466.8,324.0 467.8,324.3 468.8,324.3 469.8,324.2 470.8,324.5 471.8,324.1 472.8,324.3 473.8,324.1 474.8,324.4 475.8,324.1 476.8,324.4 477.8,324.0 478.8,324.0 479.8,324.1 480.8,324.1 481.8,324.1 482.8,324.9 483.8,324.1 484.8,324.3 485.8,324.2 486.8,324.3 487.8,324.6 488.8,324.4 489.8,324.0 490.8,323.6 491.8,323.6 492.8,323.3 493.8,322.3 494.8,322.6 495.8,322.1 496.8,322.9 497.8,323.6 498.8,323.6 499.8,323.8 500.8,324.7 501.8,324.1 502.8,324.5 503.8,324.1 504.8,324.5 505.8,324.7 506.8,324.3 507.8,324.2 508.8,323.9 509.8,324.0 510.8,324.2 511.8,324.4 512.8,324.4 513.8,324.4 514.8,324.5 515.8,324.4 516.8,324.9 517.8,324.1 518.8,323.6 519.8,322.4 520.8,322.0 521.8,321.6 522.8,321.0 523.8,321.7 524.8,322.4 525.8,323.6 526.8,323.6 527.8,324.1 528.8,324.6 529.8,324.3 530.8,324.1 531.8,324.2 532.8,324.3 533.8,324.5 534.8,324.5 535.8,324.3 536.8,324.2 537.8,324.6 538.8,324.7 539.8,324.1 540.8,324.6 541.8,324.2 542.8,324.4 543.8,324.2 544.8,324.0 544.8,325.5 543.8,325.6 542.8,325.8 541.8,325.6 540.8,325.9 539.8,325.6 538.8,326.0 537.8,325.9 536.8,325.6 535.8,325.7 534.8,325.9 533.8,325.9 532.8,325.6 531.8,325.6 530.8,325.5 529.8,325.7 528.8,325.9 527.8,325.5 526.8,325.1 525.8,325.1 524.8,324.2 523.8,323.7 522.8,323.1 521.8,323.6 520.8,323.9 519.8,324.1 518.8,325.2 517.8,325.5 516.8,326.1 515.8,325.7 514.8,325.8 513.8,325.7 512.8,325.8 511.8,325.7 510.8,325.6 509.8,325.4 508.8,325.3 507.8,325.6 506.8,325.6 505.8,326.0 504.8,325.8 503.8,325.5 502.8,325.8 501.8,325.5 500.8,326.0 499.8,325.3 498.8,325.1 497.8,325.1 496.8,324.6 495.8,323.9 494.8,324.3 493.8,324.1 492.8,324.9 491.8,325.1 490.8,325.1 489.8,325.4 488.8,325.7 487.8,325.9 486.8,325.7 485.8,325.6 484.8,325.7 483.8,325.5 482.8,326.1 481.8,325.5 480.8,325.5 479.8,325.5 478.8,325.4 477.8,325.5 476.8,325.8 475.8,325.5 474.8,325.7 473.8,325.5 472.8,325.6 471.8,325.5 470.8,325.9 469.8,325.6 468.8,325.7 467.8,325.7 466.8,325.4 465.8,325.8 464.8,325.6 463.8,324.6 462.8,324.0 461.8,323.1 460.8,323.2 459.8,323.2 458.8,323.8 457.8,324.0 456.8,324.8 455.8,325.5 454.8,325.6 453.8,326.0 452.8,325.4 451.8,325.7 450.8,325.7 449.8,325.7 448.8,325.5 447.8,325.5 446.8,325.8 445.8,325.5 444.8,325.6 443.8,325.6 442.8,325.7 441.8,325.5 440.8,325.5 439.8,325.3 438.8,325.6 437.8,325.3 436.8,325.2 435.8,325.3 434.8,325.3 433.8,325.4 432.8,325.4 431.8,325.3 430.8,324.7 429.8,325.3 428.8,325.2 427.8,325.1 426.8,325.2 425.8,325.0 424.8,325.2 423.8,325.4 422.8,325.3 421.8,324.9 420.8,325.5 419.8,325.9 418.8,325.4 417.8,325.8 416.8,325.8 415.8,325.9 414.8,325.8 413.8,325.8 412.8,325.9 411.8,325.9 410.8,326.1 409.8,326.2 408.8,326.2 407.8,326.2 406.8,326.2 405.8,326.3 404.8,326.1 403.8,326.4 402.8,326.4 401.8,326.2 400.8,326.0 399.8,325.7 398.8,325.8 397.8,325.4 396.8,325.2 395.8,325.0 394.8,324.4 393.8,323.8 392.8,323.4 391.8,323.1 390.8,322.5 389.8,322.3 388.8,322.1 387.8,322.2 386.8,322.0 385.8,321.8 384.8,321.5 383.8,321.3 382.8,321.4 381.8,320.8 380.8,320.3 379.8,319.9 378.8,319.6 377.8,319.4 376.8,318.8 375.8,318.3 374.8,318.2 373.8,317.7 372.8,317.0 371.8,316.7 370.8,316.4 369.8,316.6 368.8,316.3 367.8,316.6 366.8,316.5 365.8,316.9 364.8,317.6 363.8,318.3 362.8,318.6 361.8,319.4 360.8,320.2 359.8,320.7 358.8,321.2 357.8,321.8 356.8,321.9 355.8,322.8 354.8,323.5 353.8,323.6 352.8,324.4 351.8,324.8 350.8,325.4 349.8,325.7 348.8,326.2 347.8,327.1 346.8,327.1 345.8,327.1 344.8,327.4 343.8,326.9 342.8,326.9 341.8,326.4 340.8,326.4 339.8,326.5 338.8,326.3 337.8,326.2 336.8,326.3 335.8,325.9 334.8,325.8 333.8,325.8 332.8,325.6 331.8,325.6 330.8,325.4 329.8,325.2 328.8,325.2 327.8,325.1 326.8,325.4 325.8,325.1 324.8,325.4 323.8,325.4 322.8,325.9 321.8,326.2 320.8,326.7 319.8,327.3 318.8,327.4 317.8,328.0 316.8,327.6 315.8,327.6 314.8,327.6 313.8,327.9 312.8,327.8 311.8,327.5 310.8,327.3 309.8,327.1 308.8,327.2 307.8,327.0 306.8,326.6 305.8,326.4 304.8,326.5 303.8,326.2 302.8,326.2 301.8,326.0 300.8,326.0 299.8,325.7 298.8,325.4 297.8,325.5 296.8,325.2 295.8,325.0 294.8,324.5 293.8,324.4 292.8,324.0 291.8,323.8 290.8,323.4 289.8,323.3 288.8,323.2 287.8,323.6 286.8,323.4 285.8,323.1 284.8,323.7 283.8,324.0 282.8,323.4 281.8,323.5 280.8,323.9 279.8,324.0 278.8,324.0 277.8,323.8 276.8,324.2 275.8,323.9 274.8,324.7 273.8,324.4 272.8,324.1 271.8,324.3 270.8,324.9 269.8,324.8 268.8,324.4 267.8,324.7 266.8,325.0 265.8,325.1 264.8,324.9 263.8,325.0 262.8,325.6 261.8,324.9 260.8,325.4 259.8,325.4 258.8,325.6 257.8,325.7 256.8,325.3 255.8,325.8 254.8,325.9 253.8,325.8 252.8,325.8 251.8,325.6 250.8,326.0 249.8,326.2 248.8,326.2 247.8,326.2 246.8,325.5 245.8,324.5 244.8,322.3 243.8,319.5 242.8,316.2 241.8,313.1 240.8,311.5 239.8,312.4 238.8,313.4 237.8,316.1 236.8,318.5 235.8,321.0 234.8,322.1 233.8,324.0 232.8,325.0 231.8,326.3 230.8,326.0 229.8,326.2 228.8,326.2 227.8,326.3 226.8,326.2 225.8,326.5 224.8,326.1 223.8,326.2 222.8,325.8 221.8,325.8 220.8,325.6 219.8,325.7 218.8,325.3 217.8,325.5 216.8,325.1 215.8,325.1 214.8,325.0 213.8,324.8 212.8,324.6 211.8,324.8 210.8,324.6 209.8,324.7 208.8,324.1 207.8,324.1 206.8,324.4 205.8,324.1 204.8,324.0 203.8,323.8 202.8,323.7 201.8,323.7 200.8,323.4 199.8,323.5 198.8,323.6 197.8,323.9 196.8,324.2 195.8,324.5 194.8,324.7 193.8,325.3 192.8,325.3 191.8,325.4 190.8,325.8 189.8,326.2 188.8,325.8 187.8,326.1 186.8,326.0 185.8,326.0 184.8,325.4 183.8,325.4 182.8,325.3 181.8,324.5 180.8,324.8 179.8,324.5 178.8,324.3 177.8,324.4 176.8,324.3 175.8,323.9 174.8,324.5 173.8,324.0 172.8,324.0 171.8,324.0 170.8,323.7 169.8,323.2 168.8,323.2 167.8,322.9 166.8,322.8 165.8,322.4 164.8,322.1 163.8,321.3 162.8,319.5 161.8,317.8 160.8,315.9 159.8,314.5 158.8,314.6 157.8,316.2 156.8,318.0 155.8,319.7 154.8,320.2 153.8,320.3 152.8,320.4 151.8,320.7 150.8,321.6 149.8,321.8 148.8,322.7 147.8,323.0 146.8,322.3 145.8,320.9 144.8,319.8 143.8,319.0 142.8,318.8 141.8,319.8 140.8,320.6 139.8,321.4 138.8,323.2 137.8,326.4 136.8,328.6 135.8,328.3 134.8,325.9 133.8,323.5 132.8,321.5 131.8,319.6 130.8,318.5 129.8,316.9 128.8,315.6 127.8,314.3 126.8,314.2 125.8,315.1 124.8,316.6 123.8,317.6 122.8,318.7 121.8,319.6 120.8,319.8 119.8,319.5 118.8,319.6 117.8,319.2 116.8,319.4 115.8,319.1 114.8,319.4 113.8,319.0 112.8,319.4 111.8,319.4 110.8,319.7 109.8,320.0 108.8,319.7 107.8,319.6 106.8,319.7 105.8,320.2 104.8,320.4 103.8,320.3 102.8,321.0 101.8,321.3 100.8,321.6 99.8,321.9 98.8,322.6 97.8,322.8 96.8,323.1 95.8,323.2 94.8,323.8 93.8,324.1 92.8,324.3 91.8,325.1 90.8,325.3 89.8,325.9 88.8,325.8 87.8,325.8 86.8,326.1 85.8,326.3 84.8,326.3 83.8,326.1 82.8,326.2 81.8,326.1 80.8,326.2 79.8,326.6 78.8,326.3 77.8,326.5 76.8,326.5 75.8,326.6 74.8,326.4 73.8,326.3 72.8,326.4 71.8,326.6 70.8,326.8 69.8,326.8 68.8,326.6 67.8,326.1 66.8,326.4 65.8,326.1 64.8,325.9 63.8,325.9 62.8,326.2 61.8,325.6 60.8,325.5 59.8,325.6 58.8,325.4 57.8,325.4 56.8,325.2 55.8,325.0 54.8,324.7 53.8,324.8 52.8,324.7 51.8,324.5 50.8,324.4 49.8,324.5 48.8,324.3 47.8,324.1 46.8,324.3 45.8,324.1 44.8,324.0 43.8,323.9 42.8,323.8 41.8,324.2 40.8,323.5 39.8,323.6 38.8,323.9 37.8,323.9 36.8,323.7 35.8,324.1 34.8,324.0 33.8,323.9 32.8,323.8" fill="#ff0000"/><polygon points="32.8,319.2 33.8,319.3 34.8,319.5 35.8,319.8 36.8,319.0 37.8,319.4 38.8,319.4 39.8,319.0 40.8,318.8 41.8,319.9 42.8,319.3 43.8,319.5 44.8,319.7 45.8,319.8 46.8,320.1 47.8,319.7 48.8,320.2 49.8,320.4 50.8,320.3 51.8,320.6 52.8,320.9 53.8,321.1 54.8,320.8 55.8,321.4 56.8,321.7 57.8,322.1 58.8,322.1 59.8,322.5 60.8,322.3 61.8,322.5 62.8,323.4 63.8,323.0 64.8,323.0 65.8,323.3 66.8,323.9 67.8,323.4 68.8,324.2 69.8,324.5 70.8,324.5 71.8,324.1 72.8,323.8 73.8,323.7 74.8,323.9 75.8,324.3 76.8,324.1 77.8,324.1 78.8,323.8 79.8,324.3 80.8,323.7 81.8,323.4 82.8,323.6 83.8,323.4 84.8,323.8 85.8,323.9 86.8,323.6 87.8,323.0 88.8,323.0 89.8,323.2 90.8,322.2 91.8,321.9 92.8,320.6 93.8,320.2 94.8,319.7 95.8,318.8 96.8,318.7 97.8,318.3 98.8,317.9 99.8,316.9 100.8,316.5 101.8,316.0 102.8,315.6 103.8,314.6 104.8,314.7 105.8,314.5 106.8,313.8 107.8,313.6 108.8,313.8 109.8,314.4 110.8,313.9 111.8,313.5 112.8,313.6 113.8,313.0 114.8,313.8 115.8,313.3 116.8,314.0 117.8,313.7 118.8,314.4 119.8,314.4 120.8,315.1 121.8,314.9 122.8,313.5 123.8,311.7 124.8,310.2 125.8,307.8 126.8,306.4 127.8,306.5 128.8,308.4 129.8,310.3 130.8,312.8 131.8,314.5 132.8,317.2 133.8,319.5 134.8,322.1 135.8,324.6 136.8,324.6 137.8,322.0 138.8,318.2 139.8,316.6 140.8,316.0 141.8,315.0 142.8,313.7 143.8,314.4 144.8,315.6 145.8,317.3 146.8,319.4 147.8,320.5 148.8,319.7 149.8,318.0 150.8,317.7 151.8,315.9 152.8,315.2 153.8,314.9 154.8,314.6 155.8,313.6 156.8,310.6 157.8,307.5 158.8,304.6 159.8,304.4 160.8,306.5 161.8,309.6 162.8,312.3 163.8,315.1 164.8,316.3 165.8,316.8 166.8,317.3 167.8,317.6 168.8,318.0 169.8,318.1 170.8,318.9 171.8,319.4 172.8,319.3 173.8,319.4 174.8,320.2 175.8,319.3 176.8,319.9 177.8,320.1 178.8,319.9 179.8,320.3 180.8,320.8 181.8,320.2 182.8,321.6 183.8,321.7 184.8,321.8 185.8,322.7 186.8,322.8 187.8,323.0 188.8,322.4 189.8,323.1 190.8,322.5 191.8,321.9 192.8,321.6 193.8,321.6 194.8,320.7 195.8,320.4 196.8,319.8 197.8,319.2 198.8,318.8 199.8,318.6 200.8,318.5 201.8,319.0 202.8,318.9 203.8,319.1 204.8,319.5 205.8,319.6 206.8,320.1 207.8,319.7 208.8,319.7 209.8,320.6 210.8,320.5 211.8,320.8 212.8,320.5 213.8,320.9 214.8,321.1 215.8,321.3 216.8,321.4 217.8,321.9 218.8,321.6 219.8,322.3 220.8,322.2 221.8,322.6 222.8,322.5 223.8,323.1 224.8,323.0 225.8,323.7 226.8,323.2 227.8,323.4 228.8,323.3 229.8,323.3 230.8,322.9 231.8,323.3 232.8,321.1 233.8,319.6 234.8,316.5 235.8,315.1 236.8,312.3 237.8,309.9 238.8,306.4 239.8,304.8 240.8,303.3 241.8,305.9 242.8,310.7 243.8,314.7 244.8,317.7 245.8,320.5 246.8,322.1 247.8,323.3 248.8,323.2 249.8,323.2 250.8,322.9 251.8,322.3 252.8,322.6 253.8,322.6 254.8,322.7 255.8,322.6 256.8,321.8 257.8,322.5 258.8,322.3 259.8,321.9 260.8,321.9 261.8,321.1 262.8,322.3 263.8,321.3 264.8,321.1 265.8,321.5 266.8,321.3 267.8,320.8 268.8,320.4 269.8,321.0 270.8,321.1 271.8,320.2 272.8,319.9 273.8,320.4 274.8,320.8 275.8,319.6 276.8,320.0 277.8,319.5 278.8,319.7 279.8,319.7 280.8,319.6 281.8,318.9 282.8,318.8 283.8,319.7 284.8,319.3 285.8,318.3 286.8,318.8 287.8,319.0 288.8,318.5 289.8,318.6 290.8,318.8 291.8,319.4 292.8,319.9 293.8,320.4 294.8,320.7 295.8,321.5 296.8,321.9 297.8,322.3 298.8,322.2 299.8,322.8 300.8,323.2 301.8,323.2 302.8,323.5 303.8,323.5 304.8,324.0 305.8,323.8 306.8,324.2 307.8,324.9 308.8,325.3 309.8,325.1 310.8,325.4 311.8,325.7 312.8,326.2 313.8,326.5 314.8,325.9 315.8,325.9 316.8,326.0 317.8,326.7 318.8,325.7 319.8,325.5 320.8,324.4 321.8,323.6 322.8,323.1 323.8,322.3 324.8,322.3 325.8,321.9 326.8,322.3 327.8,321.8 328.8,322.0 329.8,321.9 330.8,322.3 331.8,322.8 332.8,322.7 333.8,323.1 334.8,323.0 335.8,323.3 336.8,323.9 337.8,323.8 338.8,324.0 339.8,324.3 340.8,324.1 341.8,324.0 342.8,324.9 343.8,325.0 344.8,325.8 345.8,325.3 346.8,325.3 347.8,325.4 348.8,323.8 349.8,322.9 350.8,322.5 351.8,321.5 352.8,320.9 353.8,319.5 354.8,319.4 355.8,318.2 356.8,316.7 357.8,316.4 358.8,315.5 359.8,314.7 360.8,314.0 361.8,312.6 362.8,311.4 363.8,311.0 364.8,309.8 365.8,308.7 366.8,308.0 367.8,308.2 368.8,307.9 369.8,308.4 370.8,308.0 371.8,308.6 372.8,309.0 373.8,310.1 374.8,310.8 375.8,311.1 376.8,311.8 377.8,312.7 378.8,313.1 379.8,313.5 380.8,314.1 381.8,315.0 382.8,315.9 383.8,315.8 384.8,316.1 385.8,316.5 386.8,316.8 387.8,317.0 388.8,316.8 389.8,317.2 390.8,317.4 391.8,318.3 392.8,318.8 393.8,319.3 394.8,320.4 395.8,321.2 396.8,321.6 397.8,321.8 398.8,322.4 399.8,322.2 400.8,322.8 401.8,323.0 402.8,323.4 403.8,323.3 404.8,322.8 405.8,323.2 406.8,323.1 407.8,323.0 408.8,323.1 409.8,323.1 410.8,322.9 411.8,322.6 412.8,322.6 413.8,322.5 414.8,322.5 415.8,322.7 416.8,322.4 417.8,322.5 418.8,321.8 419.8,322.6 420.8,321.9 421.8,321.0 422.8,321.7 423.8,321.8 424.8,321.4 425.8,321.1 426.8,321.5 427.8,321.3 428.8,321.5 429.8,321.7 430.8,320.6 431.8,321.6 432.8,321.8 433.8,321.8 434.8,321.6 435.8,321.6 436.8,321.5 437.8,321.7 438.8,322.2 439.8,321.6 440.8,321.9 441.8,321.9 442.8,322.3 443.8,322.1 444.8,322.2 445.8,322.0 446.8,322.4 447.8,322.0 448.8,322.0 449.8,322.4 450.8,322.3 451.8,322.4 452.8,321.9 453.8,322.9 454.8,322.1 455.8,322.0 456.8,320.8 457.8,319.6 458.8,319.2 459.8,318.2 460.8,318.2 461.8,318.0 462.8,319.4 463.8,320.5 464.8,322.1 465.8,322.5 466.8,321.9 467.8,322.3 468.8,322.3 469.8,322.1 470.8,322.6 471.8,322.0 472.8,322.2 473.8,322.1 474.8,322.4 475.8,322.1 476.8,322.4 477.8,321.9 478.8,321.9 479.8,321.9 480.8,322.1 481.8,322.0 482.8,323.0 483.8,322.0 484.8,322.3 485.8,322.2 486.8,322.3 487.8,322.6 488.8,322.4 489.8,321.9 490.8,321.3 491.8,321.4 492.8,320.9 493.8,319.6 494.8,320.0 495.8,319.3 496.8,320.5 497.8,321.3 498.8,321.4 499.8,321.6 500.8,322.8 501.8,321.9 502.8,322.5 503.8,321.9 504.8,322.5 505.8,322.8 506.8,322.2 507.8,322.0 508.8,321.7 509.8,321.8 510.8,322.1 511.8,322.3 512.8,322.4 513.8,322.3 514.8,322.5 515.8,322.3 516.8,323.0 517.8,321.9 518.8,321.4 519.8,319.7 520.8,319.3 521.8,318.7 522.8,317.9 523.8,318.9 524.8,319.7 525.8,321.3 526.8,321.3 527.8,321.9 528.8,322.6 529.8,322.3 530.8,322.0 531.8,322.1 532.8,322.2 533.8,322.5 534.8,322.5 535.8,322.3 536.8,322.0 537.8,322.6 538.8,322.7 539.8,322.0 540.8,322.6 541.8,322.0 542.8,322.3 543.8,322.1 544.8,321.9 544.8,324.1 543.8,324.3 542.8,324.5 541.8,324.3 540.8,324.7 539.8,324.2 538.8,324.7 537.8,324.7 536.8,324.3 535.8,324.4 534.8,324.6 533.8,324.6 532.8,324.3 531.8,324.3 530.8,324.2 529.8,324.4 528.8,324.7 527.8,324.2 526.8,323.7 525.8,323.7 524.8,322.5 523.8,321.9 522.8,321.1 521.8,321.7 520.8,322.2 519.8,322.5 518.8,323.7 517.8,324.2 516.8,324.9 515.8,324.4 514.8,324.6 513.8,324.5 512.8,324.5 511.8,324.5 510.8,324.3 509.8,324.0 508.8,324.0 507.8,324.2 506.8,324.3 505.8,324.8 504.8,324.6 503.8,324.1 502.8,324.6 501.8,324.1 500.8,324.8 499.8,323.9 498.8,323.7 497.8,323.7 496.8,323.0 495.8,322.2 494.8,322.7 493.8,322.4 492.8,323.4 491.8,323.7 490.8,323.7 489.8,324.1 488.8,324.5 487.8,324.7 486.8,324.4 485.8,324.3 484.8,324.4 483.8,324.2 482.8,325.0 481.8,324.2 480.8,324.2 479.8,324.1 478.8,324.1 477.8,324.1 476.8,324.5 475.8,324.2 474.8,324.5 473.8,324.2 472.8,324.3 471.8,324.2 470.8,324.6 469.8,324.3 468.8,324.4 467.8,324.4 466.8,324.1 465.8,324.5 464.8,324.3 463.8,323.0 462.8,322.3 461.8,321.2 460.8,321.3 459.8,321.3 458.8,322.1 457.8,322.4 456.8,323.3 455.8,324.2 454.8,324.3 453.8,324.9 452.8,324.1 451.8,324.5 450.8,324.4 449.8,324.5 448.8,324.2 447.8,324.2 446.8,324.5 445.8,324.2 444.8,324.3 443.8,324.3 442.8,324.4 441.8,324.2 440.8,324.1 439.8,323.9 438.8,324.4 437.8,324.0 436.8,323.8 435.8,323.9 434.8,323.9 433.8,324.0 432.8,324.0 431.8,323.9 430.8,323.2 429.8,323.9 428.8,323.8 427.8,323.7 426.8,323.8 425.8,323.5 424.8,323.8 423.8,324.1 422.8,323.9 421.8,323.4 420.8,324.1 419.8,324.6 418.8,324.0 417.8,324.6 416.8,324.5 415.8,324.7 414.8,324.6 413.8,324.6 412.8,324.7 411.8,324.7 410.8,324.9 409.8,325.0 408.8,325.1 407.8,325.0 406.8,325.0 405.8,325.2 404.8,324.8 403.8,325.2 402.8,325.3 401.8,325.0 400.8,324.8 399.8,324.4 398.8,324.5 397.8,324.0 396.8,323.9 395.8,323.5 394.8,322.9 393.8,322.1 392.8,321.7 391.8,321.3 390.8,320.6 389.8,320.4 388.8,320.1 387.8,320.2 386.8,320.0 385.8,319.8 384.8,319.5 383.8,319.3 382.8,319.3 381.8,318.7 380.8,318.0 379.8,317.5 378.8,317.2 377.8,316.9 376.8,316.2 375.8,315.6 374.8,315.4 373.8,314.8 372.8,314.0 371.8,313.7 370.8,313.2 369.8,313.5 368.8,313.2 367.8,313.4 366.8,313.3 365.8,313.8 364.8,314.7 363.8,315.6 362.8,315.9 361.8,316.8 360.8,317.9 359.8,318.4 358.8,319.0 357.8,319.8 356.8,319.9 355.8,321.1 354.8,322.0 353.8,322.1 352.8,323.1 351.8,323.6 350.8,324.3 349.8,324.6 348.8,325.3 347.8,326.5 346.8,326.4 345.8,326.4 344.8,326.8 343.8,326.2 342.8,326.1 341.8,325.5 340.8,325.6 339.8,325.7 338.8,325.5 337.8,325.3 336.8,325.4 335.8,324.9 334.8,324.7 333.8,324.8 332.8,324.5 331.8,324.6 330.8,324.2 329.8,323.9 328.8,324.0 327.8,323.8 326.8,324.2 325.8,323.9 324.8,324.2 323.8,324.2 322.8,324.9 321.8,325.2 320.8,325.8 319.8,326.7 318.8,326.8 317.8,327.5 316.8,327.0 315.8,327.0 314.8,327.0 313.8,327.4 312.8,327.2 311.8,326.8 310.8,326.6 309.8,326.4 308.8,326.5 307.8,326.2 306.8,325.7 305.8,325.4 304.8,325.5 303.8,325.2 302.8,325.2 301.8,325.0 300.8,324.9 299.8,324.6 298.8,324.2 297.8,324.3 296.8,324.0 295.8,323.7 294.8,323.1 293.8,322.9 292.8,322.5 291.8,322.1 290.8,321.7 289.8,321.5 288.8,321.5 287.8,321.9 286.8,321.7 285.8,321.3 284.8,322.0 283.8,322.4 282.8,321.7 281.8,321.8 280.8,322.3 279.8,322.4 278.8,322.4 277.8,322.2 276.8,322.6 275.8,322.3 274.8,323.2 273.8,322.9 272.8,322.6 271.8,322.8 270.8,323.4 269.8,323.4 268.8,322.9 267.8,323.3 266.8,323.6 265.8,323.8 264.8,323.5 263.8,323.6 262.8,324.3 261.8,323.5 260.8,324.1 259.8,324.1 258.8,324.4 257.8,324.5 256.8,324.0 255.8,324.6 254.8,324.7 253.8,324.6 252.8,324.6 251.8,324.4 250.8,324.8 249.8,325.1 248.8,325.1 247.8,325.1 246.8,324.2 245.8,323.0 244.8,320.6 243.8,317.7 242.8,314.2 241.8,310.4 240.8,308.5 239.8,309.6 238.8,310.8 237.8,313.8 236.8,316.2 235.8,318.8 234.8,320.0 233.8,322.4 232.8,323.5 231.8,325.2 230.8,324.9 229.8,325.1 228.8,325.1 227.8,325.2 226.8,325.1 225.8,325.4 224.8,324.9 223.8,325.0 222.8,324.6 221.8,324.6 220.8,324.3 219.8,324.4 218.8,323.9 217.8,324.1 216.8,323.7 215.8,323.7 214.8,323.5 213.8,323.3 212.8,323.1 211.8,323.3 210.8,323.1 209.8,323.2 208.8,322.5 207.8,322.4 206.8,322.8 205.8,322.4 204.8,322.3 203.8,322.0 202.8,321.9 201.8,321.9 200.8,321.5 199.8,321.7 198.8,321.8 197.8,322.1 196.8,322.6 195.8,323.0 194.8,323.2 193.8,323.9 192.8,323.9 191.8,324.1 190.8,324.6 189.8,325.1 188.8,324.5 187.8,324.9 186.8,324.8 185.8,324.8 184.8,324.0 183.8,324.0 182.8,323.9 181.8,322.9 180.8,323.3 179.8,323.0 178.8,322.6 177.8,322.8 176.8,322.7 175.8,322.2 174.8,322.9 173.8,322.3 172.8,322.2 171.8,322.3 170.8,321.9 169.8,321.3 168.8,321.3 167.8,320.9 166.8,320.7 165.8,320.3 164.8,319.9 163.8,319.0 162.8,316.8 161.8,314.7 160.8,312.4 159.8,310.7 158.8,310.8 157.8,312.9 156.8,315.2 155.8,317.4 154.8,318.1 153.8,318.3 152.8,318.4 151.8,318.9 150.8,320.1 149.8,320.4 148.8,321.6 147.8,322.1 146.8,321.2 145.8,319.6 144.8,318.2 143.8,317.3 142.8,316.9 141.8,318.0 140.8,318.8 139.8,319.6 138.8,321.3 137.8,324.8 136.8,327.1 135.8,326.9 134.8,324.5 133.8,322.0 132.8,319.9 131.8,317.7 130.8,316.4 129.8,314.4 128.8,312.9 127.8,311.4 126.8,311.3 125.8,312.4 124.8,314.2 123.8,315.4 122.8,316.7 121.8,317.8 120.8,318.0 119.8,317.6 118.8,317.6 117.8,317.1 116.8,317.4 115.8,316.9 114.8,317.3 113.8,316.7 112.8,317.2 111.8,317.2 110.8,317.5 109.8,317.9 108.8,317.5 107.8,317.4 106.8,317.5 105.8,318.1 104.8,318.3 103.8,318.2 102.8,319.0 101.8,319.3 100.8,319.7 99.8,320.0 98.8,320.8 97.8,321.1 96.8,321.5 95.8,321.5 94.8,322.3 93.8,322.6 92.8,322.9 91.8,323.9 90.8,324.1 89.8,324.9 88.8,324.7 87.8,324.7 86.8,325.2 85.8,325.4 84.8,325.3 83.8,325.1 82.8,325.2 81.8,325.1 80.8,325.3 79.8,325.7 78.8,325.4 77.8,325.6 76.8,325.6 75.8,325.8 74.8,325.5 73.8,325.3 72.8,325.4 71.8,325.7 70.8,325.9 69.8,325.9 68.8,325.7 67.8,325.1 66.8,325.5 65.8,325.1 64.8,324.8 63.8,324.8 62.8,325.1 61.8,324.5 60.8,324.3 59.8,324.5 58.8,324.2 57.8,324.2 56.8,323.9 55.8,323.6 54.8,323.2 53.8,323.4 52.8,323.3 51.8,323.1 50.8,322.9 49.8,323.0 48.8,322.8 47.8,322.4 46.8,322.7 45.8,322.5 44.8,322.4 43.8,322.3 42.8,322.2 41.8,322.6 40.8,321.8 39.8,321.9 38.8,322.2 37.8,322.2 36.8,321.9 35.8,322.5 34.8,322.3 33.8,322.2 32.8,322.1" fill="#00ff00"/><polyline points="32.8,329.6 33.8,329.6 34.8,329.6 35.8,329.6 36.8,329.5 37.8,329.5 38.8,329.5 39.8,329.5 40.8,329.4 41.8,329.5 42.8,329.5 43.8,329.5 44.8,329.5 45.8,329.5 46.8,329.5 47.8,329.4 48.8,329.5 49.8,329.5 50.8,329.5 51.8,329.5 52.8,329.5 53.8,329.5 54.8,329.5 55.8,329.5 56.8,329.5 57.8,329.6 58.8,329.5 59.8,329.6 60.8,329.5 61.8,329.5 62.8,329.6 63.8,329.6 64.8,329.6 65.8,329.6 66.8,329.6 67.8,329.6 68.8,329.6 69.8,329.7 70.8,329.6 71.8,329.6 72.8,329.6 73.8,329.5 74.8,329.5 75.8,329.6 76.8,329.5 77.8,329.5 78.8,329.5 79.8,329.5 80.8,329.4 81.8,329.4 82.8,329.4 83.8,329.4 84.8,329.4 85.8,329.4 86.8,329.4 87.8,329.3 88.8,329.3 89.8,329.3 90.8,329.2 91.8,329.1 92.8,329.0 93.8,328.9 94.8,328.9 95.8,328.7 96.8,328.6 97.8,328.5 98.8,328.4 99.8,328.2 100.8,328.0 101.8,327.9 102.8,327.8 103.8,327.6 104.8,327.5 105.8,327.4 106.8,327.2 107.8,327.1 108.8,327.0 109.8,327.0 110.8,326.9 111.8,326.7 112.8,326.6 113.8,326.5 114.8,326.5 115.8,326.3 116.8,326.2 117.8,326.0 118.8,326.0 119.8,325.8 120.8,325.7 121.8,325.5 122.8,325.3 123.8,324.9 124.8,324.6 125.8,324.2 126.8,324.0 127.8,324.2 128.8,324.6 129.8,325.1 130.8,325.6 131.8,326.1 132.8,327.0 133.8,328.6 134.8,330.7 135.8,332.8 136.8,333.5 137.8,332.0 138.8,329.5 139.8,327.4 140.8,326.3 141.8,325.6 142.8,325.1 143.8,324.9 144.8,325.1 145.8,325.4 146.8,325.9 147.8,326.2 148.8,326.4 149.8,326.4 150.8,326.6 151.8,326.6 152.8,326.8 153.8,327.0 154.8,327.2 155.8,327.3 156.8,327.2 157.8,327.1 158.8,327.0 159.8,327.2 160.8,327.6 161.8,328.1 162.8,328.6 163.8,329.1 164.8,329.4 165.8,329.5 166.8,329.6 167.8,329.6 168.8,329.6 169.8,329.6 170.8,329.7 171.8,329.7 172.8,329.7 173.8,329.7 174.8,329.8 175.8,329.7 176.8,329.8 177.8,329.8 178.8,329.8 179.8,329.8 180.8,329.9 181.8,329.8 182.8,329.9 183.8,329.9 184.8,330.0 185.8,330.0 186.8,330.0 187.8,330.1 188.8,330.0 189.8,330.1 190.8,330.0 191.8,329.9 192.8,329.9 193.8,329.9 194.8,329.8 195.8,329.8 196.8,329.7 197.8,329.7 198.8,329.6 199.8,329.6 200.8,329.6 201.8,329.6 202.8,329.6 203.8,329.6 204.8,329.7 205.8,329.7 206.8,329.7 207.8,329.7 208.8,329.7 209.8,329.8 210.8,329.8 211.8,329.8 212.8,329.8 213.8,329.8 214.8,329.8 215.8,329.8 216.8,329.8 217.8,329.9 218.8,329.8 219.8,329.9 220.8,329.9 221.8,329.9 222.8,329.9 223.8,330.0 224.8,330.0 225.8,330.0 226.8,330.0 227.8,330.0 228.8,330.0 229.8,330.0 230.8,329.9 231.8,330.0 232.8,329.8 233.8,329.6 234.8,329.2 235.8,328.5 236.8,326.2 237.8,323.7 238.8,322.3 239.8,321.9 240.8,321.8 241.8,322.1 242.8,323.2 243.8,325.6 244.8,328.1 245.8,329.5 246.8,329.8 247.8,329.9 248.8,329.9 249.8,329.9 250.8,329.9 251.8,329.8 252.8,329.8 253.8,329.8 254.8,329.8 255.8,329.8 256.8,329.7 257.8,329.8 258.8,329.8 259.8,329.7 260.8,329.7 261.8,329.6 262.8,329.7 263.8,329.6 264.8,329.6 265.8,329.6 266.8,329.6 267.8,329.5 268.8,329.5 269.8,329.5 270.8,329.5 271.8,329.4 272.8,329.4 273.8,329.4 274.8,329.5 275.8,329.4 276.8,329.4 277.8,329.3 278.8,329.3 279.8,329.3 280.8,329.3 281.8,329.2 282.8,329.2 283.8,329.3 284.8,329.3 285.8,329.1 286.8,329.2 287.8,329.2 288.8,329.1 289.8,329.1 290.8,329.2 291.8,329.2 292.8,329.2 293.8,329.3 294.8,329.3 295.8,329.4 296.8,329.4 297.8,329.5 298.8,329.4 299.8,329.5 300.8,329.5 301.8,329.5 302.8,329.5 303.8,329.5 304.8,329.6 305.8,329.5 306.8,329.6 307.8,329.6 308.8,329.7 309.8,329.6 310.8,329.7 311.8,329.7 312.8,329.7 313.8,329.7 314.8,329.7 315.8,329.7 316.8,329.7 317.8,329.7 318.8,329.6 319.8,329.6 320.8,329.5 321.8,329.4 322.8,329.3 323.8,329.2 324.8,329.2 325.8,329.2 326.8,329.2 327.8,329.2 328.8,329.2 329.8,329.2 330.8,329.2 331.8,329.2 332.8,329.2 333.8,329.2 334.8,329.2 335.8,329.3 336.8,329.3 337.8,329.3 338.8,329.3 339.8,329.3 340.8,329.3 341.8,329.3 342.8,329.4 343.8,329.4 344.8,329.4 345.8,329.4 346.8,329.4 347.8,329.4 348.8,329.2 349.8,329.1 350.8,329.0 351.8,328.9 352.8,328.9 353.8,328.7 354.8,328.7 355.8,328.6 356.8,328.4 357.8,328.4 358.8,328.3 359.8,328.2 360.8,328.1 361.8,327.9 362.8,327.7 363.8,327.6 364.8,327.4 365.8,327.2 366.8,327.0 367.8,327.0 368.8,326.9 369.8,326.9 370.8,326.8 371.8,326.9 372.8,327.0 373.8,327.2 374.8,327.3 375.8,327.4 376.8,327.5 377.8,327.7 378.8,327.7 379.8,327.8 380.8,327.9 381.8,328.1 382.8,328.2 383.8,328.3 384.8,328.3 385.8,328.4 386.8,328.5 387.8,328.6 388.8,328.7 389.8,328.8 390.8,328.9 391.8,329.1 392.8,329.2 393.8,329.3 394.8,329.5 395.8,329.6 396.8,329.8 397.8,329.8 398.8,330.0 399.8,330.0 400.8,330.1 401.8,330.1 402.8,330.2 403.8,330.1 404.8,330.1 405.8,330.1 406.8,330.1 407.8,330.1 408.8,330.1 409.8,330.1 410.8,330.1 411.8,330.0 412.8,330.0 413.8,330.0 414.8,330.0 415.8,330.0 416.8,330.0 417.8,330.0 418.8,329.9 419.8,330.0 420.8,329.9 421.8,329.8 422.8,329.9 423.8,329.9 424.8,329.9 425.8,329.8 426.8,329.9 427.8,329.9 428.8,329.9 429.8,329.9 430.8,329.8 431.8,329.9 432.8,329.9 433.8,329.9 434.8,329.9 435.8,329.9 436.8,329.9 437.8,329.9 438.8,329.9 439.8,329.9 440.8,329.9 441.8,329.9 442.8,329.9 443.8,329.9 444.8,329.9 445.8,329.9 446.8,329.9 447.8,329.9 448.8,329.9 449.8,329.9 450.8,329.9 451.8,329.9 452.8,329.8 453.8,329.9 454.8,329.9 455.8,329.8 456.8,329.7 457.8,329.6 458.8,329.6 459.8,329.5 460.8,329.5 461.8,329.5 462.8,329.6 463.8,329.7 464.8,329.9 465.8,329.9 466.8,329.9 467.8,329.9 468.8,329.9 469.8,329.9 470.8,329.9 471.8,329.9 472.8,329.9 473.8,329.9 474.8,329.9 475.8,329.9 476.8,329.9 477.8,329.9 478.8,329.9 479.8,329.9 480.8,329.9 481.8,329.9 482.8,330.0 483.8,329.9 484.8,329.9 485.8,329.9 486.8,329.9 487.8,330.0 488.8,329.9 489.8,329.9 490.8,329.8 491.8,329.9 492.8,329.8 493.8,329.7 494.8,329.7 495.8,329.7 496.8,329.8 497.8,329.9 498.8,329.9 499.8,329.9 500.8,330.0 501.8,329.9 502.8,330.0 503.8,329.9 504.8,330.0 505.8,330.0 506.8,330.0 507.8,330.0 508.8,329.9 509.8,329.9 510.8,330.0 511.8,330.0 512.8,330.0 513.8,330.0 514.8,330.0 515.8,330.0 516.8,330.1 517.8,330.0 518.8,329.9 519.8,329.7 520.8,329.7 521.8,329.6 522.8,329.6 523.8,329.7 524.8,329.8 525.8,329.9 526.8,329.9 527.8,330.0 528.8,330.0 529.8,330.0 530.8,330.0 531.8,330.0 532.8,330.0 533.8,330.1 534.8,330.1 535.8,330.0 536.8,330.0 537.8,330.1 538.8,330.1 539.8,330.0 540.8,330.1 541.8,330.0 542.8,330.1 543.8,330.0 544.8,330.0" fill="none" stroke="#ffffff" stroke-width="0.8" stroke-linejoin="round" stroke-linecap="round" stroke-dasharray="0.8 2.6" opacity="0.5"/></g><g stroke="#111111" stroke-width="1.7" fill="none"><line x1="29.0" y1="112.4" x2="29.0" y2="107.9" /><line x1="29.0" y1="27.0" x2="29.0" y2="31.5" /><line x1="80.5" y1="112.4" x2="80.5" y2="107.9" /><line x1="80.5" y1="27.0" x2="80.5" y2="31.5" /><line x1="131.9" y1="112.4" x2="131.9" y2="107.9" /><line x1="131.9" y1="27.0" x2="131.9" y2="31.5" /><line x1="183.4" y1="112.4" x2="183.4" y2="107.9" /><line x1="183.4" y1="27.0" x2="183.4" y2="31.5" /><line x1="234.8" y1="112.4" x2="234.8" y2="107.9" /><line x1="234.8" y1="27.0" x2="234.8" y2="31.5" /><line x1="286.3" y1="112.4" x2="286.3" y2="107.9" /><line x1="286.3" y1="27.0" x2="286.3" y2="31.5" /><line x1="337.8" y1="112.4" x2="337.8" y2="107.9" /><line x1="337.8" y1="27.0" x2="337.8" y2="31.5" /><line x1="389.2" y1="112.4" x2="389.2" y2="107.9" /><line x1="389.2" y1="27.0" x2="389.2" y2="31.5" /><line x1="440.7" y1="112.4" x2="440.7" y2="107.9" /><line x1="440.7" y1="27.0" x2="440.7" y2="31.5" /><line x1="492.1" y1="112.4" x2="492.1" y2="107.9" /><line x1="492.1" y1="27.0" x2="492.1" y2="31.5" /><line x1="543.6" y1="112.4" x2="543.6" y2="107.9" /><line x1="543.6" y1="27.0" x2="543.6" y2="31.5" /><line x1="29.0" y1="112.4" x2="33.5" y2="112.4" /><line x1="543.6" y1="112.4" x2="539.1" y2="112.4" /><line x1="29.0" y1="91.1" x2="33.5" y2="91.1" /><line x1="543.6" y1="91.1" x2="539.1" y2="91.1" /><line x1="29.0" y1="69.7" x2="33.5" y2="69.7" /><line x1="543.6" y1="69.7" x2="539.1" y2="69.7" /><line x1="29.0" y1="48.3" x2="33.5" y2="48.3" /><line x1="543.6" y1="48.3" x2="539.1" y2="48.3" /><line x1="29.0" y1="27.0" x2="33.5" y2="27.0" /><line x1="543.6" y1="27.0" x2="539.1" y2="27.0" /><rect x="29.0" y="27.0" width="514.6" height="85.4" fill="none"/></g><g stroke="#111111" stroke-width="1.7" fill="none"><line x1="33.0" y1="234.8" x2="33.0" y2="230.3" /><line x1="33.0" y1="159.8" x2="33.0" y2="164.3" /><line x1="84.0" y1="234.8" x2="84.0" y2="230.3" /><line x1="84.0" y1="159.8" x2="84.0" y2="164.3" /><line x1="134.9" y1="234.8" x2="134.9" y2="230.3" /><line x1="134.9" y1="159.8" x2="134.9" y2="164.3" /><line x1="185.8" y1="234.8" x2="185.8" y2="230.3" /><line x1="185.8" y1="159.8" x2="185.8" y2="164.3" /><line x1="236.8" y1="234.8" x2="236.8" y2="230.3" /><line x1="236.8" y1="159.8" x2="236.8" y2="164.3" /><line x1="287.8" y1="234.8" x2="287.8" y2="230.3" /><line x1="287.8" y1="159.8" x2="287.8" y2="164.3" /><line x1="338.7" y1="234.8" x2="338.7" y2="230.3" /><line x1="338.7" y1="159.8" x2="338.7" y2="164.3" /><line x1="389.6" y1="234.8" x2="389.6" y2="230.3" /><line x1="389.6" y1="159.8" x2="389.6" y2="164.3" /><line x1="440.6" y1="234.8" x2="440.6" y2="230.3" /><line x1="440.6" y1="159.8" x2="440.6" y2="164.3" /><line x1="491.6" y1="234.8" x2="491.6" y2="230.3" /><line x1="491.6" y1="159.8" x2="491.6" y2="164.3" /><line x1="542.5" y1="234.8" x2="542.5" y2="230.3" /><line x1="542.5" y1="159.8" x2="542.5" y2="164.3" /><line x1="33.0" y1="234.8" x2="37.5" y2="234.8" /><line x1="542.5" y1="234.8" x2="538.0" y2="234.8" /><line x1="33.0" y1="216.1" x2="37.5" y2="216.1" /><line x1="542.5" y1="216.1" x2="538.0" y2="216.1" /><line x1="33.0" y1="197.3" x2="37.5" y2="197.3" /><line x1="542.5" y1="197.3" x2="538.0" y2="197.3" /><line x1="33.0" y1="178.6" x2="37.5" y2="178.6" /><line x1="542.5" y1="178.6" x2="538.0" y2="178.6" /><line x1="33.0" y1="159.8" x2="37.5" y2="159.8" /><line x1="542.5" y1="159.8" x2="538.0" y2="159.8" /><rect x="33.0" y="159.8" width="509.5" height="75.0" fill="none"/></g><g stroke="#111111" stroke-width="1.7" fill="none"><line x1="32.6" y1="354.0" x2="32.6" y2="349.5" /><line x1="32.6" y1="273.0" x2="32.6" y2="277.5" /><line x1="83.8" y1="354.0" x2="83.8" y2="349.5" /><line x1="83.8" y1="273.0" x2="83.8" y2="277.5" /><line x1="135.1" y1="354.0" x2="135.1" y2="349.5" /><line x1="135.1" y1="273.0" x2="135.1" y2="277.5" /><line x1="186.3" y1="354.0" x2="186.3" y2="349.5" /><line x1="186.3" y1="273.0" x2="186.3" y2="277.5" /><line x1="237.6" y1="354.0" x2="237.6" y2="349.5" /><line x1="237.6" y1="273.0" x2="237.6" y2="277.5" /><line x1="288.8" y1="354.0" x2="288.8" y2="349.5" /><line x1="288.8" y1="273.0" x2="288.8" y2="277.5" /><line x1="340.0" y1="354.0" x2="340.0" y2="349.5" /><line x1="340.0" y1="273.0" x2="340.0" y2="277.5" /><line x1="391.3" y1="354.0" x2="391.3" y2="349.5" /><line x1="391.3" y1="273.0" x2="391.3" y2="277.5" /><line x1="442.5" y1="354.0" x2="442.5" y2="349.5" /><line x1="442.5" y1="273.0" x2="442.5" y2="277.5" /><line x1="493.8" y1="354.0" x2="493.8" y2="349.5" /><line x1="493.8" y1="273.0" x2="493.8" y2="277.5" /><line x1="545.0" y1="354.0" x2="545.0" y2="349.5" /><line x1="545.0" y1="273.0" x2="545.0" y2="277.5" /><line x1="32.6" y1="354.0" x2="37.1" y2="354.0" /><line x1="545.0" y1="354.0" x2="540.5" y2="354.0" /><line x1="32.6" y1="333.8" x2="37.1" y2="333.8" /><line x1="545.0" y1="333.8" x2="540.5" y2="333.8" /><line x1="32.6" y1="313.5" x2="37.1" y2="313.5" /><line x1="545.0" y1="313.5" x2="540.5" y2="313.5" /><line x1="32.6" y1="293.2" x2="37.1" y2="293.2" /><line x1="545.0" y1="293.2" x2="540.5" y2="293.2" /><line x1="32.6" y1="273.0" x2="37.1" y2="273.0" /><line x1="545.0" y1="273.0" x2="540.5" y2="273.0" /><rect x="32.6" y="273.0" width="512.4" height="81.0" fill="none"/></g></g><g font-size="10.3"><text x="29.0" y="122.6" text-anchor="middle">0</text><text x="80.5" y="122.6" text-anchor="middle">0.<tspan font-family="IPAGothic, 'Liberation Sans', sans-serif">1</tspan></text><text x="131.9" y="122.6" text-anchor="middle">0.2</text><text x="183.4" y="122.6" text-anchor="middle">0.3</text><text x="234.8" y="122.6" text-anchor="middle">0.4</text><text x="286.3" y="122.6" text-anchor="middle">0.5</text><text x="337.8" y="122.6" text-anchor="middle">0.6</text><text x="389.2" y="122.6" text-anchor="middle">0.7</text><text x="440.7" y="122.6" text-anchor="middle">0.8</text><text x="492.1" y="122.6" text-anchor="middle">0.9</text><text x="543.6" y="122.6" text-anchor="middle"><tspan font-family="IPAGothic, 'Liberation Sans', sans-serif">1</tspan></text><text x="27.1" y="116.1" text-anchor="end" font-size="10.1">−4</text><text x="27.1" y="94.8" text-anchor="end" font-size="10.1">−2</text><text x="27.1" y="73.4" text-anchor="end" font-size="10.1">0</text><text x="27.1" y="52.0" text-anchor="end" font-size="10.1">2</text><text x="27.1" y="30.7" text-anchor="end" font-size="10.1">4</text></g><g font-size="10.3"><text x="33.0" y="245.0" text-anchor="middle">0</text><text x="84.0" y="245.0" text-anchor="middle">0.<tspan font-family="IPAGothic, 'Liberation Sans', sans-serif">1</tspan></text><text x="134.9" y="245.0" text-anchor="middle">0.2</text><text x="185.8" y="245.0" text-anchor="middle">0.3</text><text x="236.8" y="245.0" text-anchor="middle">0.4</text><text x="287.8" y="245.0" text-anchor="middle">0.5</text><text x="338.7" y="245.0" text-anchor="middle">0.6</text><text x="389.6" y="245.0" text-anchor="middle">0.7</text><text x="440.6" y="245.0" text-anchor="middle">0.8</text><text x="491.6" y="245.0" text-anchor="middle">0.9</text><text x="542.5" y="245.0" text-anchor="middle"><tspan font-family="IPAGothic, 'Liberation Sans', sans-serif">1</tspan></text><text x="31.1" y="238.5" text-anchor="end" font-size="10.1">−5</text><text x="31.1" y="219.8" text-anchor="end" font-size="10.1">0</text><text x="31.1" y="201.0" text-anchor="end" font-size="10.1">5</text><text x="31.1" y="182.2" text-anchor="end" font-size="10.1"><tspan font-family="IPAGothic, 'Liberation Sans', sans-serif">1</tspan>0</text><text x="31.1" y="163.5" text-anchor="end" font-size="10.1"><tspan font-family="IPAGothic, 'Liberation Sans', sans-serif">1</tspan>5</text></g><g font-size="10.3"><text x="32.6" y="364.2" text-anchor="middle">0</text><text x="83.8" y="364.2" text-anchor="middle">0.<tspan font-family="IPAGothic, 'Liberation Sans', sans-serif">1</tspan></text><text x="135.1" y="364.2" text-anchor="middle">0.2</text><text x="186.3" y="364.2" text-anchor="middle">0.3</text><text x="237.6" y="364.2" text-anchor="middle">0.4</text><text x="288.8" y="364.2" text-anchor="middle">0.5</text><text x="340.0" y="364.2" text-anchor="middle">0.6</text><text x="391.3" y="364.2" text-anchor="middle">0.7</text><text x="442.5" y="364.2" text-anchor="middle">0.8</text><text x="493.8" y="364.2" text-anchor="middle">0.9</text><text x="545.0" y="364.2" text-anchor="middle"><tspan font-family="IPAGothic, 'Liberation Sans', sans-serif">1</tspan></text><text x="30.7" y="357.7" text-anchor="end" font-size="10.1">−<tspan font-family="IPAGothic, 'Liberation Sans', sans-serif">1</tspan></text><text x="30.7" y="337.4" text-anchor="end" font-size="10.1">0</text><text x="30.7" y="317.2" text-anchor="end" font-size="10.1"><tspan font-family="IPAGothic, 'Liberation Sans', sans-serif">1</tspan></text><text x="30.7" y="296.9" text-anchor="end" font-size="10.1">2</text><text x="30.7" y="276.7" text-anchor="end" font-size="10.1">3</text></g><text x="9.8" y="12.0" font-size="9.3" font-weight="bold" style="stroke-width:0.1px">(a)</text><text x="6.8" y="147.0" font-size="9.3" font-weight="bold" style="stroke-width:0.1px">(b)</text><text x="3.0" y="258.0" font-size="9.3" font-weight="bold" style="stroke-width:0.1px">(c)</text><text x="203.3" y="10.2" font-size="9.5" textLength="166.3" lengthAdjust="spacingAndGlyphs">Displacements of the free end with Hinf</text><text x="240.6" y="20.4" font-size="9.5" textLength="90.4" lengthAdjust="spacingAndGlyphs">for differents A and B</text><text x="266.2" y="132.3" font-size="9.5" textLength="38.5" lengthAdjust="spacingAndGlyphs">Time sec</text><text x="208.2" y="141.8" font-size="9.5" textLength="158.2" lengthAdjust="spacingAndGlyphs">Displacements with differents A και B</text><text x="238.2" y="152.7" font-size="9.5" textLength="97.3" lengthAdjust="spacingAndGlyphs">with and without control</text><text x="268.2" y="255.3" font-size="9.5" textLength="38.2" lengthAdjust="spacingAndGlyphs">Time sec</text><text x="237.0" y="265.5" font-size="9.5" textLength="102.8" lengthAdjust="spacingAndGlyphs">Voltages of the free end</text><text transform="translate(12.2,69.6) rotate(-90)" text-anchor="middle" font-size="9.5" textLength="65" lengthAdjust="spacingAndGlyphs">Displacement m</text><text transform="translate(15.3,199.1) rotate(-90)" text-anchor="middle" font-size="9.5" textLength="62" lengthAdjust="spacingAndGlyphs">Displacement m</text><text transform="translate(16.2,312.0) rotate(-90)" text-anchor="middle" font-size="9.5" textLength="51.8" lengthAdjust="spacingAndGlyphs">Voltages*10</text><text x="28.8" y="25.0" font-size="9.2" textLength="18.0" lengthAdjust="spacingAndGlyphs">x <tspan font-family="IPAGothic, 'Liberation Sans', sans-serif">1</tspan>0</text><text x="48.2" y="20.9" font-size="4.2" style="stroke-width:0.25px">-5</text><text x="32.8" y="157.0" font-size="9.0" textLength="17.2" lengthAdjust="spacingAndGlyphs">x <tspan font-family="IPAGothic, 'Liberation Sans', sans-serif">1</tspan>0</text><text x="52.0" y="153.2" font-size="4.2" style="stroke-width:0.25px">-5</text></svg></div></body></html>
